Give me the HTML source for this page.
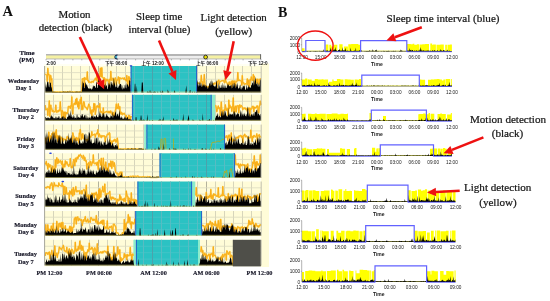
<!DOCTYPE html>
<html><head><meta charset="utf-8"><title>Activity and sleep monitoring</title>
<style>html,body{margin:0;padding:0;background:#fff;width:550px;height:301px;overflow:hidden}svg{display:block}</style>
</head><body>
<svg width="550" height="301" viewBox="0 0 550 301"><rect x="44.0" y="64" width="217.0" height="203" fill="#fffff2"/>
<rect x="261.0" y="63.5" width="8" height="203.5" fill="#fffcd8"/>
<rect x="45.0" y="66.0" width="216.0" height="26.50" fill="#fffcd8"/>
<path d="M53.5 66.0V92.5 M62.5 66.0V92.5 M71.5 66.0V92.5 M80.5 66.0V92.5 M89.5 66.0V92.5 M107.5 66.0V92.5 M116.5 66.0V92.5 M125.5 66.0V92.5 M134.5 66.0V92.5 M143.5 66.0V92.5 M161.5 66.0V92.5 M170.5 66.0V92.5 M179.5 66.0V92.5 M188.5 66.0V92.5 M197.5 66.0V92.5 M215.5 66.0V92.5 M224.5 66.0V92.5 M233.5 66.0V92.5 M242.5 66.0V92.5 M251.5 66.0V92.5" stroke="#d2d0b8" stroke-width="0.9" fill="none"/>
<path d="M98.5 66.0V92.5 M152.5 66.0V92.5 M206.5 66.0V92.5" stroke="#aaa996" stroke-width="0.9" fill="none"/>
<path d="M45.0 72.62H261.0 M45.0 79.25H261.0 M45.0 85.88H261.0" stroke="#dcdac0" stroke-width="0.8" fill="none"/>
<rect x="130.7" y="66.0" width="66.30000000000001" height="26.50" fill="#2bc2c3"/>
<path d="M134.5 66.0V92.5 M143.5 66.0V92.5 M161.5 66.0V92.5 M170.5 66.0V92.5 M179.5 66.0V92.5 M188.5 66.0V92.5" stroke="#6ab8c0" stroke-width="0.75" fill="none"/>
<path d="M130.7 72.62H197.0 M130.7 79.25H197.0 M130.7 85.88H197.0" stroke="#4cc4c8" stroke-width="0.7" fill="none"/>
<path d="M152.5 66.0V92.5" stroke="#4f9ea8" stroke-width="0.9" fill="none"/>
<polyline points="45.3,74.55 45.8,74.35 46.3,74.91 46.8,75.54 47.3,81.34 47.8,68.21 48.3,75.02 48.8,73.98 49.3,75.89 49.8,83.10 50.3,75.29 50.8,75.68 51.3,79.99 51.8,78.64 52.3,91.97 52.8,91.97 53.3,91.97 53.8,91.97 54.3,91.97 54.8,91.97 55.3,91.97 55.8,91.89 56.3,91.97 56.8,91.84 57.3,91.84 57.8,91.86 58.3,91.97 58.8,91.97 59.3,91.97 59.8,91.95 60.3,91.97 60.8,91.96 61.3,91.97 61.8,91.96 62.3,91.77 62.8,91.92 63.3,91.82 63.8,91.73 64.3,91.85 64.8,91.91 65.3,91.87 65.8,91.85 66.3,91.96 66.8,91.82 67.3,91.68 67.8,91.96 68.3,91.72 68.8,91.80 69.3,91.60 69.8,91.37 70.3,91.49 70.8,91.70 71.3,91.59 71.8,91.82 72.3,91.90 72.8,91.83 73.3,91.91 73.8,91.85 74.3,91.78 74.8,91.97 75.3,91.88 75.8,91.92 76.3,91.84 76.8,91.97 77.3,91.92 77.8,91.87 78.3,91.74 78.8,91.69 79.3,91.91 79.8,91.85 80.3,91.70 80.8,91.94 81.3,91.80 81.8,91.76 82.3,78.68 82.8,79.17 83.3,78.30 83.8,78.44 84.3,86.41 84.8,77.46 85.3,79.16 85.8,79.30 86.3,78.99 86.8,79.57 87.3,71.80 87.8,80.87 88.3,80.24 88.8,82.57 89.3,81.50 89.8,81.97 90.3,82.53 90.8,81.94 91.3,82.59 91.8,81.39 92.3,81.94 92.8,81.23 93.3,82.32 93.8,80.76 94.3,79.97 94.8,79.82 95.3,78.22 95.8,78.29 96.3,80.59 96.8,75.33 97.3,77.36 97.8,81.97 98.3,76.17 98.8,78.56 99.3,76.37 99.8,76.29 100.3,68.04 100.8,75.83 101.3,77.01 101.8,67.65 102.3,76.55 102.8,77.64 103.3,77.86 103.8,80.23 104.3,77.74 104.8,78.55 105.3,86.47 105.8,79.47 106.3,79.22 106.8,80.79 107.3,80.41 107.8,79.32 108.3,81.20 108.8,81.59 109.3,87.44 109.8,79.03 110.3,80.23 110.8,71.22 111.3,79.39 111.8,80.41 112.3,78.41 112.8,78.27 113.3,79.23 113.8,86.41 114.3,79.11 114.8,79.58 115.3,77.80 115.8,78.89 116.3,84.89 116.8,80.14 117.3,79.75 117.8,80.09 118.3,76.81 118.8,77.85 119.3,83.69 119.8,77.68 120.3,78.35 120.8,78.24 121.3,78.67 121.8,78.55 122.3,78.06 122.8,78.35 123.3,78.41 123.8,79.36 124.3,77.68 124.8,79.56 125.3,80.03 125.8,79.15 126.3,81.01 126.8,75.43 127.3,82.15 127.8,86.70 128.3,79.55 128.8,76.52 129.3,77.25 129.8,82.17 130.3,77.83" fill="none" stroke="#fcca48" stroke-width="1.5" stroke-linejoin="round"/>
<polyline points="197.3,84.13 197.8,82.62 198.3,83.24 198.8,83.35 199.3,83.55 199.8,83.99 200.3,83.30 200.8,82.72 201.3,75.24 201.8,81.47 202.3,81.57 202.8,86.85 203.3,82.90 203.8,82.29 204.3,74.42 204.8,81.97 205.3,87.03 205.8,86.34 206.3,85.76 206.8,87.00 207.3,87.23 207.8,86.75 208.3,86.66 208.8,90.17 209.3,85.92 209.8,84.75 210.3,85.94 210.8,85.70 211.3,86.05 211.8,87.18 212.3,85.53 212.8,85.23 213.3,83.42 213.8,84.60 214.3,83.08 214.8,83.06 215.3,83.78 215.8,83.43 216.3,82.45 216.8,88.65 217.3,81.25 217.8,81.73 218.3,80.80 218.8,79.99 219.3,84.44 219.8,81.55 220.3,81.50 220.8,81.34 221.3,80.81 221.8,81.06 222.3,80.71 222.8,80.59 223.3,80.82 223.8,80.50 224.3,82.62 224.8,82.70 225.3,77.90 225.8,81.26 226.3,82.09 226.8,82.55 227.3,83.74 227.8,85.64 228.3,84.12 228.8,83.18 229.3,81.88 229.8,84.97 230.3,83.00 230.8,84.26 231.3,81.22 231.8,87.43 232.3,80.73 232.8,84.52 233.3,80.99 233.8,83.74 234.3,81.74 234.8,80.77 235.3,86.99 235.8,82.24 236.3,81.23 236.8,81.77 237.3,80.11 237.8,72.39 238.3,79.83 238.8,80.72 239.3,79.99 239.8,80.39 240.3,80.63 240.8,80.72 241.3,81.42 241.8,85.26 242.3,75.52 242.8,83.18 243.3,83.00 243.8,82.69 244.3,84.70 244.8,84.26 245.3,83.67 245.8,83.68 246.3,84.21 246.8,83.37 247.3,78.83 247.8,84.92 248.3,82.67 248.8,79.96 249.3,87.46 249.8,84.74 250.3,79.23 250.8,80.60 251.3,76.78 251.8,79.61 252.3,79.53 252.8,80.79 253.3,74.45 253.8,79.05 254.3,76.13 254.8,82.07 255.3,85.59 255.8,83.75 256.3,81.55 256.8,79.11 257.3,82.85 257.8,79.03 258.3,83.08 258.8,84.38 259.3,83.68 259.8,79.17 260.3,78.69 260.8,78.99" fill="none" stroke="#fcca48" stroke-width="1.5" stroke-linejoin="round"/>
<polyline points="45.3,74.55 45.8,74.35 46.3,74.91 46.8,75.54 47.3,81.34 47.8,68.21 48.3,75.02 48.8,73.98 49.3,75.89 49.8,83.10 50.3,75.29 50.8,75.68 51.3,79.99 51.8,78.64 52.3,91.97 52.8,91.97 53.3,91.97 53.8,91.97 54.3,91.97 54.8,91.97 55.3,91.97 55.8,91.89 56.3,91.97 56.8,91.84 57.3,91.84 57.8,91.86 58.3,91.97 58.8,91.97 59.3,91.97 59.8,91.95 60.3,91.97 60.8,91.96 61.3,91.97 61.8,91.96 62.3,91.77 62.8,91.92 63.3,91.82 63.8,91.73 64.3,91.85 64.8,91.91 65.3,91.87 65.8,91.85 66.3,91.96 66.8,91.82 67.3,91.68 67.8,91.96 68.3,91.72 68.8,91.80 69.3,91.60 69.8,91.37 70.3,91.49 70.8,91.70 71.3,91.59 71.8,91.82 72.3,91.90 72.8,91.83 73.3,91.91 73.8,91.85 74.3,91.78 74.8,91.97 75.3,91.88 75.8,91.92 76.3,91.84 76.8,91.97 77.3,91.92 77.8,91.87 78.3,91.74 78.8,91.69 79.3,91.91 79.8,91.85 80.3,91.70 80.8,91.94 81.3,91.80 81.8,91.76 82.3,78.68 82.8,79.17 83.3,78.30 83.8,78.44 84.3,86.41 84.8,77.46 85.3,79.16 85.8,79.30 86.3,78.99 86.8,79.57 87.3,71.80 87.8,80.87 88.3,80.24 88.8,82.57 89.3,81.50 89.8,81.97 90.3,82.53 90.8,81.94 91.3,82.59 91.8,81.39 92.3,81.94 92.8,81.23 93.3,82.32 93.8,80.76 94.3,79.97 94.8,79.82 95.3,78.22 95.8,78.29 96.3,80.59 96.8,75.33 97.3,77.36 97.8,81.97 98.3,76.17 98.8,78.56 99.3,76.37 99.8,76.29 100.3,68.04 100.8,75.83 101.3,77.01 101.8,67.65 102.3,76.55 102.8,77.64 103.3,77.86 103.8,80.23 104.3,77.74 104.8,78.55 105.3,86.47 105.8,79.47 106.3,79.22 106.8,80.79 107.3,80.41 107.8,79.32 108.3,81.20 108.8,81.59 109.3,87.44 109.8,79.03 110.3,80.23 110.8,71.22 111.3,79.39 111.8,80.41 112.3,78.41 112.8,78.27 113.3,79.23 113.8,86.41 114.3,79.11 114.8,79.58 115.3,77.80 115.8,78.89 116.3,84.89 116.8,80.14 117.3,79.75 117.8,80.09 118.3,76.81 118.8,77.85 119.3,83.69 119.8,77.68 120.3,78.35 120.8,78.24 121.3,78.67 121.8,78.55 122.3,78.06 122.8,78.35 123.3,78.41 123.8,79.36 124.3,77.68 124.8,79.56 125.3,80.03 125.8,79.15 126.3,81.01 126.8,75.43 127.3,82.15 127.8,86.70 128.3,79.55 128.8,76.52 129.3,77.25 129.8,82.17 130.3,77.83" fill="none" stroke="#f8a810" stroke-width="0.75" stroke-linejoin="round"/>
<polyline points="197.3,84.13 197.8,82.62 198.3,83.24 198.8,83.35 199.3,83.55 199.8,83.99 200.3,83.30 200.8,82.72 201.3,75.24 201.8,81.47 202.3,81.57 202.8,86.85 203.3,82.90 203.8,82.29 204.3,74.42 204.8,81.97 205.3,87.03 205.8,86.34 206.3,85.76 206.8,87.00 207.3,87.23 207.8,86.75 208.3,86.66 208.8,90.17 209.3,85.92 209.8,84.75 210.3,85.94 210.8,85.70 211.3,86.05 211.8,87.18 212.3,85.53 212.8,85.23 213.3,83.42 213.8,84.60 214.3,83.08 214.8,83.06 215.3,83.78 215.8,83.43 216.3,82.45 216.8,88.65 217.3,81.25 217.8,81.73 218.3,80.80 218.8,79.99 219.3,84.44 219.8,81.55 220.3,81.50 220.8,81.34 221.3,80.81 221.8,81.06 222.3,80.71 222.8,80.59 223.3,80.82 223.8,80.50 224.3,82.62 224.8,82.70 225.3,77.90 225.8,81.26 226.3,82.09 226.8,82.55 227.3,83.74 227.8,85.64 228.3,84.12 228.8,83.18 229.3,81.88 229.8,84.97 230.3,83.00 230.8,84.26 231.3,81.22 231.8,87.43 232.3,80.73 232.8,84.52 233.3,80.99 233.8,83.74 234.3,81.74 234.8,80.77 235.3,86.99 235.8,82.24 236.3,81.23 236.8,81.77 237.3,80.11 237.8,72.39 238.3,79.83 238.8,80.72 239.3,79.99 239.8,80.39 240.3,80.63 240.8,80.72 241.3,81.42 241.8,85.26 242.3,75.52 242.8,83.18 243.3,83.00 243.8,82.69 244.3,84.70 244.8,84.26 245.3,83.67 245.8,83.68 246.3,84.21 246.8,83.37 247.3,78.83 247.8,84.92 248.3,82.67 248.8,79.96 249.3,87.46 249.8,84.74 250.3,79.23 250.8,80.60 251.3,76.78 251.8,79.61 252.3,79.53 252.8,80.79 253.3,74.45 253.8,79.05 254.3,76.13 254.8,82.07 255.3,85.59 255.8,83.75 256.3,81.55 256.8,79.11 257.3,82.85 257.8,79.03 258.3,83.08 258.8,84.38 259.3,83.68 259.8,79.17 260.3,78.69 260.8,78.99" fill="none" stroke="#f8a810" stroke-width="0.75" stroke-linejoin="round"/>
<polygon points="45.3,92.50 45.3,81.35 45.8,86.13 46.3,87.91 46.8,85.06 47.3,81.10 47.8,82.18 48.3,81.81 48.8,86.61 49.3,87.59 49.8,82.15 50.3,83.08 50.8,82.37 51.3,86.89 51.8,87.78 52.3,91.91 52.8,91.28 53.3,91.28 53.8,91.91 54.3,91.44 54.8,91.95 55.3,91.94 55.8,91.87 56.3,92.10 56.8,92.08 57.3,92.09 57.8,92.10 58.3,91.94 58.8,92.16 59.3,91.73 59.8,92.12 60.3,91.98 60.8,91.83 61.3,92.13 61.8,91.99 62.3,91.87 62.8,91.87 63.3,91.51 63.8,91.61 64.3,92.10 64.8,91.53 65.3,91.77 65.8,91.63 66.3,92.03 66.8,91.81 67.3,91.56 67.8,91.45 68.3,91.44 68.8,92.00 69.3,91.49 69.8,91.79 70.3,91.75 70.8,91.62 71.3,92.01 71.8,91.64 72.3,91.72 72.8,91.79 73.3,92.09 73.8,91.99 74.3,92.15 74.8,91.74 75.3,91.58 75.8,92.09 76.3,91.62 76.8,91.61 77.3,92.05 77.8,91.22 78.3,91.71 78.8,91.88 79.3,91.99 79.8,91.28 80.3,91.78 80.8,91.59 81.3,91.89 81.8,91.50 82.3,85.45 82.8,81.08 83.3,83.17 83.8,82.86 84.3,87.40 84.8,88.43 85.3,82.57 85.8,82.45 86.3,85.79 86.8,83.70 87.3,86.12 87.8,87.15 88.3,88.32 88.8,88.77 89.3,88.11 89.8,89.36 90.3,88.51 90.8,88.18 91.3,89.90 91.8,88.58 92.3,88.94 92.8,86.82 93.3,85.28 93.8,86.65 94.3,86.00 94.8,86.07 95.3,88.19 95.8,87.22 96.3,82.83 96.8,81.24 97.3,87.85 97.8,88.23 98.3,80.09 98.8,76.91 99.3,77.32 99.8,81.52 100.3,84.25 100.8,80.62 101.3,87.31 101.8,86.09 102.3,84.31 102.8,88.03 103.3,84.61 103.8,88.05 104.3,84.94 104.8,84.42 105.3,87.60 105.8,82.99 106.3,86.30 106.8,85.12 107.3,89.21 107.8,88.98 108.3,85.13 108.8,82.51 109.3,85.48 109.8,82.51 110.3,88.61 110.8,81.86 111.3,81.72 111.8,84.01 112.3,85.58 112.8,82.41 113.3,86.66 113.8,76.83 114.3,81.90 114.8,83.66 115.3,86.26 115.8,87.44 116.3,86.81 116.8,80.52 117.3,87.17 117.8,87.99 118.3,87.50 118.8,85.93 119.3,85.74 119.8,83.48 120.3,84.24 120.8,83.76 121.3,84.89 121.8,88.25 122.3,89.63 122.8,84.92 123.3,89.35 123.8,87.31 124.3,89.06 124.8,85.31 125.3,84.16 125.8,87.64 126.3,88.42 126.8,83.02 127.3,84.85 127.8,84.34 128.3,86.37 128.8,87.08 129.3,79.67 129.8,80.78 130.3,81.16 130.8,92.50 131.3,92.50 131.8,92.50 132.3,92.50 132.8,92.50 133.3,92.50 133.8,92.50 134.3,92.50 134.8,83.75 135.3,83.75 135.8,92.50 136.3,92.50 136.8,85.57 137.3,92.50 137.8,92.50 138.3,92.50 138.8,92.50 139.3,92.50 139.8,92.50 140.3,92.50 140.8,92.50 141.3,92.50 141.8,82.43 142.3,82.43 142.8,82.43 143.3,92.50 143.8,92.50 144.3,92.50 144.8,92.50 145.3,92.50 145.8,92.50 146.3,92.50 146.8,92.50 147.3,90.78 147.8,92.50 148.3,91.54 148.8,92.50 149.3,92.50 149.8,90.47 150.3,90.39 150.8,92.50 151.3,91.50 151.8,92.50 152.3,92.50 152.8,92.50 153.3,91.45 153.8,92.50 154.3,90.85 154.8,92.50 155.3,91.62 155.8,92.50 156.3,92.50 156.8,92.50 157.3,92.50 157.8,91.16 158.3,92.50 158.8,92.50 159.3,92.50 159.8,92.50 160.3,92.50 160.8,90.54 161.3,92.50 161.8,92.50 162.3,91.09 162.8,90.42 163.3,92.50 163.8,92.50 164.3,92.50 164.8,92.50 165.3,92.50 165.8,92.50 166.3,92.50 166.8,92.50 167.3,92.50 167.8,89.18 168.3,92.50 168.8,90.41 169.3,92.50 169.8,92.50 170.3,92.50 170.8,92.50 171.3,92.50 171.8,92.50 172.3,92.50 172.8,92.50 173.3,92.50 173.8,92.50 174.3,90.66 174.8,90.54 175.3,92.50 175.8,92.50 176.3,92.50 176.8,92.50 177.3,92.50 177.8,92.50 178.3,92.50 178.8,92.50 179.3,92.50 179.8,92.50 180.3,92.50 180.8,92.50 181.3,92.50 181.8,92.50 182.3,92.50 182.8,92.50 183.3,92.50 183.8,92.50 184.3,92.50 184.8,92.50 185.3,92.50 185.8,89.36 186.3,85.29 186.8,92.50 187.3,92.50 187.8,92.50 188.3,92.50 188.8,92.50 189.3,92.50 189.8,90.43 190.3,89.71 190.8,92.50 191.3,92.50 191.8,92.50 192.3,91.25 192.8,92.50 193.3,92.50 193.8,92.50 194.3,92.50 194.8,91.16 195.3,92.50 195.8,92.50 196.3,92.50 196.8,88.53 197.3,82.75 197.8,79.97 198.3,84.62 198.8,86.76 199.3,85.39 199.8,81.01 200.3,83.30 200.8,85.72 201.3,87.24 201.8,82.85 202.3,84.93 202.8,87.03 203.3,83.85 203.8,85.93 204.3,83.90 204.8,86.58 205.3,84.79 205.8,87.48 206.3,86.30 206.8,85.06 207.3,89.21 207.8,87.23 208.3,85.86 208.8,88.70 209.3,83.31 209.8,83.61 210.3,80.48 210.8,86.08 211.3,85.06 211.8,79.35 212.3,85.26 212.8,80.31 213.3,85.17 213.8,85.90 214.3,86.36 214.8,86.79 215.3,85.32 215.8,87.49 216.3,81.63 216.8,80.12 217.3,88.19 217.8,88.49 218.3,88.63 218.8,81.91 219.3,88.63 219.8,84.64 220.3,87.53 220.8,88.04 221.3,87.81 221.8,84.24 222.3,88.63 222.8,82.56 223.3,85.67 223.8,88.12 224.3,88.36 224.8,85.46 225.3,85.79 225.8,88.03 226.3,88.00 226.8,87.22 227.3,83.18 227.8,86.52 228.3,83.68 228.8,85.45 229.3,86.03 229.8,86.53 230.3,84.90 230.8,86.50 231.3,84.49 231.8,88.43 232.3,87.75 232.8,83.12 233.3,87.35 233.8,83.46 234.3,82.39 234.8,85.75 235.3,88.55 235.8,83.77 236.3,84.54 236.8,87.51 237.3,82.36 237.8,86.13 238.3,88.45 238.8,88.48 239.3,88.08 239.8,85.68 240.3,84.30 240.8,89.18 241.3,89.51 241.8,87.09 242.3,88.58 242.8,86.39 243.3,86.50 243.8,85.79 244.3,85.43 244.8,86.78 245.3,90.06 245.8,89.78 246.3,87.57 246.8,84.49 247.3,89.43 247.8,87.29 248.3,87.29 248.8,84.82 249.3,87.62 249.8,87.34 250.3,87.46 250.8,87.88 251.3,84.60 251.8,85.57 252.3,82.59 252.8,83.20 253.3,78.83 253.8,85.93 254.3,79.28 254.8,85.14 255.3,76.83 255.8,79.57 256.3,84.60 256.8,84.09 257.3,81.88 257.8,86.75 258.3,83.12 258.8,86.92 259.3,86.47 259.8,83.10 260.3,79.26 260.8,79.65 260.8,92.50" fill="#000"/>
<path d="M131.1 66.0V92.5M196.6 66.0V92.5" stroke="#2255cc" stroke-width="0.9"/>
<path d="M45.0 92.00H261.0" stroke="#f3e98a" stroke-width="0.8" opacity="0.7"/>
<rect x="45.0" y="94.8" width="216.0" height="26.00" fill="#fffcd8"/>
<path d="M53.5 94.8V120.8 M62.5 94.8V120.8 M71.5 94.8V120.8 M80.5 94.8V120.8 M89.5 94.8V120.8 M107.5 94.8V120.8 M116.5 94.8V120.8 M125.5 94.8V120.8 M134.5 94.8V120.8 M143.5 94.8V120.8 M161.5 94.8V120.8 M170.5 94.8V120.8 M179.5 94.8V120.8 M188.5 94.8V120.8 M197.5 94.8V120.8 M215.5 94.8V120.8 M224.5 94.8V120.8 M233.5 94.8V120.8 M242.5 94.8V120.8 M251.5 94.8V120.8" stroke="#d2d0b8" stroke-width="0.9" fill="none"/>
<path d="M98.5 94.8V120.8 M152.5 94.8V120.8 M206.5 94.8V120.8" stroke="#aaa996" stroke-width="0.9" fill="none"/>
<path d="M45.0 101.30H261.0 M45.0 107.80H261.0 M45.0 114.30H261.0" stroke="#dcdac0" stroke-width="0.8" fill="none"/>
<rect x="211.6" y="94.8" width="3.5999999999999943" height="26.00" fill="#8ceccb"/>
<rect x="132.0" y="94.8" width="79.6" height="26.00" fill="#2bc2c3"/>
<path d="M134.5 94.8V120.8 M143.5 94.8V120.8 M161.5 94.8V120.8 M170.5 94.8V120.8 M179.5 94.8V120.8 M188.5 94.8V120.8 M197.5 94.8V120.8" stroke="#6ab8c0" stroke-width="0.75" fill="none"/>
<path d="M132.0 101.30H211.6 M132.0 107.80H211.6 M132.0 114.30H211.6" stroke="#4cc4c8" stroke-width="0.7" fill="none"/>
<path d="M152.5 94.8V120.8 M206.5 94.8V120.8" stroke="#4f9ea8" stroke-width="0.9" fill="none"/>
<polyline points="45.3,105.13 45.8,109.90 46.3,109.10 46.8,109.28 47.3,108.65 47.8,115.56 48.3,110.14 48.8,108.43 49.3,100.77 49.8,116.37 50.3,109.79 50.8,105.01 51.3,109.16 51.8,108.66 52.3,111.57 52.8,110.48 53.3,110.62 53.8,111.88 54.3,111.68 54.8,112.01 55.3,110.69 55.8,105.09 56.3,111.21 56.8,112.45 57.3,111.50 57.8,110.56 58.3,111.82 58.8,110.10 59.3,111.08 59.8,108.88 60.3,101.75 60.8,109.87 61.3,112.06 61.8,117.84 62.3,110.51 62.8,111.85 63.3,112.09 63.8,117.70 64.3,113.26 64.8,111.91 65.3,119.66 65.8,112.30 66.3,113.64 66.8,112.70 67.3,113.65 67.8,112.11 68.3,106.45 68.8,106.41 69.3,106.73 69.8,106.46 70.3,108.60 70.8,105.75 71.3,106.23 71.8,96.84 72.3,109.50 72.8,114.05 73.3,105.44 73.8,104.38 74.3,103.03 74.8,104.41 75.3,104.40 75.8,99.18 76.3,104.11 76.8,98.35 77.3,103.23 77.8,107.01 78.3,101.84 78.8,108.90 79.3,104.42 79.8,102.37 80.3,99.20 80.8,104.09 81.3,97.14 81.8,109.81 82.3,105.47 82.8,109.40 83.3,103.00 83.8,101.60 84.3,102.83 84.8,106.91 85.3,107.26 85.8,107.11 86.3,108.29 86.8,108.03 87.3,109.72 87.8,107.85 88.3,105.88 88.8,104.04 89.3,105.45 89.8,106.50 90.3,109.16 90.8,113.44 91.3,110.24 91.8,115.88 92.3,109.84 92.8,110.60 93.3,111.93 93.8,103.49 94.3,110.10 94.8,103.73 95.3,114.51 95.8,111.26 96.3,106.86 96.8,106.16 97.3,105.64 97.8,107.13 98.3,107.57 98.8,105.85 99.3,107.66 99.8,103.53 100.3,112.15 100.8,111.93 101.3,111.48 101.8,112.61 102.3,112.69 102.8,114.32 103.3,107.85 103.8,113.31 104.3,112.66 104.8,112.63 105.3,111.88 105.8,111.90 106.3,111.95 106.8,111.23 107.3,111.99 107.8,111.97 108.3,112.82 108.8,111.17 109.3,112.83 109.8,111.41 110.3,113.02 110.8,110.87 111.3,112.42 111.8,113.19 112.3,115.08 112.8,113.82 113.3,112.35 113.8,116.37 114.3,114.58 114.8,114.84 115.3,110.77 115.8,108.11 116.3,103.90 116.8,108.86 117.3,107.15 117.8,108.25 118.3,103.77 118.8,108.80 119.3,109.34 119.8,106.56 120.3,114.04 120.8,112.33 121.3,112.17 121.8,114.35 122.3,114.76 122.8,113.13 123.3,114.05 123.8,113.64 124.3,113.25 124.8,114.58 125.3,115.30 125.8,117.39 126.3,115.39 126.8,116.40 127.3,120.28 127.8,120.28 128.3,120.27 128.8,115.13 129.3,115.68 129.8,115.89 130.3,120.28 130.8,116.69 131.3,116.72 131.8,116.93" fill="none" stroke="#fcca48" stroke-width="1.5" stroke-linejoin="round"/>
<polyline points="215.3,105.65 215.8,105.59 216.3,108.31 216.8,111.73 217.3,109.20 217.8,107.53 218.3,105.88 218.8,108.62 219.3,108.27 219.8,107.81 220.3,115.51 220.8,108.40 221.3,101.89 221.8,110.16 222.3,110.13 222.8,117.36 223.3,110.38 223.8,110.57 224.3,109.64 224.8,110.18 225.3,104.72 225.8,107.69 226.3,110.22 226.8,110.06 227.3,108.51 227.8,115.23 228.3,115.62 228.8,100.03 229.3,108.75 229.8,104.89 230.3,107.61 230.8,106.76 231.3,107.17 231.8,111.40 232.3,107.33 232.8,105.60 233.3,97.75 233.8,113.01 234.3,107.51 234.8,112.11 235.3,106.00 235.8,106.85 236.3,111.89 236.8,105.88 237.3,105.86 237.8,105.56 238.3,105.65 238.8,113.04 239.3,106.31 239.8,104.83 240.3,107.33 240.8,106.63 241.3,105.45 241.8,106.43 242.3,106.83 242.8,109.79 243.3,108.40 243.8,108.09 244.3,107.79 244.8,108.83 245.3,107.94 245.8,109.50 246.3,108.68 246.8,109.35 247.3,111.18 247.8,108.28 248.3,108.14 248.8,109.72 249.3,108.04 249.8,115.58 250.3,109.11 250.8,108.41 251.3,109.27 251.8,108.64 252.3,106.18 252.8,106.80 253.3,106.40 253.8,111.67 254.3,106.97 254.8,108.28 255.3,107.30 255.8,107.98 256.3,107.71 256.8,105.97 257.3,105.85 257.8,107.20 258.3,112.51 258.8,112.85 259.3,105.73 259.8,105.72 260.3,101.10 260.8,104.86" fill="none" stroke="#fcca48" stroke-width="1.5" stroke-linejoin="round"/>
<polyline points="45.3,105.13 45.8,109.90 46.3,109.10 46.8,109.28 47.3,108.65 47.8,115.56 48.3,110.14 48.8,108.43 49.3,100.77 49.8,116.37 50.3,109.79 50.8,105.01 51.3,109.16 51.8,108.66 52.3,111.57 52.8,110.48 53.3,110.62 53.8,111.88 54.3,111.68 54.8,112.01 55.3,110.69 55.8,105.09 56.3,111.21 56.8,112.45 57.3,111.50 57.8,110.56 58.3,111.82 58.8,110.10 59.3,111.08 59.8,108.88 60.3,101.75 60.8,109.87 61.3,112.06 61.8,117.84 62.3,110.51 62.8,111.85 63.3,112.09 63.8,117.70 64.3,113.26 64.8,111.91 65.3,119.66 65.8,112.30 66.3,113.64 66.8,112.70 67.3,113.65 67.8,112.11 68.3,106.45 68.8,106.41 69.3,106.73 69.8,106.46 70.3,108.60 70.8,105.75 71.3,106.23 71.8,96.84 72.3,109.50 72.8,114.05 73.3,105.44 73.8,104.38 74.3,103.03 74.8,104.41 75.3,104.40 75.8,99.18 76.3,104.11 76.8,98.35 77.3,103.23 77.8,107.01 78.3,101.84 78.8,108.90 79.3,104.42 79.8,102.37 80.3,99.20 80.8,104.09 81.3,97.14 81.8,109.81 82.3,105.47 82.8,109.40 83.3,103.00 83.8,101.60 84.3,102.83 84.8,106.91 85.3,107.26 85.8,107.11 86.3,108.29 86.8,108.03 87.3,109.72 87.8,107.85 88.3,105.88 88.8,104.04 89.3,105.45 89.8,106.50 90.3,109.16 90.8,113.44 91.3,110.24 91.8,115.88 92.3,109.84 92.8,110.60 93.3,111.93 93.8,103.49 94.3,110.10 94.8,103.73 95.3,114.51 95.8,111.26 96.3,106.86 96.8,106.16 97.3,105.64 97.8,107.13 98.3,107.57 98.8,105.85 99.3,107.66 99.8,103.53 100.3,112.15 100.8,111.93 101.3,111.48 101.8,112.61 102.3,112.69 102.8,114.32 103.3,107.85 103.8,113.31 104.3,112.66 104.8,112.63 105.3,111.88 105.8,111.90 106.3,111.95 106.8,111.23 107.3,111.99 107.8,111.97 108.3,112.82 108.8,111.17 109.3,112.83 109.8,111.41 110.3,113.02 110.8,110.87 111.3,112.42 111.8,113.19 112.3,115.08 112.8,113.82 113.3,112.35 113.8,116.37 114.3,114.58 114.8,114.84 115.3,110.77 115.8,108.11 116.3,103.90 116.8,108.86 117.3,107.15 117.8,108.25 118.3,103.77 118.8,108.80 119.3,109.34 119.8,106.56 120.3,114.04 120.8,112.33 121.3,112.17 121.8,114.35 122.3,114.76 122.8,113.13 123.3,114.05 123.8,113.64 124.3,113.25 124.8,114.58 125.3,115.30 125.8,117.39 126.3,115.39 126.8,116.40 127.3,120.28 127.8,120.28 128.3,120.27 128.8,115.13 129.3,115.68 129.8,115.89 130.3,120.28 130.8,116.69 131.3,116.72 131.8,116.93" fill="none" stroke="#f8a810" stroke-width="0.75" stroke-linejoin="round"/>
<polyline points="215.3,105.65 215.8,105.59 216.3,108.31 216.8,111.73 217.3,109.20 217.8,107.53 218.3,105.88 218.8,108.62 219.3,108.27 219.8,107.81 220.3,115.51 220.8,108.40 221.3,101.89 221.8,110.16 222.3,110.13 222.8,117.36 223.3,110.38 223.8,110.57 224.3,109.64 224.8,110.18 225.3,104.72 225.8,107.69 226.3,110.22 226.8,110.06 227.3,108.51 227.8,115.23 228.3,115.62 228.8,100.03 229.3,108.75 229.8,104.89 230.3,107.61 230.8,106.76 231.3,107.17 231.8,111.40 232.3,107.33 232.8,105.60 233.3,97.75 233.8,113.01 234.3,107.51 234.8,112.11 235.3,106.00 235.8,106.85 236.3,111.89 236.8,105.88 237.3,105.86 237.8,105.56 238.3,105.65 238.8,113.04 239.3,106.31 239.8,104.83 240.3,107.33 240.8,106.63 241.3,105.45 241.8,106.43 242.3,106.83 242.8,109.79 243.3,108.40 243.8,108.09 244.3,107.79 244.8,108.83 245.3,107.94 245.8,109.50 246.3,108.68 246.8,109.35 247.3,111.18 247.8,108.28 248.3,108.14 248.8,109.72 249.3,108.04 249.8,115.58 250.3,109.11 250.8,108.41 251.3,109.27 251.8,108.64 252.3,106.18 252.8,106.80 253.3,106.40 253.8,111.67 254.3,106.97 254.8,108.28 255.3,107.30 255.8,107.98 256.3,107.71 256.8,105.97 257.3,105.85 257.8,107.20 258.3,112.51 258.8,112.85 259.3,105.73 259.8,105.72 260.3,101.10 260.8,104.86" fill="none" stroke="#f8a810" stroke-width="0.75" stroke-linejoin="round"/>
<polygon points="45.3,120.80 45.3,117.30 45.8,116.83 46.3,118.43 46.8,117.99 47.3,117.14 47.8,118.47 48.3,118.13 48.8,117.35 49.3,118.27 49.8,118.63 50.3,115.36 50.8,118.65 51.3,114.92 51.8,115.82 52.3,117.76 52.8,115.84 53.3,118.85 53.8,117.46 54.3,118.30 54.8,118.48 55.3,115.96 55.8,118.98 56.3,116.19 56.8,118.97 57.3,117.11 57.8,118.53 58.3,117.73 58.8,115.81 59.3,116.50 59.8,118.92 60.3,118.50 60.8,117.92 61.3,117.04 61.8,119.07 62.3,116.40 62.8,116.61 63.3,116.04 63.8,118.88 64.3,118.85 64.8,116.56 65.3,117.94 65.8,118.74 66.3,119.04 66.8,118.73 67.3,117.04 67.8,116.72 68.3,116.54 68.8,112.27 69.3,115.60 69.8,115.64 70.3,109.73 70.8,116.56 71.3,116.97 71.8,114.14 72.3,116.90 72.8,117.93 73.3,117.26 73.8,114.72 74.3,116.60 74.8,118.58 75.3,117.72 75.8,117.48 76.3,118.68 76.8,114.56 77.3,114.51 77.8,118.32 78.3,116.52 78.8,117.48 79.3,117.70 79.8,117.38 80.3,117.92 80.8,114.73 81.3,116.71 81.8,114.51 82.3,113.64 82.8,115.46 83.3,116.86 83.8,117.72 84.3,115.24 84.8,115.29 85.3,114.76 85.8,118.15 86.3,118.42 86.8,114.91 87.3,116.78 87.8,118.72 88.3,116.64 88.8,118.88 89.3,117.29 89.8,117.64 90.3,116.95 90.8,118.94 91.3,115.98 91.8,115.81 92.3,115.56 92.8,116.59 93.3,118.34 93.8,115.07 94.3,116.91 94.8,116.20 95.3,116.30 95.8,118.10 96.3,114.50 96.8,115.62 97.3,117.58 97.8,116.68 98.3,117.47 98.8,115.95 99.3,110.82 99.8,115.81 100.3,115.64 100.8,112.25 101.3,117.12 101.8,117.01 102.3,112.81 102.8,116.98 103.3,114.05 103.8,112.50 104.3,114.96 104.8,117.62 105.3,117.42 105.8,115.94 106.3,113.21 106.8,115.65 107.3,115.56 107.8,116.27 108.3,117.58 108.8,116.24 109.3,118.38 109.8,117.22 110.3,114.86 110.8,117.96 111.3,115.91 111.8,115.55 112.3,118.20 112.8,110.16 113.3,118.06 113.8,114.36 114.3,116.23 114.8,114.42 115.3,111.37 115.8,112.51 116.3,115.26 116.8,116.78 117.3,113.81 117.8,113.83 118.3,116.80 118.8,115.08 119.3,109.38 119.8,113.54 120.3,118.86 120.8,117.35 121.3,118.05 121.8,115.97 122.3,117.89 122.8,119.02 123.3,118.85 123.8,118.87 124.3,116.07 124.8,118.55 125.3,118.62 125.8,116.32 126.3,119.09 126.8,118.08 127.3,117.03 127.8,117.35 128.3,119.47 128.8,119.03 129.3,119.50 129.8,118.53 130.3,119.51 130.8,119.60 131.3,119.47 131.8,119.65 132.3,120.80 132.8,120.80 133.3,119.35 133.8,120.80 134.3,120.80 134.8,120.80 135.3,120.80 135.8,116.90 136.3,116.90 136.8,120.80 137.3,120.80 137.8,120.80 138.3,120.80 138.8,120.80 139.3,119.53 139.8,120.80 140.3,120.80 140.8,115.60 141.3,115.60 141.8,120.80 142.3,119.76 142.8,120.80 143.3,120.80 143.8,119.02 144.3,119.91 144.8,120.80 145.3,120.80 145.8,120.80 146.3,120.80 146.8,119.93 147.3,114.12 147.8,120.80 148.3,120.80 148.8,120.80 149.3,120.80 149.8,119.61 150.3,120.80 150.8,120.80 151.3,120.80 151.8,120.80 152.3,119.95 152.8,119.91 153.3,120.80 153.8,120.80 154.3,120.80 154.8,120.80 155.3,120.80 155.8,120.80 156.3,120.80 156.8,120.80 157.3,120.80 157.8,120.80 158.3,120.80 158.8,119.74 159.3,120.80 159.8,118.79 160.3,119.05 160.8,120.80 161.3,120.80 161.8,120.80 162.3,119.12 162.8,120.80 163.3,116.07 163.8,120.80 164.3,120.80 164.8,120.80 165.3,120.80 165.8,120.80 166.3,120.80 166.8,120.80 167.3,120.80 167.8,120.80 168.3,120.80 168.8,120.80 169.3,120.80 169.8,120.80 170.3,119.78 170.8,120.80 171.3,120.80 171.8,120.80 172.3,120.80 172.8,120.80 173.3,117.77 173.8,119.48 174.3,120.80 174.8,119.51 175.3,120.80 175.8,119.76 176.3,119.14 176.8,120.80 177.3,119.34 177.8,120.80 178.3,120.80 178.8,120.80 179.3,120.80 179.8,120.80 180.3,120.80 180.8,120.80 181.3,120.80 181.8,120.80 182.3,120.80 182.8,119.10 183.3,113.58 183.8,120.80 184.3,120.80 184.8,120.80 185.3,120.80 185.8,120.80 186.3,120.80 186.8,120.80 187.3,120.80 187.8,119.01 188.3,116.81 188.8,114.77 189.3,120.80 189.8,120.80 190.3,120.80 190.8,120.80 191.3,120.80 191.8,120.80 192.3,120.80 192.8,119.34 193.3,120.80 193.8,119.61 194.3,120.80 194.8,120.80 195.3,120.80 195.8,120.80 196.3,120.80 196.8,120.80 197.3,120.80 197.8,120.80 198.3,120.80 198.8,120.80 199.3,120.80 199.8,119.25 200.3,120.80 200.8,119.95 201.3,120.80 201.8,120.80 202.3,120.80 202.8,113.18 203.3,120.80 203.8,120.80 204.3,120.80 204.8,120.80 205.3,120.80 205.8,120.80 206.3,120.80 206.8,120.80 207.3,120.80 207.8,119.79 208.3,120.80 208.8,119.79 209.3,119.54 209.8,118.85 210.3,120.80 210.8,120.80 211.3,119.66 211.8,120.80 212.3,120.80 212.8,120.80 213.3,119.76 213.8,120.80 214.3,120.80 214.8,120.80 215.3,118.15 215.8,117.27 216.3,114.97 216.8,116.22 217.3,115.31 217.8,112.71 218.3,116.69 218.8,117.38 219.3,116.25 219.8,115.19 220.3,117.34 220.8,117.52 221.3,113.46 221.8,110.96 222.3,111.46 222.8,115.96 223.3,115.30 223.8,111.90 224.3,110.24 224.8,115.76 225.3,110.24 225.8,112.94 226.3,116.78 226.8,115.10 227.3,117.15 227.8,115.45 228.3,114.79 228.8,107.38 229.3,116.11 229.8,113.81 230.3,113.75 230.8,114.84 231.3,114.05 231.8,115.15 232.3,113.71 232.8,114.87 233.3,110.47 233.8,116.82 234.3,110.97 234.8,112.09 235.3,116.94 235.8,112.41 236.3,115.41 236.8,114.30 237.3,114.26 237.8,112.27 238.3,114.55 238.8,113.25 239.3,116.36 239.8,116.89 240.3,113.05 240.8,109.61 241.3,116.96 241.8,110.82 242.3,115.63 242.8,113.61 243.3,116.40 243.8,113.37 244.3,115.34 244.8,112.40 245.3,116.32 245.8,115.98 246.3,113.71 246.8,116.92 247.3,109.97 247.8,106.31 248.3,109.93 248.8,116.56 249.3,112.63 249.8,116.42 250.3,116.87 250.8,114.91 251.3,114.63 251.8,113.86 252.3,114.62 252.8,116.32 253.3,112.62 253.8,115.86 254.3,115.68 254.8,111.38 255.3,112.30 255.8,111.88 256.3,109.56 256.8,110.43 257.3,116.05 257.8,109.02 258.3,113.92 258.8,113.56 259.3,115.79 259.8,115.12 260.3,113.77 260.8,116.89 260.8,120.80" fill="#000"/>
<path d="M132.4 94.8V120.8M211.2 94.8V120.8" stroke="#2255cc" stroke-width="0.9"/>
<path d="M45.0 120.30H261.0" stroke="#f3e98a" stroke-width="0.8" opacity="0.7"/>
<rect x="45.0" y="124.6" width="216.0" height="25.20" fill="#fffcd8"/>
<path d="M53.5 124.6V149.8 M62.5 124.6V149.8 M71.5 124.6V149.8 M80.5 124.6V149.8 M89.5 124.6V149.8 M107.5 124.6V149.8 M116.5 124.6V149.8 M125.5 124.6V149.8 M134.5 124.6V149.8 M143.5 124.6V149.8 M161.5 124.6V149.8 M170.5 124.6V149.8 M179.5 124.6V149.8 M188.5 124.6V149.8 M197.5 124.6V149.8 M215.5 124.6V149.8 M224.5 124.6V149.8 M233.5 124.6V149.8 M242.5 124.6V149.8 M251.5 124.6V149.8" stroke="#d2d0b8" stroke-width="0.9" fill="none"/>
<path d="M98.5 124.6V149.8 M152.5 124.6V149.8 M206.5 124.6V149.8" stroke="#aaa996" stroke-width="0.9" fill="none"/>
<path d="M45.0 130.90H261.0 M45.0 137.20H261.0 M45.0 143.50H261.0" stroke="#dcdac0" stroke-width="0.8" fill="none"/>
<rect x="144.2" y="124.6" width="2.3000000000000114" height="25.20" fill="#8ceccb"/>
<rect x="146.5" y="124.6" width="78.5" height="25.20" fill="#2bc2c3"/>
<path d="M161.5 124.6V149.8 M170.5 124.6V149.8 M179.5 124.6V149.8 M188.5 124.6V149.8 M197.5 124.6V149.8 M215.5 124.6V149.8" stroke="#6ab8c0" stroke-width="0.75" fill="none"/>
<path d="M146.5 130.90H225.0 M146.5 137.20H225.0 M146.5 143.50H225.0" stroke="#4cc4c8" stroke-width="0.7" fill="none"/>
<path d="M152.5 124.6V149.8 M206.5 124.6V149.8" stroke="#4f9ea8" stroke-width="0.9" fill="none"/>
<path d="M160.5 149.3L161 139L162 139L162.5 149.3M163.5 149.3L164 138.5L165.5 138.5L166 149.3M173.5 149.3V138.6M210.4 149.3L212 142.5L216 142L218 141L220 141.5L222 139.5L225 139" fill="none" stroke="#b3ad1c" stroke-width="0.8"/>
<polyline points="45.3,137.72 45.8,143.74 46.3,138.01 46.8,139.49 47.3,138.61 47.8,137.33 48.3,137.73 48.8,132.08 49.3,137.55 49.8,144.18 50.3,137.23 50.8,135.66 51.3,139.13 51.8,133.67 52.3,134.24 52.8,133.58 53.3,132.12 53.8,133.69 54.3,137.17 54.8,137.76 55.3,131.75 55.8,137.02 56.3,129.73 56.8,138.41 57.3,135.63 57.8,141.86 58.3,135.96 58.8,141.15 59.3,136.35 59.8,136.00 60.3,144.66 60.8,138.96 61.3,137.15 61.8,139.04 62.3,138.24 62.8,141.67 63.3,138.58 63.8,140.00 64.3,139.50 64.8,138.94 65.3,139.60 65.8,139.47 66.3,140.67 66.8,137.22 67.3,136.40 67.8,138.04 68.3,137.62 68.8,138.36 69.3,139.43 69.8,139.59 70.3,139.66 70.8,138.75 71.3,139.09 71.8,138.72 72.3,143.82 72.8,132.75 73.3,135.33 73.8,136.08 74.3,138.68 74.8,140.78 75.3,138.36 75.8,139.69 76.3,137.41 76.8,140.94 77.3,138.21 77.8,139.34 78.3,137.78 78.8,142.88 79.3,132.91 79.8,134.37 80.3,129.40 80.8,134.21 81.3,139.75 81.8,134.24 82.3,137.98 82.8,133.60 83.3,138.63 83.8,138.82 84.3,139.30 84.8,139.69 85.3,139.32 85.8,139.97 86.3,139.45 86.8,139.89 87.3,141.59 87.8,140.08 88.3,138.98 88.8,139.75 89.3,136.24 89.8,136.25 90.3,136.84 90.8,137.22 91.3,135.42 91.8,131.55 92.3,135.45 92.8,135.13 93.3,134.70 93.8,134.72 94.3,134.17 94.8,134.10 95.3,137.19 95.8,134.43 96.3,133.89 96.8,132.92 97.3,133.80 97.8,129.65 98.3,134.69 98.8,137.01 99.3,133.80 99.8,135.09 100.3,135.51 100.8,136.89 101.3,137.73 101.8,135.46 102.3,135.61 102.8,136.52 103.3,136.01 103.8,135.64 104.3,135.81 104.8,137.18 105.3,142.09 105.8,136.53 106.3,136.93 106.8,135.69 107.3,134.29 107.8,133.94 108.3,134.61 108.8,133.52 109.3,132.63 109.8,133.54 110.3,145.84 110.8,140.45 111.3,143.20 111.8,144.03 112.3,141.85 112.8,140.85 113.3,141.46 113.8,139.92 114.3,141.02 114.8,139.29 115.3,139.65 115.8,142.16 116.3,140.03 116.8,141.68 117.3,138.05 117.8,141.21 118.3,148.99 118.8,148.91 119.3,149.09 119.8,149.01 120.3,149.02 120.8,149.12 121.3,149.07 121.8,149.25 122.3,149.07 122.8,149.30 123.3,149.07 123.8,149.09 124.3,148.96 124.8,149.10 125.3,148.63 125.8,149.03 126.3,148.96 126.8,149.05 127.3,148.75 127.8,148.97 128.3,148.75 128.8,148.97 129.3,148.79 129.8,148.85 130.3,148.70 130.8,148.86 131.3,148.79 131.8,148.64 132.3,148.88 132.8,148.87 133.3,148.67 133.8,149.02 134.3,148.73 134.8,148.91 135.3,149.01 135.8,148.91 136.3,148.90 136.8,149.10 137.3,149.09 137.8,149.09 138.3,149.11 138.8,149.25 139.3,149.30 139.8,149.30 140.3,149.30 140.8,149.26 141.3,149.30 141.8,149.30 142.3,149.25 142.8,149.30 143.3,149.30 143.8,149.30" fill="none" stroke="#fcca48" stroke-width="1.5" stroke-linejoin="round"/>
<polyline points="225.3,136.88 225.8,137.42 226.3,135.74 226.8,136.45 227.3,137.00 227.8,140.46 228.3,135.37 228.8,137.02 229.3,135.01 229.8,135.45 230.3,140.22 230.8,139.06 231.3,132.78 231.8,142.05 232.3,140.03 232.8,138.78 233.3,139.08 233.8,140.88 234.3,140.36 234.8,140.33 235.3,140.54 235.8,139.17 236.3,137.38 236.8,137.97 237.3,137.91 237.8,136.91 238.3,138.30 238.8,136.15 239.3,135.83 239.8,136.39 240.3,136.06 240.8,135.33 241.3,135.75 241.8,137.55 242.3,136.07 242.8,142.73 243.3,136.36 243.8,135.31 244.3,135.62 244.8,134.13 245.3,136.58 245.8,136.75 246.3,135.81 246.8,136.22 247.3,136.85 247.8,137.94 248.3,138.59 248.8,137.56 249.3,137.84 249.8,138.10 250.3,137.82 250.8,130.07 251.3,136.12 251.8,137.94 252.3,141.60 252.8,136.16 253.3,137.63 253.8,135.51 254.3,135.43 254.8,136.29 255.3,136.90 255.8,136.46 256.3,136.09 256.8,133.78 257.3,142.14 257.8,135.75 258.3,136.13 258.8,135.19 259.3,134.57 259.8,136.90 260.3,136.42 260.8,137.48" fill="none" stroke="#fcca48" stroke-width="1.5" stroke-linejoin="round"/>
<polyline points="45.3,137.72 45.8,143.74 46.3,138.01 46.8,139.49 47.3,138.61 47.8,137.33 48.3,137.73 48.8,132.08 49.3,137.55 49.8,144.18 50.3,137.23 50.8,135.66 51.3,139.13 51.8,133.67 52.3,134.24 52.8,133.58 53.3,132.12 53.8,133.69 54.3,137.17 54.8,137.76 55.3,131.75 55.8,137.02 56.3,129.73 56.8,138.41 57.3,135.63 57.8,141.86 58.3,135.96 58.8,141.15 59.3,136.35 59.8,136.00 60.3,144.66 60.8,138.96 61.3,137.15 61.8,139.04 62.3,138.24 62.8,141.67 63.3,138.58 63.8,140.00 64.3,139.50 64.8,138.94 65.3,139.60 65.8,139.47 66.3,140.67 66.8,137.22 67.3,136.40 67.8,138.04 68.3,137.62 68.8,138.36 69.3,139.43 69.8,139.59 70.3,139.66 70.8,138.75 71.3,139.09 71.8,138.72 72.3,143.82 72.8,132.75 73.3,135.33 73.8,136.08 74.3,138.68 74.8,140.78 75.3,138.36 75.8,139.69 76.3,137.41 76.8,140.94 77.3,138.21 77.8,139.34 78.3,137.78 78.8,142.88 79.3,132.91 79.8,134.37 80.3,129.40 80.8,134.21 81.3,139.75 81.8,134.24 82.3,137.98 82.8,133.60 83.3,138.63 83.8,138.82 84.3,139.30 84.8,139.69 85.3,139.32 85.8,139.97 86.3,139.45 86.8,139.89 87.3,141.59 87.8,140.08 88.3,138.98 88.8,139.75 89.3,136.24 89.8,136.25 90.3,136.84 90.8,137.22 91.3,135.42 91.8,131.55 92.3,135.45 92.8,135.13 93.3,134.70 93.8,134.72 94.3,134.17 94.8,134.10 95.3,137.19 95.8,134.43 96.3,133.89 96.8,132.92 97.3,133.80 97.8,129.65 98.3,134.69 98.8,137.01 99.3,133.80 99.8,135.09 100.3,135.51 100.8,136.89 101.3,137.73 101.8,135.46 102.3,135.61 102.8,136.52 103.3,136.01 103.8,135.64 104.3,135.81 104.8,137.18 105.3,142.09 105.8,136.53 106.3,136.93 106.8,135.69 107.3,134.29 107.8,133.94 108.3,134.61 108.8,133.52 109.3,132.63 109.8,133.54 110.3,145.84 110.8,140.45 111.3,143.20 111.8,144.03 112.3,141.85 112.8,140.85 113.3,141.46 113.8,139.92 114.3,141.02 114.8,139.29 115.3,139.65 115.8,142.16 116.3,140.03 116.8,141.68 117.3,138.05 117.8,141.21 118.3,148.99 118.8,148.91 119.3,149.09 119.8,149.01 120.3,149.02 120.8,149.12 121.3,149.07 121.8,149.25 122.3,149.07 122.8,149.30 123.3,149.07 123.8,149.09 124.3,148.96 124.8,149.10 125.3,148.63 125.8,149.03 126.3,148.96 126.8,149.05 127.3,148.75 127.8,148.97 128.3,148.75 128.8,148.97 129.3,148.79 129.8,148.85 130.3,148.70 130.8,148.86 131.3,148.79 131.8,148.64 132.3,148.88 132.8,148.87 133.3,148.67 133.8,149.02 134.3,148.73 134.8,148.91 135.3,149.01 135.8,148.91 136.3,148.90 136.8,149.10 137.3,149.09 137.8,149.09 138.3,149.11 138.8,149.25 139.3,149.30 139.8,149.30 140.3,149.30 140.8,149.26 141.3,149.30 141.8,149.30 142.3,149.25 142.8,149.30 143.3,149.30 143.8,149.30" fill="none" stroke="#f8a810" stroke-width="0.75" stroke-linejoin="round"/>
<polyline points="225.3,136.88 225.8,137.42 226.3,135.74 226.8,136.45 227.3,137.00 227.8,140.46 228.3,135.37 228.8,137.02 229.3,135.01 229.8,135.45 230.3,140.22 230.8,139.06 231.3,132.78 231.8,142.05 232.3,140.03 232.8,138.78 233.3,139.08 233.8,140.88 234.3,140.36 234.8,140.33 235.3,140.54 235.8,139.17 236.3,137.38 236.8,137.97 237.3,137.91 237.8,136.91 238.3,138.30 238.8,136.15 239.3,135.83 239.8,136.39 240.3,136.06 240.8,135.33 241.3,135.75 241.8,137.55 242.3,136.07 242.8,142.73 243.3,136.36 243.8,135.31 244.3,135.62 244.8,134.13 245.3,136.58 245.8,136.75 246.3,135.81 246.8,136.22 247.3,136.85 247.8,137.94 248.3,138.59 248.8,137.56 249.3,137.84 249.8,138.10 250.3,137.82 250.8,130.07 251.3,136.12 251.8,137.94 252.3,141.60 252.8,136.16 253.3,137.63 253.8,135.51 254.3,135.43 254.8,136.29 255.3,136.90 255.8,136.46 256.3,136.09 256.8,133.78 257.3,142.14 257.8,135.75 258.3,136.13 258.8,135.19 259.3,134.57 259.8,136.90 260.3,136.42 260.8,137.48" fill="none" stroke="#f8a810" stroke-width="0.75" stroke-linejoin="round"/>
<polygon points="45.3,149.80 45.3,132.96 45.8,138.13 46.3,131.12 46.8,143.11 47.3,131.73 47.8,143.13 48.3,135.05 48.8,137.81 49.3,142.82 49.8,141.33 50.3,139.23 50.8,138.12 51.3,135.41 51.8,143.22 52.3,130.31 52.8,140.94 53.3,136.13 53.8,133.01 54.3,132.59 54.8,143.29 55.3,134.56 55.8,140.39 56.3,138.57 56.8,143.02 57.3,143.74 57.8,139.54 58.3,134.84 58.8,141.62 59.3,134.19 59.8,138.05 60.3,144.39 60.8,134.88 61.3,144.22 61.8,143.74 62.3,140.53 62.8,135.28 63.3,144.26 63.8,143.02 64.3,144.33 64.8,144.00 65.3,141.00 65.8,139.15 66.3,139.73 66.8,143.61 67.3,140.50 67.8,140.33 68.3,132.62 68.8,141.66 69.3,138.18 69.8,140.51 70.3,136.98 70.8,139.63 71.3,134.55 71.8,139.91 72.3,143.06 72.8,142.63 73.3,137.80 73.8,143.33 74.3,137.47 74.8,143.00 75.3,137.48 75.8,145.12 76.3,139.59 76.8,143.05 77.3,144.60 77.8,141.57 78.3,145.15 78.8,144.40 79.3,137.50 79.8,141.11 80.3,142.60 80.8,143.78 81.3,143.61 81.8,142.97 82.3,140.65 82.8,143.94 83.3,143.01 83.8,140.95 84.3,134.32 84.8,134.68 85.3,133.34 85.8,142.71 86.3,143.27 86.8,133.86 87.3,135.90 87.8,141.87 88.3,139.84 88.8,131.73 89.3,133.81 89.8,131.50 90.3,139.04 90.8,142.33 91.3,138.40 91.8,142.86 92.3,143.39 92.8,143.52 93.3,142.45 93.8,143.11 94.3,142.40 94.8,137.43 95.3,138.31 95.8,144.62 96.3,137.34 96.8,138.38 97.3,137.27 97.8,144.87 98.3,141.04 98.8,142.95 99.3,141.87 99.8,140.11 100.3,146.19 100.8,141.25 101.3,141.19 101.8,143.18 102.3,144.92 102.8,143.78 103.3,145.92 103.8,141.41 104.3,142.86 104.8,142.18 105.3,140.20 105.8,144.93 106.3,144.80 106.8,144.32 107.3,144.31 107.8,136.73 108.3,143.82 108.8,141.79 109.3,138.34 109.8,142.89 110.3,142.13 110.8,142.27 111.3,145.93 111.8,145.04 112.3,143.86 112.8,142.58 113.3,144.79 113.8,146.18 114.3,147.50 114.8,145.28 115.3,145.26 115.8,144.98 116.3,146.65 116.8,143.82 117.3,145.40 117.8,146.44 118.3,149.16 118.8,149.27 119.3,148.70 119.8,149.14 120.3,148.55 120.8,149.17 121.3,149.20 121.8,148.76 122.3,149.21 122.8,148.66 123.3,149.13 123.8,148.80 124.3,149.42 124.8,149.44 125.3,149.45 125.8,148.86 126.3,149.20 126.8,148.92 127.3,149.07 127.8,148.47 128.3,148.62 128.8,148.97 129.3,149.20 129.8,149.00 130.3,148.99 130.8,149.02 131.3,148.58 131.8,148.41 132.3,148.46 132.8,149.19 133.3,149.21 133.8,148.74 134.3,148.66 134.8,148.59 135.3,148.36 135.8,149.05 136.3,149.21 136.8,148.97 137.3,149.01 137.8,149.15 138.3,148.51 138.8,148.74 139.3,148.58 139.8,148.17 140.3,148.69 140.8,148.20 141.3,148.36 141.8,148.81 142.3,148.71 142.8,148.88 143.3,148.96 143.8,148.51 144.3,149.80 144.8,149.80 145.3,149.80 145.8,148.21 146.3,149.80 146.8,149.80 147.3,149.80 147.8,149.80 148.3,149.80 148.8,149.80 149.3,149.80 149.8,149.80 150.3,149.80 150.8,149.80 151.3,149.80 151.8,148.39 152.3,149.80 152.8,149.80 153.3,149.80 153.8,149.80 154.3,149.80 154.8,148.52 155.3,148.53 155.8,149.80 156.3,149.80 156.8,149.80 157.3,149.80 157.8,149.80 158.3,148.50 158.8,146.24 159.3,148.00 159.8,148.86 160.3,149.80 160.8,149.80 161.3,149.80 161.8,149.80 162.3,149.80 162.8,148.40 163.3,149.80 163.8,143.32 164.3,149.80 164.8,149.80 165.3,149.80 165.8,149.80 166.3,149.80 166.8,149.80 167.3,149.80 167.8,149.80 168.3,149.80 168.8,149.80 169.3,148.71 169.8,148.06 170.3,149.80 170.8,149.80 171.3,149.80 171.8,149.80 172.3,149.80 172.8,149.80 173.3,149.80 173.8,147.81 174.3,149.80 174.8,148.37 175.3,148.85 175.8,148.69 176.3,148.75 176.8,149.80 177.3,149.80 177.8,149.80 178.3,149.80 178.8,149.80 179.3,149.80 179.8,149.80 180.3,149.80 180.8,149.80 181.3,149.80 181.8,149.80 182.3,149.80 182.8,149.80 183.3,149.80 183.8,148.20 184.3,149.80 184.8,149.80 185.3,148.74 185.8,149.80 186.3,149.80 186.8,149.80 187.3,149.80 187.8,149.80 188.3,147.97 188.8,149.80 189.3,149.80 189.8,149.80 190.3,149.80 190.8,148.13 191.3,149.80 191.8,149.80 192.3,149.80 192.8,149.80 193.3,149.80 193.8,149.80 194.3,148.75 194.8,149.80 195.3,149.80 195.8,148.81 196.3,149.80 196.8,149.80 197.3,149.80 197.8,149.80 198.3,149.80 198.8,149.80 199.3,149.80 199.8,149.80 200.3,149.80 200.8,149.80 201.3,149.80 201.8,148.17 202.3,148.79 202.8,148.09 203.3,149.80 203.8,149.80 204.3,149.80 204.8,149.80 205.3,148.06 205.8,149.80 206.3,148.41 206.8,149.80 207.3,149.80 207.8,149.80 208.3,149.80 208.8,149.80 209.3,148.42 209.8,149.80 210.3,149.80 210.8,149.80 211.3,148.49 211.8,149.80 212.3,149.80 212.8,149.80 213.3,149.80 213.8,148.24 214.3,149.80 214.8,149.80 215.3,149.80 215.8,149.80 216.3,149.80 216.8,149.80 217.3,149.80 217.8,149.80 218.3,149.80 218.8,149.80 219.3,149.80 219.8,149.80 220.3,147.92 220.8,148.27 221.3,149.80 221.8,149.80 222.3,149.80 222.8,149.80 223.3,149.80 223.8,149.80 224.3,149.80 224.8,149.80 225.3,142.36 225.8,143.94 226.3,141.17 226.8,145.50 227.3,143.78 227.8,145.05 228.3,139.39 228.8,142.79 229.3,138.68 229.8,138.25 230.3,144.59 230.8,139.82 231.3,137.36 231.8,135.68 232.3,144.43 232.8,144.41 233.3,141.83 233.8,138.12 234.3,144.33 234.8,134.37 235.3,138.64 235.8,144.63 236.3,138.21 236.8,141.97 237.3,144.00 237.8,139.30 238.3,138.61 238.8,139.82 239.3,143.49 239.8,143.96 240.3,144.53 240.8,144.05 241.3,142.63 241.8,142.93 242.3,144.69 242.8,137.54 243.3,144.29 243.8,144.74 244.3,144.21 244.8,142.42 245.3,140.56 245.8,144.96 246.3,144.76 246.8,145.23 247.3,143.28 247.8,136.74 248.3,135.62 248.8,139.51 249.3,139.15 249.8,145.40 250.3,142.71 250.8,144.78 251.3,145.31 251.8,142.63 252.3,144.15 252.8,143.74 253.3,145.82 253.8,140.66 254.3,143.10 254.8,142.76 255.3,141.00 255.8,138.74 256.3,145.02 256.8,144.37 257.3,136.68 257.8,140.33 258.3,137.52 258.8,143.53 259.3,135.84 259.8,142.76 260.3,138.94 260.8,137.65 260.8,149.80" fill="#000"/>
<path d="M146.9 124.6V149.8M224.6 124.6V149.8" stroke="#2255cc" stroke-width="0.9"/>
<path d="M45.0 149.30H261.0" stroke="#f3e98a" stroke-width="0.8" opacity="0.7"/>
<rect x="45.0" y="153.3" width="216.0" height="24.70" fill="#fffcd8"/>
<path d="M53.5 153.3V178.0 M62.5 153.3V178.0 M71.5 153.3V178.0 M80.5 153.3V178.0 M89.5 153.3V178.0 M107.5 153.3V178.0 M116.5 153.3V178.0 M125.5 153.3V178.0 M134.5 153.3V178.0 M143.5 153.3V178.0 M161.5 153.3V178.0 M170.5 153.3V178.0 M179.5 153.3V178.0 M188.5 153.3V178.0 M197.5 153.3V178.0 M215.5 153.3V178.0 M224.5 153.3V178.0 M233.5 153.3V178.0 M242.5 153.3V178.0 M251.5 153.3V178.0" stroke="#d2d0b8" stroke-width="0.9" fill="none"/>
<path d="M98.5 153.3V178.0 M152.5 153.3V178.0 M206.5 153.3V178.0" stroke="#aaa996" stroke-width="0.9" fill="none"/>
<path d="M45.0 159.48H261.0 M45.0 165.65H261.0 M45.0 171.82H261.0" stroke="#dcdac0" stroke-width="0.8" fill="none"/>
<rect x="159.6" y="153.3" width="75.4" height="24.70" fill="#2bc2c3"/>
<path d="M161.5 153.3V178.0 M170.5 153.3V178.0 M179.5 153.3V178.0 M188.5 153.3V178.0 M197.5 153.3V178.0 M215.5 153.3V178.0 M224.5 153.3V178.0 M233.5 153.3V178.0" stroke="#6ab8c0" stroke-width="0.75" fill="none"/>
<path d="M159.6 159.48H235.0 M159.6 165.65H235.0 M159.6 171.82H235.0" stroke="#4cc4c8" stroke-width="0.7" fill="none"/>
<path d="M206.5 153.3V178.0" stroke="#4f9ea8" stroke-width="0.9" fill="none"/>
<path d="M223.5 177.5L224.5 171L225.5 173L226.5 170L227.5 176.5M229 177.5L230 170L231 168.5L232 172L233 177.5" fill="none" stroke="#b3ad1c" stroke-width="0.8"/>
<polyline points="45.3,162.68 45.8,164.15 46.3,161.33 46.8,165.26 47.3,165.02 47.8,169.13 48.3,163.42 48.8,164.39 49.3,167.13 49.8,164.88 50.3,164.96 50.8,165.50 51.3,172.42 51.8,168.68 52.3,170.22 52.8,166.05 53.3,176.61 53.8,168.82 54.3,168.49 54.8,172.96 55.3,159.77 55.8,167.34 56.3,160.55 56.8,157.64 57.3,163.19 57.8,163.64 58.3,159.18 58.8,162.77 59.3,162.03 59.8,161.50 60.3,160.53 60.8,161.67 61.3,163.66 61.8,164.53 62.3,160.89 62.8,168.66 63.3,166.86 63.8,165.00 64.3,163.92 64.8,167.06 65.3,160.75 65.8,164.30 66.3,163.66 66.8,161.64 67.3,163.19 67.8,164.92 68.3,165.71 68.8,166.47 69.3,164.17 69.8,164.98 70.3,158.56 70.8,164.66 71.3,167.88 71.8,166.25 72.3,167.77 72.8,164.96 73.3,161.44 73.8,159.40 74.3,160.69 74.8,166.02 75.3,158.44 75.8,158.14 76.3,161.83 76.8,158.35 77.3,156.94 77.8,158.84 78.3,157.54 78.8,155.01 79.3,156.33 79.8,155.60 80.3,154.54 80.8,155.38 81.3,155.39 81.8,157.34 82.3,157.86 82.8,158.51 83.3,155.29 83.8,156.59 84.3,160.50 84.8,157.31 85.3,159.52 85.8,161.34 86.3,160.75 86.8,169.13 87.3,164.03 87.8,164.49 88.3,163.71 88.8,162.56 89.3,167.99 89.8,163.54 90.3,161.31 90.8,163.61 91.3,165.67 91.8,164.44 92.3,161.61 92.8,163.03 93.3,154.80 93.8,162.28 94.3,163.53 94.8,163.75 95.3,163.73 95.8,162.77 96.3,163.61 96.8,165.23 97.3,162.06 97.8,164.74 98.3,169.58 98.8,160.30 99.3,160.07 99.8,161.29 100.3,162.13 100.8,165.24 101.3,158.17 101.8,170.03 102.3,169.79 102.8,166.67 103.3,158.06 103.8,164.71 104.3,165.22 104.8,165.28 105.3,169.05 105.8,161.90 106.3,170.55 106.8,167.79 107.3,168.53 107.8,168.02 108.3,171.45 108.8,163.53 109.3,165.16 109.8,163.57 110.3,166.45 110.8,160.89 111.3,162.09 111.8,168.44 112.3,162.17 112.8,161.22 113.3,165.43 113.8,166.47 114.3,162.70 114.8,165.60 115.3,170.73 115.8,172.36 116.3,173.06 116.8,173.82 117.3,172.95 117.8,173.68 118.3,177.51 118.8,177.51 119.3,173.19 119.8,173.31 120.3,172.01 120.8,172.40 121.3,177.51 121.8,171.89 122.3,177.04 122.8,177.05 123.3,177.17 123.8,177.30 124.3,177.03 124.8,176.77 125.3,177.13 125.8,176.73 126.3,176.73 126.8,176.88 127.3,176.75 127.8,176.92 128.3,176.85 128.8,176.97 129.3,176.73 129.8,176.58 130.3,176.50 130.8,176.18 131.3,176.77 131.8,176.56 132.3,176.59 132.8,176.13 133.3,176.53 133.8,176.28 134.3,176.74 134.8,176.35 135.3,176.25 135.8,176.37 136.3,176.81 136.8,176.28 137.3,176.14 137.8,176.04 138.3,176.21 138.8,177.32 139.3,177.07 139.8,176.87 140.3,177.16 140.8,176.91 141.3,177.09 141.8,176.98 142.3,176.86 142.8,177.12 143.3,176.49 143.8,176.95 144.3,176.92 144.8,177.12 145.3,176.98 145.8,177.03 146.3,177.27 146.8,177.31 147.3,177.03 147.8,176.54 148.3,177.03 148.8,177.03 149.3,176.79 149.8,176.80 150.3,177.30 150.8,177.51 151.3,177.39 151.8,177.51 152.3,177.51 152.8,177.51 153.3,177.42 153.8,177.50 154.3,177.45 154.8,177.51 155.3,177.50 155.8,177.51 156.3,177.47 156.8,177.42 157.3,177.39 157.8,177.18 158.3,177.20 158.8,177.11 159.3,177.46" fill="none" stroke="#fcca48" stroke-width="1.5" stroke-linejoin="round"/>
<polyline points="235.3,154.54 235.8,164.49 236.3,163.99 236.8,164.07 237.3,164.71 237.8,164.69 238.3,163.43 238.8,167.27 239.3,164.90 239.8,168.33 240.3,163.92 240.8,165.13 241.3,164.92 241.8,165.81 242.3,164.18 242.8,164.78 243.3,164.91 243.8,164.76 244.3,165.72 244.8,164.73 245.3,165.71 245.8,169.68 246.3,171.22 246.8,164.88 247.3,164.90 247.8,163.87 248.3,171.02 248.8,169.60 249.3,168.90 249.8,172.54 250.3,169.10 250.8,169.69 251.3,170.27 251.8,168.18 252.3,167.82 252.8,162.06 253.3,163.43 253.8,163.76 254.3,155.68 254.8,163.97 255.3,169.54 255.8,162.16 256.3,170.20 256.8,161.39 257.3,161.92 257.8,165.01 258.3,163.82 258.8,165.15 259.3,163.69 259.8,163.42 260.3,154.87 260.8,163.67" fill="none" stroke="#fcca48" stroke-width="1.5" stroke-linejoin="round"/>
<polyline points="45.3,162.68 45.8,164.15 46.3,161.33 46.8,165.26 47.3,165.02 47.8,169.13 48.3,163.42 48.8,164.39 49.3,167.13 49.8,164.88 50.3,164.96 50.8,165.50 51.3,172.42 51.8,168.68 52.3,170.22 52.8,166.05 53.3,176.61 53.8,168.82 54.3,168.49 54.8,172.96 55.3,159.77 55.8,167.34 56.3,160.55 56.8,157.64 57.3,163.19 57.8,163.64 58.3,159.18 58.8,162.77 59.3,162.03 59.8,161.50 60.3,160.53 60.8,161.67 61.3,163.66 61.8,164.53 62.3,160.89 62.8,168.66 63.3,166.86 63.8,165.00 64.3,163.92 64.8,167.06 65.3,160.75 65.8,164.30 66.3,163.66 66.8,161.64 67.3,163.19 67.8,164.92 68.3,165.71 68.8,166.47 69.3,164.17 69.8,164.98 70.3,158.56 70.8,164.66 71.3,167.88 71.8,166.25 72.3,167.77 72.8,164.96 73.3,161.44 73.8,159.40 74.3,160.69 74.8,166.02 75.3,158.44 75.8,158.14 76.3,161.83 76.8,158.35 77.3,156.94 77.8,158.84 78.3,157.54 78.8,155.01 79.3,156.33 79.8,155.60 80.3,154.54 80.8,155.38 81.3,155.39 81.8,157.34 82.3,157.86 82.8,158.51 83.3,155.29 83.8,156.59 84.3,160.50 84.8,157.31 85.3,159.52 85.8,161.34 86.3,160.75 86.8,169.13 87.3,164.03 87.8,164.49 88.3,163.71 88.8,162.56 89.3,167.99 89.8,163.54 90.3,161.31 90.8,163.61 91.3,165.67 91.8,164.44 92.3,161.61 92.8,163.03 93.3,154.80 93.8,162.28 94.3,163.53 94.8,163.75 95.3,163.73 95.8,162.77 96.3,163.61 96.8,165.23 97.3,162.06 97.8,164.74 98.3,169.58 98.8,160.30 99.3,160.07 99.8,161.29 100.3,162.13 100.8,165.24 101.3,158.17 101.8,170.03 102.3,169.79 102.8,166.67 103.3,158.06 103.8,164.71 104.3,165.22 104.8,165.28 105.3,169.05 105.8,161.90 106.3,170.55 106.8,167.79 107.3,168.53 107.8,168.02 108.3,171.45 108.8,163.53 109.3,165.16 109.8,163.57 110.3,166.45 110.8,160.89 111.3,162.09 111.8,168.44 112.3,162.17 112.8,161.22 113.3,165.43 113.8,166.47 114.3,162.70 114.8,165.60 115.3,170.73 115.8,172.36 116.3,173.06 116.8,173.82 117.3,172.95 117.8,173.68 118.3,177.51 118.8,177.51 119.3,173.19 119.8,173.31 120.3,172.01 120.8,172.40 121.3,177.51 121.8,171.89 122.3,177.04 122.8,177.05 123.3,177.17 123.8,177.30 124.3,177.03 124.8,176.77 125.3,177.13 125.8,176.73 126.3,176.73 126.8,176.88 127.3,176.75 127.8,176.92 128.3,176.85 128.8,176.97 129.3,176.73 129.8,176.58 130.3,176.50 130.8,176.18 131.3,176.77 131.8,176.56 132.3,176.59 132.8,176.13 133.3,176.53 133.8,176.28 134.3,176.74 134.8,176.35 135.3,176.25 135.8,176.37 136.3,176.81 136.8,176.28 137.3,176.14 137.8,176.04 138.3,176.21 138.8,177.32 139.3,177.07 139.8,176.87 140.3,177.16 140.8,176.91 141.3,177.09 141.8,176.98 142.3,176.86 142.8,177.12 143.3,176.49 143.8,176.95 144.3,176.92 144.8,177.12 145.3,176.98 145.8,177.03 146.3,177.27 146.8,177.31 147.3,177.03 147.8,176.54 148.3,177.03 148.8,177.03 149.3,176.79 149.8,176.80 150.3,177.30 150.8,177.51 151.3,177.39 151.8,177.51 152.3,177.51 152.8,177.51 153.3,177.42 153.8,177.50 154.3,177.45 154.8,177.51 155.3,177.50 155.8,177.51 156.3,177.47 156.8,177.42 157.3,177.39 157.8,177.18 158.3,177.20 158.8,177.11 159.3,177.46" fill="none" stroke="#f8a810" stroke-width="0.75" stroke-linejoin="round"/>
<polyline points="235.3,154.54 235.8,164.49 236.3,163.99 236.8,164.07 237.3,164.71 237.8,164.69 238.3,163.43 238.8,167.27 239.3,164.90 239.8,168.33 240.3,163.92 240.8,165.13 241.3,164.92 241.8,165.81 242.3,164.18 242.8,164.78 243.3,164.91 243.8,164.76 244.3,165.72 244.8,164.73 245.3,165.71 245.8,169.68 246.3,171.22 246.8,164.88 247.3,164.90 247.8,163.87 248.3,171.02 248.8,169.60 249.3,168.90 249.8,172.54 250.3,169.10 250.8,169.69 251.3,170.27 251.8,168.18 252.3,167.82 252.8,162.06 253.3,163.43 253.8,163.76 254.3,155.68 254.8,163.97 255.3,169.54 255.8,162.16 256.3,170.20 256.8,161.39 257.3,161.92 257.8,165.01 258.3,163.82 258.8,165.15 259.3,163.69 259.8,163.42 260.3,154.87 260.8,163.67" fill="none" stroke="#f8a810" stroke-width="0.75" stroke-linejoin="round"/>
<polygon points="45.3,178.00 45.3,172.34 45.8,174.05 46.3,172.06 46.8,172.35 47.3,173.07 47.8,171.20 48.3,169.05 48.8,172.87 49.3,173.10 49.8,170.10 50.3,171.95 50.8,172.94 51.3,166.36 51.8,173.23 52.3,172.14 52.8,172.94 53.3,168.54 53.8,170.17 54.3,167.75 54.8,173.35 55.3,168.59 55.8,170.28 56.3,173.91 56.8,173.17 57.3,167.71 57.8,171.56 58.3,173.12 58.8,173.06 59.3,171.92 59.8,168.30 60.3,172.71 60.8,172.67 61.3,165.86 61.8,172.25 62.3,168.64 62.8,167.28 63.3,168.77 63.8,170.37 64.3,172.16 64.8,170.31 65.3,173.17 65.8,170.51 66.3,171.23 66.8,174.69 67.3,174.94 67.8,171.89 68.3,173.35 68.8,172.90 69.3,172.84 69.8,173.97 70.3,175.27 70.8,173.36 71.3,174.77 71.8,173.80 72.3,175.45 72.8,170.74 73.3,175.14 73.8,163.21 74.3,171.98 74.8,174.37 75.3,173.44 75.8,175.03 76.3,175.37 76.8,173.19 77.3,174.76 77.8,174.25 78.3,174.44 78.8,171.57 79.3,170.49 79.8,167.27 80.3,173.43 80.8,168.70 81.3,171.11 81.8,174.31 82.3,172.86 82.8,167.56 83.3,170.37 83.8,171.04 84.3,171.06 84.8,168.67 85.3,172.31 85.8,174.51 86.3,174.70 86.8,172.20 87.3,174.35 87.8,168.81 88.3,164.73 88.8,171.78 89.3,171.32 89.8,174.10 90.3,169.08 90.8,172.58 91.3,170.05 91.8,172.89 92.3,170.35 92.8,174.77 93.3,169.54 93.8,172.09 94.3,174.33 94.8,174.03 95.3,174.92 95.8,173.45 96.3,170.22 96.8,172.93 97.3,173.37 97.8,172.03 98.3,171.81 98.8,171.38 99.3,170.19 99.8,167.53 100.3,167.27 100.8,173.00 101.3,163.94 101.8,171.03 102.3,170.33 102.8,169.81 103.3,165.30 103.8,173.37 104.3,166.92 104.8,169.14 105.3,170.72 105.8,171.95 106.3,171.02 106.8,169.63 107.3,172.08 107.8,167.72 108.3,171.56 108.8,172.56 109.3,168.85 109.8,174.65 110.3,169.54 110.8,173.10 111.3,174.89 111.8,172.03 112.3,174.76 112.8,173.74 113.3,173.53 113.8,170.66 114.3,172.73 114.8,174.05 115.3,175.46 115.8,175.45 116.3,176.62 116.8,176.19 117.3,176.58 117.8,176.64 118.3,176.25 118.8,176.61 119.3,176.37 119.8,176.26 120.3,175.15 120.8,175.38 121.3,176.07 121.8,172.24 122.3,176.80 122.8,176.87 123.3,176.91 123.8,176.77 124.3,177.35 124.8,176.77 125.3,177.21 125.8,177.38 126.3,177.33 126.8,176.72 127.3,177.25 127.8,176.70 128.3,176.55 128.8,176.67 129.3,177.24 129.8,177.17 130.3,177.13 130.8,177.53 131.3,176.97 131.8,176.93 132.3,177.49 132.8,177.40 133.3,177.12 133.8,176.75 134.3,177.40 134.8,176.88 135.3,177.57 135.8,177.30 136.3,177.49 136.8,177.00 137.3,177.58 137.8,177.62 138.3,177.50 138.8,177.21 139.3,177.22 139.8,177.53 140.3,177.25 140.8,177.63 141.3,177.45 141.8,177.06 142.3,177.58 142.8,177.53 143.3,177.45 143.8,177.52 144.3,177.25 144.8,177.32 145.3,177.13 145.8,177.52 146.3,176.79 146.8,177.26 147.3,177.46 147.8,176.97 148.3,177.40 148.8,177.37 149.3,176.77 149.8,177.44 150.3,176.42 150.8,177.30 151.3,176.88 151.8,177.35 152.3,176.14 152.8,176.19 153.3,176.68 153.8,177.17 154.3,177.06 154.8,176.76 155.3,177.15 155.8,176.78 156.3,176.27 156.8,177.32 157.3,177.25 157.8,176.35 158.3,176.59 158.8,177.46 159.3,177.46 159.8,178.00 160.3,177.09 160.8,178.00 161.3,176.93 161.8,178.00 162.3,178.00 162.8,178.00 163.3,178.00 163.8,178.00 164.3,178.00 164.8,178.00 165.3,178.00 165.8,178.00 166.3,178.00 166.8,178.00 167.3,178.00 167.8,178.00 168.3,178.00 168.8,178.00 169.3,178.00 169.8,178.00 170.3,178.00 170.8,176.64 171.3,178.00 171.8,177.10 172.3,178.00 172.8,178.00 173.3,178.00 173.8,178.00 174.3,178.00 174.8,178.00 175.3,178.00 175.8,178.00 176.3,176.04 176.8,178.00 177.3,178.00 177.8,178.00 178.3,178.00 178.8,178.00 179.3,178.00 179.8,178.00 180.3,178.00 180.8,178.00 181.3,176.80 181.8,178.00 182.3,178.00 182.8,178.00 183.3,178.00 183.8,178.00 184.3,178.00 184.8,178.00 185.3,178.00 185.8,176.15 186.3,178.00 186.8,178.00 187.3,178.00 187.8,178.00 188.3,178.00 188.8,178.00 189.3,178.00 189.8,178.00 190.3,178.00 190.8,178.00 191.3,178.00 191.8,178.00 192.3,176.27 192.8,176.51 193.3,178.00 193.8,178.00 194.3,176.31 194.8,178.00 195.3,178.00 195.8,178.00 196.3,178.00 196.8,178.00 197.3,178.00 197.8,176.88 198.3,178.00 198.8,178.00 199.3,178.00 199.8,178.00 200.3,178.00 200.8,178.00 201.3,176.62 201.8,176.88 202.3,178.00 202.8,177.26 203.3,178.00 203.8,178.00 204.3,178.00 204.8,178.00 205.3,178.00 205.8,178.00 206.3,178.00 206.8,178.00 207.3,178.00 207.8,176.74 208.3,178.00 208.8,178.00 209.3,178.00 209.8,178.00 210.3,178.00 210.8,178.00 211.3,176.37 211.8,178.00 212.3,178.00 212.8,178.00 213.3,176.69 213.8,176.59 214.3,178.00 214.8,178.00 215.3,178.00 215.8,178.00 216.3,178.00 216.8,178.00 217.3,178.00 217.8,178.00 218.3,178.00 218.8,178.00 219.3,178.00 219.8,178.00 220.3,178.00 220.8,178.00 221.3,178.00 221.8,178.00 222.3,176.29 222.8,178.00 223.3,178.00 223.8,177.00 224.3,178.00 224.8,176.60 225.3,178.00 225.8,178.00 226.3,178.00 226.8,178.00 227.3,177.24 227.8,178.00 228.3,178.00 228.8,178.00 229.3,171.58 229.8,178.00 230.3,178.00 230.8,178.00 231.3,178.00 231.8,178.00 232.3,178.00 232.8,178.00 233.3,178.00 233.8,178.00 234.3,178.00 234.8,178.00 235.3,175.16 235.8,170.11 236.3,173.13 236.8,172.74 237.3,168.84 237.8,173.53 238.3,171.69 238.8,174.15 239.3,173.77 239.8,171.37 240.3,167.76 240.8,172.28 241.3,173.83 241.8,172.89 242.3,170.74 242.8,173.32 243.3,172.73 243.8,172.07 244.3,165.12 244.8,170.16 245.3,172.16 245.8,168.61 246.3,168.15 246.8,167.63 247.3,165.96 247.8,168.31 248.3,172.67 248.8,168.59 249.3,168.67 249.8,170.04 250.3,172.95 250.8,172.81 251.3,169.52 251.8,168.42 252.3,173.78 252.8,168.70 253.3,171.72 253.8,170.29 254.3,168.53 254.8,173.66 255.3,168.32 255.8,167.87 256.3,170.60 256.8,172.00 257.3,168.74 257.8,168.23 258.3,167.52 258.8,168.75 259.3,165.99 259.8,165.17 260.3,162.99 260.8,163.11 260.8,178.00" fill="#000"/>
<path d="M160.0 153.3V178.0M234.6 153.3V178.0" stroke="#2255cc" stroke-width="0.9"/>
<path d="M45.0 177.50H261.0" stroke="#f3e98a" stroke-width="0.8" opacity="0.7"/>
<rect x="45.0" y="181.5" width="216.0" height="25.30" fill="#fffcd8"/>
<path d="M53.5 181.5V206.8 M62.5 181.5V206.8 M71.5 181.5V206.8 M80.5 181.5V206.8 M89.5 181.5V206.8 M107.5 181.5V206.8 M116.5 181.5V206.8 M125.5 181.5V206.8 M134.5 181.5V206.8 M143.5 181.5V206.8 M161.5 181.5V206.8 M170.5 181.5V206.8 M179.5 181.5V206.8 M188.5 181.5V206.8 M197.5 181.5V206.8 M215.5 181.5V206.8 M224.5 181.5V206.8 M233.5 181.5V206.8 M242.5 181.5V206.8 M251.5 181.5V206.8" stroke="#d2d0b8" stroke-width="0.9" fill="none"/>
<path d="M98.5 181.5V206.8 M152.5 181.5V206.8 M206.5 181.5V206.8" stroke="#aaa996" stroke-width="0.9" fill="none"/>
<path d="M45.0 187.82H261.0 M45.0 194.15H261.0 M45.0 200.48H261.0" stroke="#dcdac0" stroke-width="0.8" fill="none"/>
<rect x="192.0" y="181.5" width="3.3000000000000114" height="25.30" fill="#8ceccb"/>
<rect x="137.5" y="181.5" width="54.5" height="25.30" fill="#2bc2c3"/>
<path d="M143.5 181.5V206.8 M161.5 181.5V206.8 M170.5 181.5V206.8 M179.5 181.5V206.8 M188.5 181.5V206.8" stroke="#6ab8c0" stroke-width="0.75" fill="none"/>
<path d="M137.5 187.82H192.0 M137.5 194.15H192.0 M137.5 200.48H192.0" stroke="#4cc4c8" stroke-width="0.7" fill="none"/>
<path d="M152.5 181.5V206.8" stroke="#4f9ea8" stroke-width="0.9" fill="none"/>
<polyline points="45.3,188.23 45.8,187.29 46.3,188.06 46.8,187.79 47.3,186.54 47.8,187.09 48.3,186.84 48.8,187.24 49.3,186.94 49.8,188.74 50.3,184.84 50.8,185.45 51.3,183.18 51.8,182.76 52.3,184.85 52.8,190.48 53.3,185.60 53.8,186.75 54.3,182.76 54.8,185.20 55.3,185.20 55.8,186.10 56.3,185.25 56.8,185.82 57.3,186.05 57.8,185.66 58.3,186.60 58.8,182.80 59.3,185.07 59.8,185.27 60.3,185.42 60.8,185.75 61.3,186.40 61.8,185.51 62.3,182.91 62.8,186.79 63.3,185.88 63.8,195.00 64.3,187.10 64.8,186.34 65.3,192.97 65.8,194.13 66.3,187.53 66.8,193.39 67.3,193.82 67.8,194.21 68.3,192.96 68.8,192.91 69.3,199.86 69.8,190.81 70.3,193.36 70.8,191.65 71.3,194.34 71.8,189.36 72.3,194.55 72.8,196.09 73.3,187.43 73.8,190.34 74.3,194.64 74.8,190.23 75.3,190.05 75.8,186.58 76.3,191.41 76.8,191.94 77.3,190.60 77.8,191.63 78.3,191.10 78.8,190.74 79.3,190.48 79.8,194.02 80.3,192.39 80.8,191.82 81.3,190.63 81.8,193.95 82.3,193.69 82.8,190.71 83.3,190.17 83.8,189.34 84.3,189.72 84.8,191.33 85.3,196.35 85.8,191.49 86.3,185.10 86.8,196.28 87.3,196.78 87.8,195.54 88.3,201.03 88.8,194.72 89.3,201.34 89.8,195.82 90.3,196.07 90.8,195.23 91.3,200.36 91.8,193.07 92.3,194.22 92.8,193.68 93.3,193.39 93.8,196.02 94.3,198.03 94.8,193.02 95.3,194.35 95.8,194.65 96.3,192.13 96.8,195.83 97.3,200.47 97.8,194.40 98.3,201.46 98.8,189.98 99.3,198.81 99.8,188.63 100.3,192.40 100.8,197.19 101.3,191.27 101.8,190.65 102.3,190.88 102.8,186.32 103.3,192.13 103.8,190.82 104.3,191.33 104.8,183.91 105.3,195.57 105.8,197.00 106.3,194.09 106.8,193.57 107.3,193.90 107.8,193.92 108.3,193.26 108.8,192.92 109.3,192.44 109.8,191.21 110.3,198.51 110.8,196.87 111.3,199.82 111.8,197.35 112.3,198.50 112.8,196.95 113.3,198.86 113.8,197.77 114.3,199.14 114.8,199.43 115.3,198.52 115.8,198.62 116.3,199.86 116.8,203.77 117.3,200.04 117.8,199.03 118.3,200.64 118.8,200.66 119.3,200.02 119.8,194.76 120.3,199.82 120.8,196.65 121.3,199.61 121.8,199.91 122.3,199.93 122.8,198.97 123.3,199.03 123.8,201.25 124.3,198.17 124.8,198.50 125.3,201.81 125.8,198.13 126.3,190.92 126.8,194.50 127.3,196.48 127.8,196.21 128.3,204.15 128.8,197.78 129.3,198.69 129.8,198.93 130.3,200.12 130.8,203.19 131.3,192.72 131.8,200.33 132.3,199.92 132.8,199.78 133.3,199.35 133.8,206.29 134.3,199.80 134.8,199.49 135.3,206.29 135.8,199.72 136.3,201.00 136.8,200.44 137.3,206.13" fill="none" stroke="#fcca48" stroke-width="1.5" stroke-linejoin="round"/>
<polyline points="195.8,195.44 196.3,187.59 196.8,196.36 197.3,195.86 197.8,195.84 198.3,195.48 198.8,195.00 199.3,195.79 199.8,200.66 200.3,194.92 200.8,195.75 201.3,195.77 201.8,196.76 202.3,198.22 202.8,198.47 203.3,199.20 203.8,203.53 204.3,203.80 204.8,199.52 205.3,200.06 205.8,199.22 206.3,192.17 206.8,197.63 207.3,198.36 207.8,198.36 208.3,196.13 208.8,197.65 209.3,196.61 209.8,195.23 210.3,197.06 210.8,189.35 211.3,198.63 211.8,195.62 212.3,195.12 212.8,199.31 213.3,196.64 213.8,193.64 214.3,195.24 214.8,194.52 215.3,194.51 215.8,195.23 216.3,196.14 216.8,196.18 217.3,195.73 217.8,196.62 218.3,187.64 218.8,197.28 219.3,197.32 219.8,196.79 220.3,196.38 220.8,196.13 221.3,194.93 221.8,195.48 222.3,195.83 222.8,186.38 223.3,195.35 223.8,195.41 224.3,195.25 224.8,195.91 225.3,196.51 225.8,201.65 226.3,196.85 226.8,197.41 227.3,199.84 227.8,197.42 228.3,193.55 228.8,198.91 229.3,197.92 229.8,196.60 230.3,197.29 230.8,197.17 231.3,195.73 231.8,195.06 232.3,200.49 232.8,196.02 233.3,195.20 233.8,196.55 234.3,195.49 234.8,195.15 235.3,194.12 235.8,195.66 236.3,194.79 236.8,199.54 237.3,195.25 237.8,205.95 238.3,202.87 238.8,196.24 239.3,188.23 239.8,196.92 240.3,195.33 240.8,196.67 241.3,198.06 241.8,188.97 242.3,200.70 242.8,196.09 243.3,197.96 243.8,196.98 244.3,196.62 244.8,196.76 245.3,196.08 245.8,197.49 246.3,200.51 246.8,197.79 247.3,196.63 247.8,195.31 248.3,196.44 248.8,196.61 249.3,197.54 249.8,196.18 250.3,199.61 250.8,196.79 251.3,197.83 251.8,197.83 252.3,198.03 252.8,197.22 253.3,197.32 253.8,195.80 254.3,195.85 254.8,196.04 255.3,196.06 255.8,197.40 256.3,196.24 256.8,195.45 257.3,195.05 257.8,201.33 258.3,197.28 258.8,201.28 259.3,196.38 259.8,193.68 260.3,193.93 260.8,193.32" fill="none" stroke="#fcca48" stroke-width="1.5" stroke-linejoin="round"/>
<polyline points="45.3,188.23 45.8,187.29 46.3,188.06 46.8,187.79 47.3,186.54 47.8,187.09 48.3,186.84 48.8,187.24 49.3,186.94 49.8,188.74 50.3,184.84 50.8,185.45 51.3,183.18 51.8,182.76 52.3,184.85 52.8,190.48 53.3,185.60 53.8,186.75 54.3,182.76 54.8,185.20 55.3,185.20 55.8,186.10 56.3,185.25 56.8,185.82 57.3,186.05 57.8,185.66 58.3,186.60 58.8,182.80 59.3,185.07 59.8,185.27 60.3,185.42 60.8,185.75 61.3,186.40 61.8,185.51 62.3,182.91 62.8,186.79 63.3,185.88 63.8,195.00 64.3,187.10 64.8,186.34 65.3,192.97 65.8,194.13 66.3,187.53 66.8,193.39 67.3,193.82 67.8,194.21 68.3,192.96 68.8,192.91 69.3,199.86 69.8,190.81 70.3,193.36 70.8,191.65 71.3,194.34 71.8,189.36 72.3,194.55 72.8,196.09 73.3,187.43 73.8,190.34 74.3,194.64 74.8,190.23 75.3,190.05 75.8,186.58 76.3,191.41 76.8,191.94 77.3,190.60 77.8,191.63 78.3,191.10 78.8,190.74 79.3,190.48 79.8,194.02 80.3,192.39 80.8,191.82 81.3,190.63 81.8,193.95 82.3,193.69 82.8,190.71 83.3,190.17 83.8,189.34 84.3,189.72 84.8,191.33 85.3,196.35 85.8,191.49 86.3,185.10 86.8,196.28 87.3,196.78 87.8,195.54 88.3,201.03 88.8,194.72 89.3,201.34 89.8,195.82 90.3,196.07 90.8,195.23 91.3,200.36 91.8,193.07 92.3,194.22 92.8,193.68 93.3,193.39 93.8,196.02 94.3,198.03 94.8,193.02 95.3,194.35 95.8,194.65 96.3,192.13 96.8,195.83 97.3,200.47 97.8,194.40 98.3,201.46 98.8,189.98 99.3,198.81 99.8,188.63 100.3,192.40 100.8,197.19 101.3,191.27 101.8,190.65 102.3,190.88 102.8,186.32 103.3,192.13 103.8,190.82 104.3,191.33 104.8,183.91 105.3,195.57 105.8,197.00 106.3,194.09 106.8,193.57 107.3,193.90 107.8,193.92 108.3,193.26 108.8,192.92 109.3,192.44 109.8,191.21 110.3,198.51 110.8,196.87 111.3,199.82 111.8,197.35 112.3,198.50 112.8,196.95 113.3,198.86 113.8,197.77 114.3,199.14 114.8,199.43 115.3,198.52 115.8,198.62 116.3,199.86 116.8,203.77 117.3,200.04 117.8,199.03 118.3,200.64 118.8,200.66 119.3,200.02 119.8,194.76 120.3,199.82 120.8,196.65 121.3,199.61 121.8,199.91 122.3,199.93 122.8,198.97 123.3,199.03 123.8,201.25 124.3,198.17 124.8,198.50 125.3,201.81 125.8,198.13 126.3,190.92 126.8,194.50 127.3,196.48 127.8,196.21 128.3,204.15 128.8,197.78 129.3,198.69 129.8,198.93 130.3,200.12 130.8,203.19 131.3,192.72 131.8,200.33 132.3,199.92 132.8,199.78 133.3,199.35 133.8,206.29 134.3,199.80 134.8,199.49 135.3,206.29 135.8,199.72 136.3,201.00 136.8,200.44 137.3,206.13" fill="none" stroke="#f8a810" stroke-width="0.75" stroke-linejoin="round"/>
<polyline points="195.8,195.44 196.3,187.59 196.8,196.36 197.3,195.86 197.8,195.84 198.3,195.48 198.8,195.00 199.3,195.79 199.8,200.66 200.3,194.92 200.8,195.75 201.3,195.77 201.8,196.76 202.3,198.22 202.8,198.47 203.3,199.20 203.8,203.53 204.3,203.80 204.8,199.52 205.3,200.06 205.8,199.22 206.3,192.17 206.8,197.63 207.3,198.36 207.8,198.36 208.3,196.13 208.8,197.65 209.3,196.61 209.8,195.23 210.3,197.06 210.8,189.35 211.3,198.63 211.8,195.62 212.3,195.12 212.8,199.31 213.3,196.64 213.8,193.64 214.3,195.24 214.8,194.52 215.3,194.51 215.8,195.23 216.3,196.14 216.8,196.18 217.3,195.73 217.8,196.62 218.3,187.64 218.8,197.28 219.3,197.32 219.8,196.79 220.3,196.38 220.8,196.13 221.3,194.93 221.8,195.48 222.3,195.83 222.8,186.38 223.3,195.35 223.8,195.41 224.3,195.25 224.8,195.91 225.3,196.51 225.8,201.65 226.3,196.85 226.8,197.41 227.3,199.84 227.8,197.42 228.3,193.55 228.8,198.91 229.3,197.92 229.8,196.60 230.3,197.29 230.8,197.17 231.3,195.73 231.8,195.06 232.3,200.49 232.8,196.02 233.3,195.20 233.8,196.55 234.3,195.49 234.8,195.15 235.3,194.12 235.8,195.66 236.3,194.79 236.8,199.54 237.3,195.25 237.8,205.95 238.3,202.87 238.8,196.24 239.3,188.23 239.8,196.92 240.3,195.33 240.8,196.67 241.3,198.06 241.8,188.97 242.3,200.70 242.8,196.09 243.3,197.96 243.8,196.98 244.3,196.62 244.8,196.76 245.3,196.08 245.8,197.49 246.3,200.51 246.8,197.79 247.3,196.63 247.8,195.31 248.3,196.44 248.8,196.61 249.3,197.54 249.8,196.18 250.3,199.61 250.8,196.79 251.3,197.83 251.8,197.83 252.3,198.03 252.8,197.22 253.3,197.32 253.8,195.80 254.3,195.85 254.8,196.04 255.3,196.06 255.8,197.40 256.3,196.24 256.8,195.45 257.3,195.05 257.8,201.33 258.3,197.28 258.8,201.28 259.3,196.38 259.8,193.68 260.3,193.93 260.8,193.32" fill="none" stroke="#f8a810" stroke-width="0.75" stroke-linejoin="round"/>
<polygon points="45.3,206.80 45.3,197.02 45.8,200.16 46.3,198.81 46.8,200.49 47.3,193.76 47.8,200.16 48.3,197.06 48.8,198.26 49.3,197.63 49.8,201.60 50.3,202.41 50.8,196.82 51.3,200.51 51.8,198.48 52.3,200.85 52.8,202.81 53.3,202.46 53.8,202.29 54.3,202.54 54.8,197.67 55.3,194.80 55.8,200.79 56.3,194.95 56.8,202.58 57.3,201.52 57.8,199.68 58.3,199.63 58.8,203.19 59.3,197.12 59.8,196.21 60.3,202.06 60.8,201.83 61.3,198.67 61.8,200.24 62.3,198.97 62.8,194.57 63.3,197.08 63.8,201.50 64.3,200.06 64.8,193.98 65.3,194.78 65.8,201.38 66.3,202.70 66.8,197.94 67.3,202.59 67.8,202.65 68.3,201.83 68.8,203.29 69.3,199.88 69.8,198.05 70.3,202.03 70.8,199.38 71.3,202.73 71.8,201.45 72.3,202.56 72.8,202.72 73.3,201.93 73.8,201.36 74.3,202.97 74.8,199.41 75.3,199.45 75.8,202.24 76.3,201.44 76.8,202.53 77.3,203.23 77.8,197.05 78.3,197.16 78.8,201.29 79.3,197.96 79.8,200.43 80.3,195.73 80.8,198.84 81.3,195.36 81.8,198.48 82.3,198.05 82.8,196.77 83.3,193.31 83.8,200.86 84.3,194.62 84.8,194.55 85.3,190.07 85.8,199.27 86.3,195.53 86.8,199.50 87.3,197.41 87.8,201.94 88.3,195.17 88.8,201.52 89.3,199.09 89.8,201.63 90.3,193.44 90.8,196.20 91.3,194.33 91.8,195.73 92.3,193.44 92.8,196.82 93.3,201.71 93.8,201.88 94.3,196.40 94.8,201.17 95.3,197.60 95.8,200.70 96.3,197.19 96.8,201.90 97.3,203.26 97.8,198.67 98.3,202.87 98.8,202.52 99.3,199.95 99.8,203.22 100.3,198.55 100.8,203.84 101.3,200.07 101.8,199.14 102.3,200.77 102.8,203.09 103.3,203.15 103.8,198.45 104.3,198.41 104.8,197.50 105.3,194.84 105.8,198.96 106.3,194.88 106.8,194.28 107.3,199.02 107.8,197.07 108.3,202.14 108.8,193.84 109.3,199.63 109.8,199.40 110.3,202.91 110.8,201.93 111.3,204.37 111.8,202.28 112.3,201.83 112.8,203.86 113.3,203.67 113.8,201.44 114.3,204.06 114.8,202.00 115.3,201.60 115.8,204.10 116.3,204.22 116.8,204.57 117.3,204.50 117.8,201.72 118.3,204.26 118.8,204.28 119.3,202.77 119.8,204.25 120.3,204.24 120.8,201.21 121.3,200.83 121.8,202.27 122.3,202.29 122.8,204.08 123.3,204.14 123.8,202.09 124.3,203.48 124.8,204.52 125.3,204.14 125.8,202.33 126.3,203.80 126.8,201.64 127.3,204.21 127.8,204.55 128.3,204.28 128.8,204.33 129.3,204.09 129.8,199.85 130.3,202.05 130.8,203.25 131.3,204.27 131.8,201.30 132.3,202.43 132.8,204.17 133.3,203.55 133.8,201.94 134.3,201.49 134.8,201.83 135.3,203.70 135.8,203.90 136.3,204.28 136.8,205.13 137.3,206.50 137.8,206.80 138.3,206.80 138.8,206.80 139.3,206.80 139.8,205.77 140.3,206.80 140.8,206.80 141.3,205.71 141.8,206.80 142.3,205.39 142.8,206.80 143.3,206.80 143.8,206.80 144.3,203.10 144.8,206.80 145.3,206.80 145.8,199.98 146.3,206.80 146.8,206.80 147.3,206.80 147.8,201.51 148.3,206.80 148.8,206.80 149.3,206.80 149.8,206.80 150.3,206.80 150.8,206.80 151.3,206.80 151.8,206.80 152.3,206.80 152.8,206.80 153.3,206.80 153.8,206.80 154.3,202.46 154.8,206.80 155.3,206.80 155.8,206.80 156.3,206.80 156.8,206.80 157.3,205.22 157.8,206.80 158.3,206.80 158.8,206.80 159.3,206.80 159.8,206.80 160.3,206.80 160.8,206.80 161.3,206.80 161.8,205.18 162.3,206.80 162.8,206.80 163.3,205.18 163.8,206.80 164.3,206.80 164.8,206.80 165.3,206.80 165.8,205.47 166.3,206.03 166.8,206.80 167.3,205.50 167.8,206.80 168.3,206.80 168.8,206.80 169.3,206.80 169.8,205.24 170.3,206.80 170.8,200.04 171.3,206.80 171.8,206.80 172.3,206.80 172.8,206.80 173.3,206.80 173.8,206.80 174.3,206.80 174.8,206.02 175.3,206.80 175.8,206.80 176.3,206.80 176.8,206.80 177.3,206.80 177.8,205.30 178.3,206.80 178.8,206.80 179.3,206.80 179.8,206.80 180.3,205.00 180.8,206.80 181.3,206.80 181.8,206.80 182.3,206.80 182.8,205.73 183.3,204.87 183.8,206.80 184.3,206.80 184.8,204.84 185.3,206.80 185.8,206.80 186.3,206.80 186.8,205.26 187.3,206.80 187.8,206.80 188.3,206.80 188.8,206.80 189.3,206.80 189.8,205.47 190.3,206.80 190.8,206.80 191.3,206.80 191.8,206.80 192.3,206.80 192.8,206.80 193.3,205.88 193.8,205.31 194.3,206.80 194.8,206.80 195.3,206.80 195.8,201.03 196.3,203.18 196.8,199.66 197.3,196.21 197.8,198.96 198.3,202.45 198.8,199.13 199.3,201.90 199.8,200.09 200.3,201.81 200.8,194.48 201.3,196.36 201.8,198.65 202.3,201.05 202.8,202.17 203.3,197.64 203.8,199.46 204.3,195.86 204.8,196.69 205.3,202.70 205.8,195.87 206.3,196.46 206.8,203.27 207.3,201.19 207.8,202.57 208.3,200.52 208.8,198.80 209.3,202.88 209.8,203.55 210.3,202.43 210.8,203.23 211.3,200.09 211.8,202.64 212.3,200.72 212.8,203.33 213.3,202.76 213.8,199.17 214.3,198.64 214.8,200.89 215.3,200.60 215.8,203.30 216.3,200.43 216.8,200.56 217.3,202.83 217.8,199.50 218.3,203.25 218.8,201.09 219.3,203.33 219.8,198.47 220.3,201.96 220.8,197.27 221.3,201.55 221.8,198.79 222.3,201.02 222.8,203.18 223.3,202.03 223.8,199.95 224.3,198.10 224.8,202.97 225.3,200.51 225.8,197.94 226.3,202.35 226.8,201.64 227.3,201.94 227.8,198.19 228.3,201.83 228.8,196.02 229.3,196.72 229.8,199.46 230.3,194.51 230.8,201.26 231.3,202.62 231.8,198.13 232.3,196.81 232.8,195.37 233.3,202.33 233.8,202.85 234.3,199.54 234.8,201.12 235.3,202.28 235.8,198.95 236.3,200.17 236.8,199.12 237.3,195.41 237.8,195.81 238.3,201.80 238.8,202.20 239.3,197.84 239.8,202.30 240.3,201.58 240.8,194.49 241.3,200.32 241.8,196.86 242.3,197.71 242.8,202.04 243.3,196.71 243.8,196.61 244.3,202.30 244.8,193.94 245.3,202.07 245.8,199.58 246.3,199.52 246.8,199.89 247.3,194.71 247.8,202.55 248.3,198.09 248.8,197.92 249.3,203.22 249.8,203.54 250.3,202.76 250.8,203.40 251.3,203.14 251.8,197.55 252.3,202.78 252.8,201.59 253.3,202.23 253.8,201.92 254.3,198.94 254.8,194.61 255.3,195.11 255.8,202.03 256.3,195.68 256.8,195.47 257.3,201.66 257.8,202.11 258.3,201.26 258.8,197.82 259.3,195.37 259.8,192.98 260.3,201.07 260.8,201.22 260.8,206.80" fill="#000"/>
<path d="M137.9 181.5V206.8M191.6 181.5V206.8" stroke="#2255cc" stroke-width="0.9"/>
<path d="M45.0 206.30H261.0" stroke="#f3e98a" stroke-width="0.8" opacity="0.7"/>
<rect x="45.0" y="211.0" width="216.0" height="24.80" fill="#fffcd8"/>
<path d="M53.5 211.0V235.8 M62.5 211.0V235.8 M71.5 211.0V235.8 M80.5 211.0V235.8 M89.5 211.0V235.8 M107.5 211.0V235.8 M116.5 211.0V235.8 M125.5 211.0V235.8 M134.5 211.0V235.8 M143.5 211.0V235.8 M161.5 211.0V235.8 M170.5 211.0V235.8 M179.5 211.0V235.8 M188.5 211.0V235.8 M197.5 211.0V235.8 M215.5 211.0V235.8 M224.5 211.0V235.8 M233.5 211.0V235.8 M242.5 211.0V235.8 M251.5 211.0V235.8" stroke="#d2d0b8" stroke-width="0.9" fill="none"/>
<path d="M98.5 211.0V235.8 M152.5 211.0V235.8 M206.5 211.0V235.8" stroke="#aaa996" stroke-width="0.9" fill="none"/>
<path d="M45.0 217.20H261.0 M45.0 223.40H261.0 M45.0 229.60H261.0" stroke="#dcdac0" stroke-width="0.8" fill="none"/>
<rect x="135.3" y="211.0" width="66.69999999999999" height="24.80" fill="#2bc2c3"/>
<path d="M143.5 211.0V235.8 M161.5 211.0V235.8 M170.5 211.0V235.8 M179.5 211.0V235.8 M188.5 211.0V235.8 M197.5 211.0V235.8" stroke="#6ab8c0" stroke-width="0.75" fill="none"/>
<path d="M135.3 217.20H202.0 M135.3 223.40H202.0 M135.3 229.60H202.0" stroke="#4cc4c8" stroke-width="0.7" fill="none"/>
<path d="M152.5 211.0V235.8" stroke="#4f9ea8" stroke-width="0.9" fill="none"/>
<polyline points="45.3,229.95 45.8,224.65 46.3,235.30 46.8,230.05 47.3,231.28 47.8,224.72 48.3,230.26 48.8,228.89 49.3,235.30 49.8,229.62 50.3,229.96 50.8,230.20 51.3,225.88 51.8,230.55 52.3,235.30 52.8,227.56 53.3,223.26 53.8,231.52 54.3,229.40 54.8,229.67 55.3,229.61 55.8,229.98 56.3,228.18 56.8,221.19 57.3,228.87 57.8,229.11 58.3,231.55 58.8,223.86 59.3,223.18 59.8,224.17 60.3,227.05 60.8,223.96 61.3,222.63 61.8,229.18 62.3,223.32 62.8,222.34 63.3,228.28 63.8,228.09 64.3,228.52 64.8,228.32 65.3,225.64 65.8,229.84 66.3,229.07 66.8,229.63 67.3,229.56 67.8,229.23 68.3,233.95 68.8,230.10 69.3,228.49 69.8,226.28 70.3,232.08 70.8,226.52 71.3,226.95 71.8,234.79 72.3,232.44 72.8,227.20 73.3,227.25 73.8,227.11 74.3,218.67 74.8,219.53 75.3,217.20 75.8,218.92 76.3,224.10 76.8,217.25 77.3,217.40 77.8,216.80 78.3,220.71 78.8,220.14 79.3,218.61 79.8,219.75 80.3,219.88 80.8,220.49 81.3,219.40 81.8,221.79 82.3,225.60 82.8,222.20 83.3,219.70 83.8,221.65 84.3,219.59 84.8,218.56 85.3,216.50 85.8,221.29 86.3,221.97 86.8,220.44 87.3,221.01 87.8,218.88 88.3,222.46 88.8,221.33 89.3,221.32 89.8,220.92 90.3,222.26 90.8,217.45 91.3,217.57 91.8,218.75 92.3,219.35 92.8,220.54 93.3,219.08 93.8,220.33 94.3,219.38 94.8,219.18 95.3,220.27 95.8,222.23 96.3,215.47 96.8,220.09 97.3,223.79 97.8,221.04 98.3,224.22 98.8,222.43 99.3,222.75 99.8,223.67 100.3,222.82 100.8,221.37 101.3,223.38 101.8,220.97 102.3,220.19 102.8,224.41 103.3,221.26 103.8,220.09 104.3,227.37 104.8,228.74 105.3,226.86 105.8,227.89 106.3,228.13 106.8,228.11 107.3,220.68 107.8,228.91 108.3,229.05 108.8,228.08 109.3,227.86 109.8,226.63 110.3,227.71 110.8,227.27 111.3,225.96 111.8,227.17 112.3,231.36 112.8,231.28 113.3,224.30 113.8,224.16 114.3,224.13 114.8,225.23 115.3,226.31 115.8,226.85 116.3,233.08 116.8,232.83 117.3,232.95 117.8,232.86 118.3,233.11 118.8,235.19 119.3,235.30 119.8,235.23 120.3,235.18 120.8,235.30 121.3,234.94 121.8,235.30 122.3,232.80 122.8,232.76 123.3,233.41 123.8,233.11 124.3,219.49 124.8,229.30 125.3,223.36 125.8,229.16 126.3,223.95 126.8,223.12 127.3,221.87 127.8,222.44 128.3,214.54 128.8,222.29 129.3,221.58 129.8,217.03 130.3,224.24 130.8,223.15 131.3,228.44 131.8,221.83 132.3,223.30 132.8,222.53 133.3,223.87 133.8,223.60 134.3,223.26 134.8,218.99 135.3,224.37" fill="none" stroke="#fcca48" stroke-width="1.5" stroke-linejoin="round"/>
<polyline points="202.3,226.21 202.8,225.12 203.3,225.96 203.8,225.72 204.3,226.78 204.8,230.89 205.3,227.02 205.8,226.51 206.3,225.36 206.8,223.38 207.3,224.47 207.8,231.24 208.3,224.34 208.8,223.63 209.3,224.56 209.8,223.75 210.3,221.13 210.8,222.17 211.3,224.91 211.8,231.38 212.3,222.71 212.8,223.97 213.3,224.47 213.8,224.17 214.3,225.11 214.8,225.58 215.3,221.10 215.8,225.75 216.3,225.17 216.8,224.65 217.3,230.63 217.8,226.20 218.3,220.55 218.8,226.57 219.3,226.91 219.8,229.37 220.3,219.77 220.8,219.39 221.3,231.13 221.8,226.39 222.3,226.46 222.8,226.98 223.3,227.71 223.8,225.50 224.3,227.01 224.8,226.23 225.3,226.51 225.8,227.30 226.3,225.93 226.8,226.83 227.3,225.96 227.8,226.46 228.3,227.03 228.8,227.46 229.3,226.41 229.8,227.27 230.3,227.37 230.8,226.84 231.3,227.42 231.8,223.76 232.3,227.51 232.8,227.30 233.3,231.97 233.8,227.11 234.3,234.53 234.8,227.37 235.3,227.58 235.8,228.57 236.3,228.18 236.8,232.53 237.3,227.94 237.8,226.45 238.3,227.57 238.8,227.91 239.3,227.54 239.8,227.40 240.3,231.89 240.8,227.29 241.3,227.45 241.8,227.47 242.3,226.67 242.8,228.49 243.3,227.99 243.8,227.83 244.3,227.75 244.8,227.04 245.3,227.99 245.8,228.34 246.3,227.31 246.8,229.85 247.3,229.68 247.8,226.00 248.3,225.25 248.8,220.25 249.3,224.42 249.8,221.20 250.3,224.58 250.8,223.17 251.3,224.28 251.8,223.61 252.3,218.86 252.8,223.60 253.3,222.74 253.8,226.33 254.3,225.24 254.8,227.05 255.3,226.98 255.8,223.27 256.3,225.11 256.8,224.97 257.3,226.63 257.8,226.07 258.3,226.07 258.8,227.17 259.3,225.20 259.8,225.86 260.3,224.68 260.8,225.42" fill="none" stroke="#fcca48" stroke-width="1.5" stroke-linejoin="round"/>
<polyline points="45.3,229.95 45.8,224.65 46.3,235.30 46.8,230.05 47.3,231.28 47.8,224.72 48.3,230.26 48.8,228.89 49.3,235.30 49.8,229.62 50.3,229.96 50.8,230.20 51.3,225.88 51.8,230.55 52.3,235.30 52.8,227.56 53.3,223.26 53.8,231.52 54.3,229.40 54.8,229.67 55.3,229.61 55.8,229.98 56.3,228.18 56.8,221.19 57.3,228.87 57.8,229.11 58.3,231.55 58.8,223.86 59.3,223.18 59.8,224.17 60.3,227.05 60.8,223.96 61.3,222.63 61.8,229.18 62.3,223.32 62.8,222.34 63.3,228.28 63.8,228.09 64.3,228.52 64.8,228.32 65.3,225.64 65.8,229.84 66.3,229.07 66.8,229.63 67.3,229.56 67.8,229.23 68.3,233.95 68.8,230.10 69.3,228.49 69.8,226.28 70.3,232.08 70.8,226.52 71.3,226.95 71.8,234.79 72.3,232.44 72.8,227.20 73.3,227.25 73.8,227.11 74.3,218.67 74.8,219.53 75.3,217.20 75.8,218.92 76.3,224.10 76.8,217.25 77.3,217.40 77.8,216.80 78.3,220.71 78.8,220.14 79.3,218.61 79.8,219.75 80.3,219.88 80.8,220.49 81.3,219.40 81.8,221.79 82.3,225.60 82.8,222.20 83.3,219.70 83.8,221.65 84.3,219.59 84.8,218.56 85.3,216.50 85.8,221.29 86.3,221.97 86.8,220.44 87.3,221.01 87.8,218.88 88.3,222.46 88.8,221.33 89.3,221.32 89.8,220.92 90.3,222.26 90.8,217.45 91.3,217.57 91.8,218.75 92.3,219.35 92.8,220.54 93.3,219.08 93.8,220.33 94.3,219.38 94.8,219.18 95.3,220.27 95.8,222.23 96.3,215.47 96.8,220.09 97.3,223.79 97.8,221.04 98.3,224.22 98.8,222.43 99.3,222.75 99.8,223.67 100.3,222.82 100.8,221.37 101.3,223.38 101.8,220.97 102.3,220.19 102.8,224.41 103.3,221.26 103.8,220.09 104.3,227.37 104.8,228.74 105.3,226.86 105.8,227.89 106.3,228.13 106.8,228.11 107.3,220.68 107.8,228.91 108.3,229.05 108.8,228.08 109.3,227.86 109.8,226.63 110.3,227.71 110.8,227.27 111.3,225.96 111.8,227.17 112.3,231.36 112.8,231.28 113.3,224.30 113.8,224.16 114.3,224.13 114.8,225.23 115.3,226.31 115.8,226.85 116.3,233.08 116.8,232.83 117.3,232.95 117.8,232.86 118.3,233.11 118.8,235.19 119.3,235.30 119.8,235.23 120.3,235.18 120.8,235.30 121.3,234.94 121.8,235.30 122.3,232.80 122.8,232.76 123.3,233.41 123.8,233.11 124.3,219.49 124.8,229.30 125.3,223.36 125.8,229.16 126.3,223.95 126.8,223.12 127.3,221.87 127.8,222.44 128.3,214.54 128.8,222.29 129.3,221.58 129.8,217.03 130.3,224.24 130.8,223.15 131.3,228.44 131.8,221.83 132.3,223.30 132.8,222.53 133.3,223.87 133.8,223.60 134.3,223.26 134.8,218.99 135.3,224.37" fill="none" stroke="#f8a810" stroke-width="0.75" stroke-linejoin="round"/>
<polyline points="202.3,226.21 202.8,225.12 203.3,225.96 203.8,225.72 204.3,226.78 204.8,230.89 205.3,227.02 205.8,226.51 206.3,225.36 206.8,223.38 207.3,224.47 207.8,231.24 208.3,224.34 208.8,223.63 209.3,224.56 209.8,223.75 210.3,221.13 210.8,222.17 211.3,224.91 211.8,231.38 212.3,222.71 212.8,223.97 213.3,224.47 213.8,224.17 214.3,225.11 214.8,225.58 215.3,221.10 215.8,225.75 216.3,225.17 216.8,224.65 217.3,230.63 217.8,226.20 218.3,220.55 218.8,226.57 219.3,226.91 219.8,229.37 220.3,219.77 220.8,219.39 221.3,231.13 221.8,226.39 222.3,226.46 222.8,226.98 223.3,227.71 223.8,225.50 224.3,227.01 224.8,226.23 225.3,226.51 225.8,227.30 226.3,225.93 226.8,226.83 227.3,225.96 227.8,226.46 228.3,227.03 228.8,227.46 229.3,226.41 229.8,227.27 230.3,227.37 230.8,226.84 231.3,227.42 231.8,223.76 232.3,227.51 232.8,227.30 233.3,231.97 233.8,227.11 234.3,234.53 234.8,227.37 235.3,227.58 235.8,228.57 236.3,228.18 236.8,232.53 237.3,227.94 237.8,226.45 238.3,227.57 238.8,227.91 239.3,227.54 239.8,227.40 240.3,231.89 240.8,227.29 241.3,227.45 241.8,227.47 242.3,226.67 242.8,228.49 243.3,227.99 243.8,227.83 244.3,227.75 244.8,227.04 245.3,227.99 245.8,228.34 246.3,227.31 246.8,229.85 247.3,229.68 247.8,226.00 248.3,225.25 248.8,220.25 249.3,224.42 249.8,221.20 250.3,224.58 250.8,223.17 251.3,224.28 251.8,223.61 252.3,218.86 252.8,223.60 253.3,222.74 253.8,226.33 254.3,225.24 254.8,227.05 255.3,226.98 255.8,223.27 256.3,225.11 256.8,224.97 257.3,226.63 257.8,226.07 258.3,226.07 258.8,227.17 259.3,225.20 259.8,225.86 260.3,224.68 260.8,225.42" fill="none" stroke="#f8a810" stroke-width="0.75" stroke-linejoin="round"/>
<polygon points="45.3,235.80 45.3,233.67 45.8,229.81 46.3,233.55 46.8,231.04 47.3,233.61 47.8,229.70 48.3,231.73 48.8,231.08 49.3,231.17 49.8,232.80 50.3,233.04 50.8,229.09 51.3,231.01 51.8,230.88 52.3,232.90 52.8,228.27 53.3,230.22 53.8,232.02 54.3,233.34 54.8,232.08 55.3,229.33 55.8,231.06 56.3,233.80 56.8,225.12 57.3,230.94 57.8,233.54 58.3,231.01 58.8,229.88 59.3,232.55 59.8,233.32 60.3,232.23 60.8,228.46 61.3,231.18 61.8,231.81 62.3,230.82 62.8,227.53 63.3,229.36 63.8,232.20 64.3,231.33 64.8,231.52 65.3,228.19 65.8,230.35 66.3,232.54 66.8,232.71 67.3,231.63 67.8,230.58 68.3,230.60 68.8,231.81 69.3,231.84 69.8,232.47 70.3,233.08 70.8,232.70 71.3,231.38 71.8,233.17 72.3,230.48 72.8,232.53 73.3,233.84 73.8,233.12 74.3,232.95 74.8,233.06 75.3,233.11 75.8,232.96 76.3,232.84 76.8,228.01 77.3,232.90 77.8,231.09 78.3,229.49 78.8,232.46 79.3,231.33 79.8,230.66 80.3,229.90 80.8,228.08 81.3,229.40 81.8,222.35 82.3,231.05 82.8,232.09 83.3,228.48 83.8,229.87 84.3,230.12 84.8,229.82 85.3,227.06 85.8,228.89 86.3,231.11 86.8,232.57 87.3,232.70 87.8,230.74 88.3,229.12 88.8,229.69 89.3,228.76 89.8,232.52 90.3,232.41 90.8,226.00 91.3,227.92 91.8,231.81 92.3,225.44 92.8,230.13 93.3,232.18 93.8,229.08 94.3,225.06 94.8,225.12 95.3,225.21 95.8,230.10 96.3,225.78 96.8,230.46 97.3,225.16 97.8,228.59 98.3,229.54 98.8,231.22 99.3,229.04 99.8,226.04 100.3,230.28 100.8,228.19 101.3,229.76 101.8,230.15 102.3,228.93 102.8,230.19 103.3,226.41 103.8,225.49 104.3,232.43 104.8,233.19 105.3,232.52 105.8,233.06 106.3,230.82 106.8,229.18 107.3,233.21 107.8,231.89 108.3,231.69 108.8,233.27 109.3,228.43 109.8,233.19 110.3,233.19 110.8,233.34 111.3,232.46 111.8,231.15 112.3,231.97 112.8,232.49 113.3,233.20 113.8,230.54 114.3,233.30 114.8,232.64 115.3,231.65 115.8,233.83 116.3,235.08 116.8,234.76 117.3,234.98 117.8,235.05 118.3,233.88 118.8,235.14 119.3,234.93 119.8,235.06 120.3,235.03 120.8,233.97 121.3,234.89 121.8,234.60 122.3,234.54 122.8,234.05 123.3,234.01 123.8,234.91 124.3,230.40 124.8,232.92 125.3,230.14 125.8,232.38 126.3,232.86 126.8,228.86 127.3,226.79 127.8,229.37 128.3,228.79 128.8,227.64 129.3,231.94 129.8,228.74 130.3,231.57 130.8,231.65 131.3,233.43 131.8,233.09 132.3,232.85 132.8,232.39 133.3,233.57 133.8,230.44 134.3,231.10 134.8,233.86 135.3,233.91 135.8,235.80 136.3,235.80 136.8,235.80 137.3,235.80 137.8,235.80 138.3,235.80 138.8,235.80 139.3,235.80 139.8,228.36 140.3,228.36 140.8,234.57 141.3,235.80 141.8,235.80 142.3,235.80 142.8,235.80 143.3,235.80 143.8,235.80 144.3,235.80 144.8,235.80 145.3,235.80 145.8,235.80 146.3,235.80 146.8,235.80 147.3,235.80 147.8,235.80 148.3,234.26 148.8,235.80 149.3,235.80 149.8,235.80 150.3,235.80 150.8,234.88 151.3,235.80 151.8,234.58 152.3,235.80 152.8,234.09 153.3,234.23 153.8,235.80 154.3,235.80 154.8,235.80 155.3,232.71 155.8,235.80 156.3,235.80 156.8,234.92 157.3,228.82 157.8,235.80 158.3,235.80 158.8,235.80 159.3,235.80 159.8,234.75 160.3,235.80 160.8,235.80 161.3,235.80 161.8,235.80 162.3,235.80 162.8,235.80 163.3,235.80 163.8,235.80 164.3,232.97 164.8,229.24 165.3,235.80 165.8,235.80 166.3,235.80 166.8,235.80 167.3,235.80 167.8,235.80 168.3,235.80 168.8,235.80 169.3,235.80 169.8,235.80 170.3,235.80 170.8,229.57 171.3,235.80 171.8,234.14 172.3,230.34 172.8,230.34 173.3,235.80 173.8,235.80 174.3,235.80 174.8,235.80 175.3,228.36 175.8,228.36 176.3,235.80 176.8,235.80 177.3,235.80 177.8,235.80 178.3,235.80 178.8,235.80 179.3,235.80 179.8,235.80 180.3,235.80 180.8,234.63 181.3,235.80 181.8,235.80 182.3,235.80 182.8,234.22 183.3,234.19 183.8,235.80 184.3,235.80 184.8,235.80 185.3,235.80 185.8,235.80 186.3,235.80 186.8,235.80 187.3,235.02 187.8,234.74 188.3,234.18 188.8,235.80 189.3,235.80 189.8,235.80 190.3,235.80 190.8,235.80 191.3,235.80 191.8,235.80 192.3,235.80 192.8,235.80 193.3,235.80 193.8,235.80 194.3,235.80 194.8,235.80 195.3,235.80 195.8,235.80 196.3,235.80 196.8,234.57 197.3,235.80 197.8,235.80 198.3,235.80 198.8,235.80 199.3,235.80 199.8,235.80 200.3,235.80 200.8,235.80 201.3,235.80 201.8,235.80 202.3,232.24 202.8,228.66 203.3,232.07 203.8,230.66 204.3,231.69 204.8,227.40 205.3,231.50 205.8,230.95 206.3,227.71 206.8,231.72 207.3,228.79 207.8,231.32 208.3,231.24 208.8,223.74 209.3,231.65 209.8,230.89 210.3,227.37 210.8,227.11 211.3,231.26 211.8,231.61 212.3,231.10 212.8,228.79 213.3,225.21 213.8,229.32 214.3,232.33 214.8,230.97 215.3,230.03 215.8,228.12 216.3,226.56 216.8,232.49 217.3,228.30 217.8,229.24 218.3,229.59 218.8,230.25 219.3,229.44 219.8,231.48 220.3,232.37 220.8,231.53 221.3,232.12 221.8,226.79 222.3,230.85 222.8,224.36 223.3,227.94 223.8,226.27 224.3,227.97 224.8,223.38 225.3,224.83 225.8,230.61 226.3,225.69 226.8,223.73 227.3,225.61 227.8,224.02 228.3,225.95 228.8,228.63 229.3,231.10 229.8,230.38 230.3,226.12 230.8,230.22 231.3,226.05 231.8,225.86 232.3,224.11 232.8,225.71 233.3,225.54 233.8,231.82 234.3,232.62 234.8,228.71 235.3,232.39 235.8,229.06 236.3,230.29 236.8,228.31 237.3,232.85 237.8,232.59 238.3,230.51 238.8,233.26 239.3,230.52 239.8,231.31 240.3,231.66 240.8,233.16 241.3,229.55 241.8,232.88 242.3,229.35 242.8,227.96 243.3,231.65 243.8,226.75 244.3,231.59 244.8,230.85 245.3,227.44 245.8,226.88 246.3,226.80 246.8,228.58 247.3,232.84 247.8,228.74 248.3,229.15 248.8,228.78 249.3,232.31 249.8,233.04 250.3,229.37 250.8,232.30 251.3,231.26 251.8,226.90 252.3,231.71 252.8,230.94 253.3,230.45 253.8,225.90 254.3,223.95 254.8,231.11 255.3,230.51 255.8,226.38 256.3,231.20 256.8,228.83 257.3,230.18 257.8,227.17 258.3,231.69 258.8,230.20 259.3,229.80 259.8,232.48 260.3,232.26 260.8,231.72 260.8,235.80" fill="#000"/>
<path d="M135.70000000000002 211.0V235.8M201.6 211.0V235.8" stroke="#2255cc" stroke-width="0.9"/>
<path d="M45.0 235.30H261.0" stroke="#f3e98a" stroke-width="0.8" opacity="0.7"/>
<rect x="45.0" y="239.8" width="216.0" height="25.80" fill="#fffcd8"/>
<path d="M53.5 239.8V265.6 M62.5 239.8V265.6 M71.5 239.8V265.6 M80.5 239.8V265.6 M89.5 239.8V265.6 M107.5 239.8V265.6 M116.5 239.8V265.6 M125.5 239.8V265.6 M134.5 239.8V265.6 M143.5 239.8V265.6 M161.5 239.8V265.6 M170.5 239.8V265.6 M179.5 239.8V265.6 M188.5 239.8V265.6 M197.5 239.8V265.6 M215.5 239.8V265.6 M224.5 239.8V265.6 M233.5 239.8V265.6 M242.5 239.8V265.6 M251.5 239.8V265.6" stroke="#d2d0b8" stroke-width="0.9" fill="none"/>
<path d="M98.5 239.8V265.6 M152.5 239.8V265.6 M206.5 239.8V265.6" stroke="#aaa996" stroke-width="0.9" fill="none"/>
<path d="M45.0 246.25H261.0 M45.0 252.70H261.0 M45.0 259.15H261.0" stroke="#dcdac0" stroke-width="0.8" fill="none"/>
<rect x="198.0" y="239.8" width="2.0" height="25.80" fill="#8ceccb"/>
<rect x="133.4" y="239.8" width="2.5999999999999943" height="25.80" fill="#8ceccb"/>
<rect x="136.0" y="239.8" width="62.0" height="25.80" fill="#2bc2c3"/>
<path d="M143.5 239.8V265.6 M161.5 239.8V265.6 M170.5 239.8V265.6 M179.5 239.8V265.6 M188.5 239.8V265.6" stroke="#6ab8c0" stroke-width="0.75" fill="none"/>
<path d="M136.0 246.25H198.0 M136.0 252.70H198.0 M136.0 259.15H198.0" stroke="#4cc4c8" stroke-width="0.7" fill="none"/>
<path d="M152.5 239.8V265.6" stroke="#4f9ea8" stroke-width="0.9" fill="none"/>
<polyline points="45.3,255.79 45.8,252.72 46.3,252.90 46.8,252.55 47.3,253.51 47.8,254.48 48.3,252.70 48.8,253.09 49.3,251.90 49.8,258.80 50.3,254.71 50.8,254.47 51.3,253.13 51.8,250.28 52.3,254.81 52.8,254.95 53.3,256.69 53.8,252.94 54.3,255.51 54.8,245.81 55.3,254.44 55.8,255.41 56.3,253.75 56.8,253.13 57.3,257.49 57.8,254.23 58.3,253.72 58.8,250.89 59.3,246.91 59.8,248.40 60.3,248.33 60.8,248.04 61.3,249.91 61.8,248.62 62.3,247.61 62.8,247.83 63.3,245.26 63.8,247.02 64.3,251.04 64.8,250.53 65.3,251.43 65.8,251.75 66.3,251.72 66.8,247.23 67.3,253.04 67.8,252.60 68.3,251.78 68.8,255.91 69.3,248.74 69.8,254.48 70.3,250.20 70.8,254.97 71.3,251.72 71.8,249.10 72.3,250.14 72.8,250.46 73.3,253.53 73.8,253.57 74.3,252.24 74.8,251.05 75.3,242.16 75.8,250.71 76.3,251.43 76.8,249.37 77.3,249.04 77.8,250.57 78.3,246.37 78.8,249.27 79.3,246.61 79.8,241.09 80.3,248.99 80.8,249.08 81.3,245.22 81.8,250.39 82.3,249.65 82.8,246.31 83.3,250.52 83.8,251.07 84.3,261.23 84.8,253.09 85.3,253.19 85.8,252.55 86.3,258.72 86.8,252.36 87.3,252.38 87.8,249.76 88.3,249.88 88.8,251.34 89.3,243.01 89.8,249.60 90.3,249.12 90.8,249.03 91.3,249.11 91.8,247.23 92.3,247.73 92.8,249.14 93.3,252.46 93.8,254.84 94.3,248.83 94.8,247.66 95.3,249.18 95.8,250.08 96.3,254.98 96.8,252.11 97.3,243.65 97.8,253.55 98.3,253.53 98.8,253.38 99.3,252.86 99.8,252.89 100.3,251.89 100.8,251.87 101.3,252.82 101.8,252.99 102.3,251.55 102.8,252.95 103.3,252.26 103.8,251.20 104.3,251.06 104.8,251.36 105.3,251.83 105.8,251.25 106.3,252.45 106.8,252.17 107.3,254.17 107.8,245.93 108.3,255.82 108.8,254.64 109.3,254.39 109.8,255.06 110.3,254.25 110.8,261.48 111.3,260.84 111.8,257.28 112.3,261.07 112.8,259.81 113.3,255.71 113.8,246.41 114.3,255.76 114.8,255.65 115.3,261.42 115.8,254.43 116.3,255.66 116.8,255.93 117.3,253.27 117.8,246.69 118.3,253.72 118.8,254.09 119.3,253.79 119.8,249.68 120.3,263.07 120.8,257.38 121.3,259.40 121.8,260.80 122.3,258.89 122.8,259.32 123.3,258.71 123.8,257.63 124.3,253.54 124.8,257.31 125.3,256.41 125.8,254.71 126.3,255.70 126.8,259.99 127.3,254.61 127.8,256.27 128.3,255.19 128.8,255.24 129.3,255.63 129.8,254.39 130.3,247.35 130.8,255.45 131.3,254.68 131.8,263.08 132.3,254.45 132.8,253.86 133.3,255.69" fill="none" stroke="#fcca48" stroke-width="1.5" stroke-linejoin="round"/>
<polyline points="200.3,251.61 200.8,251.31 201.3,246.68 201.8,250.12 202.3,252.56 202.8,250.49 203.3,256.13 203.8,254.51 204.3,254.87 204.8,253.05 205.3,255.01 205.8,256.28 206.3,254.25 206.8,258.97 207.3,255.85 207.8,255.40 208.3,255.56 208.8,254.03 209.3,254.72 209.8,261.24 210.3,253.93 210.8,254.91 211.3,253.93 211.8,253.53 212.3,252.98 212.8,256.92 213.3,246.68 213.8,255.68 214.3,255.44 214.8,255.39 215.3,255.41 215.8,257.12 216.3,257.77 216.8,257.95 217.3,258.62 217.8,258.76 218.3,258.13 218.8,259.23 219.3,257.88 219.8,259.17 220.3,257.92 220.8,258.84 221.3,256.53 221.8,262.91 222.3,255.59 222.8,254.27 223.3,257.03 223.8,256.69 224.3,255.33 224.8,253.98 225.3,254.13 225.8,254.09 226.3,260.09 226.8,250.83 227.3,251.15 227.8,252.48 228.3,254.38 228.8,253.12 229.3,252.74 229.8,251.53 230.3,257.72 230.8,256.40 231.3,255.23 231.8,255.51 232.3,256.63 232.8,265.00 233.3,264.95 233.8,265.08 234.3,265.04 234.8,265.08 235.3,265.08 235.8,265.02 236.3,264.96 236.8,264.88 237.3,264.95 237.8,264.91 238.3,265.01 238.8,265.08 239.3,265.01 239.8,264.92 240.3,264.99 240.8,264.78 241.3,264.84 241.8,264.95 242.3,264.78 242.8,264.87 243.3,264.79 243.8,264.94 244.3,264.85 244.8,264.63 245.3,264.60 245.8,264.50 246.3,264.43 246.8,264.58 247.3,264.56 247.8,264.66 248.3,264.95 248.8,264.89 249.3,265.05 249.8,264.98 250.3,265.04 250.8,264.94 251.3,264.90 251.8,264.97 252.3,265.04 252.8,265.08 253.3,265.08 253.8,265.06 254.3,264.94 254.8,265.08 255.3,265.04 255.8,265.08 256.3,265.08 256.8,265.01 257.3,265.04 257.8,265.08 258.3,265.08 258.8,265.03 259.3,265.08 259.8,265.08 260.3,265.08 260.8,265.08" fill="none" stroke="#fcca48" stroke-width="1.5" stroke-linejoin="round"/>
<polyline points="45.3,255.79 45.8,252.72 46.3,252.90 46.8,252.55 47.3,253.51 47.8,254.48 48.3,252.70 48.8,253.09 49.3,251.90 49.8,258.80 50.3,254.71 50.8,254.47 51.3,253.13 51.8,250.28 52.3,254.81 52.8,254.95 53.3,256.69 53.8,252.94 54.3,255.51 54.8,245.81 55.3,254.44 55.8,255.41 56.3,253.75 56.8,253.13 57.3,257.49 57.8,254.23 58.3,253.72 58.8,250.89 59.3,246.91 59.8,248.40 60.3,248.33 60.8,248.04 61.3,249.91 61.8,248.62 62.3,247.61 62.8,247.83 63.3,245.26 63.8,247.02 64.3,251.04 64.8,250.53 65.3,251.43 65.8,251.75 66.3,251.72 66.8,247.23 67.3,253.04 67.8,252.60 68.3,251.78 68.8,255.91 69.3,248.74 69.8,254.48 70.3,250.20 70.8,254.97 71.3,251.72 71.8,249.10 72.3,250.14 72.8,250.46 73.3,253.53 73.8,253.57 74.3,252.24 74.8,251.05 75.3,242.16 75.8,250.71 76.3,251.43 76.8,249.37 77.3,249.04 77.8,250.57 78.3,246.37 78.8,249.27 79.3,246.61 79.8,241.09 80.3,248.99 80.8,249.08 81.3,245.22 81.8,250.39 82.3,249.65 82.8,246.31 83.3,250.52 83.8,251.07 84.3,261.23 84.8,253.09 85.3,253.19 85.8,252.55 86.3,258.72 86.8,252.36 87.3,252.38 87.8,249.76 88.3,249.88 88.8,251.34 89.3,243.01 89.8,249.60 90.3,249.12 90.8,249.03 91.3,249.11 91.8,247.23 92.3,247.73 92.8,249.14 93.3,252.46 93.8,254.84 94.3,248.83 94.8,247.66 95.3,249.18 95.8,250.08 96.3,254.98 96.8,252.11 97.3,243.65 97.8,253.55 98.3,253.53 98.8,253.38 99.3,252.86 99.8,252.89 100.3,251.89 100.8,251.87 101.3,252.82 101.8,252.99 102.3,251.55 102.8,252.95 103.3,252.26 103.8,251.20 104.3,251.06 104.8,251.36 105.3,251.83 105.8,251.25 106.3,252.45 106.8,252.17 107.3,254.17 107.8,245.93 108.3,255.82 108.8,254.64 109.3,254.39 109.8,255.06 110.3,254.25 110.8,261.48 111.3,260.84 111.8,257.28 112.3,261.07 112.8,259.81 113.3,255.71 113.8,246.41 114.3,255.76 114.8,255.65 115.3,261.42 115.8,254.43 116.3,255.66 116.8,255.93 117.3,253.27 117.8,246.69 118.3,253.72 118.8,254.09 119.3,253.79 119.8,249.68 120.3,263.07 120.8,257.38 121.3,259.40 121.8,260.80 122.3,258.89 122.8,259.32 123.3,258.71 123.8,257.63 124.3,253.54 124.8,257.31 125.3,256.41 125.8,254.71 126.3,255.70 126.8,259.99 127.3,254.61 127.8,256.27 128.3,255.19 128.8,255.24 129.3,255.63 129.8,254.39 130.3,247.35 130.8,255.45 131.3,254.68 131.8,263.08 132.3,254.45 132.8,253.86 133.3,255.69" fill="none" stroke="#f8a810" stroke-width="0.75" stroke-linejoin="round"/>
<polyline points="200.3,251.61 200.8,251.31 201.3,246.68 201.8,250.12 202.3,252.56 202.8,250.49 203.3,256.13 203.8,254.51 204.3,254.87 204.8,253.05 205.3,255.01 205.8,256.28 206.3,254.25 206.8,258.97 207.3,255.85 207.8,255.40 208.3,255.56 208.8,254.03 209.3,254.72 209.8,261.24 210.3,253.93 210.8,254.91 211.3,253.93 211.8,253.53 212.3,252.98 212.8,256.92 213.3,246.68 213.8,255.68 214.3,255.44 214.8,255.39 215.3,255.41 215.8,257.12 216.3,257.77 216.8,257.95 217.3,258.62 217.8,258.76 218.3,258.13 218.8,259.23 219.3,257.88 219.8,259.17 220.3,257.92 220.8,258.84 221.3,256.53 221.8,262.91 222.3,255.59 222.8,254.27 223.3,257.03 223.8,256.69 224.3,255.33 224.8,253.98 225.3,254.13 225.8,254.09 226.3,260.09 226.8,250.83 227.3,251.15 227.8,252.48 228.3,254.38 228.8,253.12 229.3,252.74 229.8,251.53 230.3,257.72 230.8,256.40 231.3,255.23 231.8,255.51 232.3,256.63 232.8,265.00 233.3,264.95 233.8,265.08 234.3,265.04 234.8,265.08 235.3,265.08 235.8,265.02 236.3,264.96 236.8,264.88 237.3,264.95 237.8,264.91 238.3,265.01 238.8,265.08 239.3,265.01 239.8,264.92 240.3,264.99 240.8,264.78 241.3,264.84 241.8,264.95 242.3,264.78 242.8,264.87 243.3,264.79 243.8,264.94 244.3,264.85 244.8,264.63 245.3,264.60 245.8,264.50 246.3,264.43 246.8,264.58 247.3,264.56 247.8,264.66 248.3,264.95 248.8,264.89 249.3,265.05 249.8,264.98 250.3,265.04 250.8,264.94 251.3,264.90 251.8,264.97 252.3,265.04 252.8,265.08 253.3,265.08 253.8,265.06 254.3,264.94 254.8,265.08 255.3,265.04 255.8,265.08 256.3,265.08 256.8,265.01 257.3,265.04 257.8,265.08 258.3,265.08 258.8,265.03 259.3,265.08 259.8,265.08 260.3,265.08 260.8,265.08" fill="none" stroke="#f8a810" stroke-width="0.75" stroke-linejoin="round"/>
<polygon points="45.3,265.60 45.3,262.01 45.8,262.24 46.3,258.97 46.8,260.51 47.3,261.67 47.8,261.93 48.3,260.90 48.8,259.74 49.3,261.69 49.8,259.49 50.3,260.96 50.8,254.22 51.3,255.81 51.8,260.27 52.3,260.54 52.8,254.59 53.3,254.65 53.8,249.26 54.3,260.53 54.8,257.54 55.3,254.79 55.8,259.20 56.3,260.79 56.8,261.57 57.3,261.15 57.8,260.98 58.3,259.03 58.8,262.27 59.3,258.54 59.8,262.18 60.3,261.55 60.8,253.67 61.3,261.95 61.8,260.42 62.3,254.11 62.8,253.57 63.3,254.71 63.8,259.54 64.3,256.85 64.8,252.64 65.3,260.08 65.8,257.18 66.3,255.89 66.8,254.66 67.3,258.84 67.8,257.97 68.3,248.75 68.8,259.77 69.3,251.71 69.8,255.20 70.3,249.93 70.8,255.88 71.3,257.93 71.8,251.22 72.3,256.64 72.8,256.95 73.3,254.47 73.8,259.62 74.3,257.40 74.8,255.32 75.3,260.41 75.8,260.14 76.3,255.13 76.8,253.55 77.3,255.41 77.8,256.02 78.3,260.33 78.8,253.19 79.3,250.98 79.8,252.74 80.3,257.27 80.8,260.44 81.3,258.19 81.8,252.61 82.3,255.87 82.8,260.52 83.3,252.68 83.8,256.54 84.3,255.30 84.8,260.90 85.3,257.30 85.8,255.27 86.3,260.82 86.8,260.23 87.3,254.49 87.8,258.28 88.3,255.56 88.8,255.57 89.3,258.23 89.8,259.07 90.3,255.72 90.8,259.27 91.3,256.21 91.8,260.71 92.3,254.82 92.8,254.27 93.3,252.99 93.8,256.93 94.3,252.69 94.8,259.37 95.3,260.30 95.8,251.59 96.3,259.92 96.8,259.32 97.3,258.98 97.8,260.49 98.3,259.68 98.8,258.69 99.3,260.61 99.8,253.80 100.3,261.46 100.8,260.62 101.3,261.30 101.8,259.40 102.3,262.02 102.8,259.51 103.3,261.65 103.8,257.36 104.3,260.13 104.8,259.96 105.3,254.89 105.8,258.11 106.3,257.77 106.8,255.11 107.3,257.82 107.8,251.10 108.3,251.24 108.8,260.71 109.3,252.67 109.8,253.99 110.3,261.13 110.8,256.32 111.3,260.32 111.8,260.70 112.3,258.79 112.8,261.38 113.3,255.60 113.8,253.24 114.3,259.93 114.8,252.41 115.3,252.79 115.8,258.52 116.3,258.54 116.8,257.03 117.3,261.36 117.8,261.00 118.3,258.99 118.8,260.82 119.3,260.11 119.8,262.04 120.3,261.01 120.8,263.09 121.3,263.53 121.8,263.73 122.3,262.01 122.8,262.48 123.3,260.92 123.8,260.57 124.3,263.00 124.8,262.84 125.3,261.45 125.8,261.59 126.3,261.63 126.8,261.07 127.3,261.60 127.8,259.19 128.3,261.00 128.8,262.50 129.3,262.12 129.8,262.79 130.3,261.38 130.8,259.51 131.3,260.92 131.8,259.08 132.3,260.19 132.8,261.09 133.3,259.58 133.8,263.77 134.3,265.60 134.8,265.60 135.3,265.60 135.8,265.60 136.3,265.60 136.8,265.60 137.3,265.60 137.8,265.60 138.3,258.59 138.8,264.41 139.3,265.60 139.8,265.60 140.3,265.60 140.8,265.60 141.3,265.60 141.8,265.60 142.3,265.60 142.8,264.52 143.3,265.60 143.8,265.60 144.3,265.60 144.8,265.60 145.3,265.60 145.8,265.60 146.3,264.36 146.8,265.60 147.3,265.60 147.8,265.60 148.3,265.60 148.8,265.60 149.3,265.60 149.8,265.60 150.3,265.60 150.8,265.60 151.3,265.60 151.8,264.33 152.3,265.60 152.8,264.59 153.3,263.97 153.8,265.60 154.3,265.60 154.8,265.60 155.3,265.60 155.8,265.60 156.3,265.60 156.8,265.60 157.3,265.60 157.8,265.60 158.3,265.60 158.8,264.48 159.3,265.60 159.8,265.60 160.3,265.60 160.8,265.60 161.3,265.60 161.8,265.60 162.3,265.60 162.8,264.40 163.3,265.60 163.8,265.60 164.3,265.60 164.8,265.60 165.3,265.60 165.8,264.82 166.3,261.24 166.8,265.60 167.3,265.60 167.8,263.70 168.3,265.60 168.8,265.60 169.3,265.60 169.8,265.60 170.3,265.60 170.8,265.60 171.3,265.60 171.8,265.60 172.3,265.60 172.8,265.60 173.3,261.06 173.8,265.60 174.3,265.60 174.8,265.60 175.3,264.69 175.8,265.60 176.3,265.60 176.8,265.60 177.3,265.60 177.8,265.60 178.3,265.60 178.8,261.71 179.3,265.60 179.8,265.60 180.3,265.60 180.8,265.60 181.3,265.60 181.8,265.60 182.3,265.60 182.8,265.60 183.3,265.60 183.8,265.60 184.3,260.18 184.8,264.48 185.3,265.60 185.8,265.60 186.3,265.60 186.8,265.60 187.3,259.31 187.8,263.85 188.3,265.60 188.8,265.60 189.3,265.60 189.8,265.60 190.3,265.60 190.8,264.29 191.3,265.60 191.8,265.60 192.3,265.60 192.8,265.60 193.3,264.03 193.8,265.60 194.3,265.60 194.8,263.73 195.3,265.60 195.8,265.60 196.3,265.60 196.8,265.60 197.3,265.60 197.8,265.60 198.3,265.60 198.8,265.60 199.3,262.56 199.8,265.60 200.3,257.70 200.8,259.16 201.3,259.99 201.8,255.33 202.3,253.39 202.8,260.61 203.3,254.42 203.8,259.80 204.3,259.39 204.8,256.43 205.3,255.92 205.8,259.80 206.3,259.10 206.8,259.86 207.3,262.45 207.8,259.93 208.3,259.19 208.8,261.42 209.3,259.85 209.8,261.08 210.3,257.50 210.8,260.78 211.3,260.20 211.8,262.21 212.3,258.89 212.8,260.66 213.3,262.10 213.8,260.10 214.3,261.76 214.8,261.06 215.3,261.34 215.8,259.90 216.3,259.42 216.8,257.24 217.3,259.65 217.8,256.32 218.3,256.85 218.8,261.99 219.3,260.73 219.8,261.85 220.3,256.38 220.8,262.03 221.3,261.48 221.8,259.49 222.3,262.24 222.8,257.09 223.3,262.08 223.8,262.76 224.3,262.82 224.8,261.96 225.3,261.74 225.8,261.20 226.3,263.15 226.8,263.03 227.3,262.58 227.8,263.12 228.3,263.00 228.8,262.11 229.3,261.93 229.8,259.63 230.3,257.81 230.8,257.70 231.3,259.54 231.8,262.82 232.3,262.40 232.8,265.37 233.3,265.37 233.8,265.34 234.3,265.18 234.8,265.02 235.3,264.89 235.8,264.84 236.3,265.22 236.8,264.84 237.3,265.01 237.8,264.92 238.3,264.90 238.8,265.19 239.3,264.66 239.8,265.13 240.3,265.25 240.8,265.05 241.3,265.00 241.8,264.99 242.3,264.99 242.8,264.69 243.3,265.09 243.8,264.98 244.3,265.04 244.8,265.19 245.3,265.21 245.8,265.09 246.3,265.38 246.8,265.20 247.3,265.36 247.8,265.26 248.3,265.10 248.8,265.35 249.3,265.19 249.8,265.35 250.3,265.40 250.8,265.41 251.3,265.15 251.8,265.08 252.3,265.17 252.8,265.33 253.3,265.04 253.8,265.27 254.3,265.25 254.8,265.03 255.3,265.37 255.8,265.06 256.3,265.23 256.8,265.01 257.3,265.26 257.8,265.31 258.3,265.11 258.8,265.10 259.3,265.23 259.8,265.24 260.3,264.88 260.8,265.31 260.8,265.60" fill="#000"/>
<path d="M136.4 239.8V265.6" stroke="#2255cc" stroke-width="0.9"/>
<path d="M45.0 265.10H261.0" stroke="#f3e98a" stroke-width="0.8" opacity="0.7"/>
<rect x="232.8" y="239.8" width="28" height="26.6" fill="#4f4f49"/>
<path d="M44.6 66V265.5" stroke="#9a9a90" stroke-width="0.9"/>
<path d="M261.2 66.0V92.5" stroke="#a8a89c" stroke-width="0.7"/>
<path d="M261.2 94.8V120.8" stroke="#a8a89c" stroke-width="0.7"/>
<path d="M261.2 124.6V149.8" stroke="#a8a89c" stroke-width="0.7"/>
<path d="M261.2 153.3V178.0" stroke="#a8a89c" stroke-width="0.7"/>
<path d="M261.2 181.5V206.8" stroke="#a8a89c" stroke-width="0.7"/>
<path d="M261.2 211.0V235.8" stroke="#a8a89c" stroke-width="0.7"/>
<path d="M261.2 239.8V265.6" stroke="#a8a89c" stroke-width="0.7"/>
<rect x="46" y="54" width="215" height="5.4" fill="#b4b4b4"/>
<rect x="46" y="55.5" width="69.8" height="3" fill="#f5f1a2"/>
<rect x="205" y="55.5" width="56" height="3" fill="#f5f1a2"/>
<rect x="116" y="56.0" width="89" height="2.4" fill="#ededed"/>
<path d="M117.5 55.2A1.9 1.9 0 1 0 117.5 58.8" fill="none" stroke="#122a55" stroke-width="1.3"/>
<circle cx="116.2" cy="57" r="1.1" fill="#3ab0c8"/>
<circle cx="205.6" cy="57.1" r="1.9" fill="#ece000" stroke="#222" stroke-width="0.9"/>
<path d="M260.6 54.3V59.2" stroke="#555" stroke-width="0.9"/>
<path d="M46.0 59.3V60.3 M55.0 59.3V60.3 M63.9 59.3V60.3 M72.9 59.3V60.3 M81.8 59.3V60.3 M90.8 59.3V60.3 M99.8 59.3V60.3 M108.7 59.3V60.3 M117.7 59.3V60.3 M126.6 59.3V60.3 M135.6 59.3V60.3 M144.6 59.3V60.3 M153.5 59.3V60.3 M162.5 59.3V60.3 M171.4 59.3V60.3 M180.4 59.3V60.3 M189.4 59.3V60.3 M198.3 59.3V60.3 M207.3 59.3V60.3 M216.2 59.3V60.3 M225.2 59.3V60.3 M234.2 59.3V60.3 M243.1 59.3V60.3 M252.1 59.3V60.3 M261.0 59.3V60.3" stroke="#444" stroke-width="0.5"/>
<path d="M129.5 65.2H132.5L131 67Z" fill="#2040d0"/>
<ellipse cx="50.5" cy="153.3" rx="1.4" ry="0.8" fill="#2040e0"/>
<ellipse cx="62.8" cy="181.6" rx="1.4" ry="0.8" fill="#2040e0"/>
<text x="46.5" y="64.5" style="font-family:'Liberation Sans',Arial,sans-serif;font-size:4.6px;font-weight:bold;fill:#111">2:00</text>
<text x="105" y="64.5" style="font-family:'Liberation Sans','Noto Sans CJK SC',sans-serif;font-size:4.6px;font-weight:bold;fill:#111">下午 06:00</text>
<text x="141.5" y="64.5" style="font-family:'Liberation Sans','Noto Sans CJK SC',sans-serif;font-size:4.6px;font-weight:bold;fill:#111">上午 12:00</text>
<text x="196" y="64.5" style="font-family:'Liberation Sans','Noto Sans CJK SC',sans-serif;font-size:4.6px;font-weight:bold;fill:#111">上午 06:00</text>
<text x="248" y="64.5" style="font-family:'Liberation Sans','Noto Sans CJK SC',sans-serif;font-size:4.6px;font-weight:bold;fill:#111">下午 12:0</text>
<text x="2.5" y="16.3" style="font-family:'Liberation Serif','Times New Roman',serif;font-weight:bold;font-size:14.5px;fill:#111">A</text>
<text x="74.5" y="17.8" text-anchor="middle" style="font-family:'Liberation Serif','Times New Roman',serif;font-size:10.9px;fill:#151515;stroke:#151515;stroke-width:0.22px">Motion</text>
<text x="75.5" y="30.5" text-anchor="middle" style="font-family:'Liberation Serif','Times New Roman',serif;font-size:10.9px;fill:#151515;stroke:#151515;stroke-width:0.22px">detection (black)</text>
<text x="159.2" y="19.6" text-anchor="middle" style="font-family:'Liberation Serif','Times New Roman',serif;font-size:10.9px;fill:#151515;stroke:#151515;stroke-width:0.22px">Sleep time</text>
<text x="159.4" y="33" text-anchor="middle" style="font-family:'Liberation Serif','Times New Roman',serif;font-size:10.9px;fill:#151515;stroke:#151515;stroke-width:0.22px">interval (blue)</text>
<text x="233.7" y="21.3" text-anchor="middle" style="font-family:'Liberation Serif','Times New Roman',serif;font-size:10.9px;fill:#151515;stroke:#151515;stroke-width:0.22px">Light detection</text>
<text x="233.7" y="34.5" text-anchor="middle" style="font-family:'Liberation Serif','Times New Roman',serif;font-size:10.9px;fill:#151515;stroke:#151515;stroke-width:0.22px">(yellow)</text>
<text x="27" y="54.5" text-anchor="middle" style="font-family:'Liberation Serif','Times New Roman',serif;font-weight:bold;font-size:6.9px;fill:#1a1a2a;stroke:#1a1a2a;stroke-width:0.18px">Time</text>
<text x="26.6" y="62.3" text-anchor="middle" style="font-family:'Liberation Serif','Times New Roman',serif;font-weight:bold;font-size:6.9px;fill:#1a1a2a;stroke:#1a1a2a;stroke-width:0.18px">(PM)</text>
<text x="23.5" y="82.8" text-anchor="middle" style="font-family:'Liberation Serif','Times New Roman',serif;font-weight:bold;font-size:6.4px;fill:#1a1a2a;stroke:#1a1a2a;stroke-width:0.18px">Wednesday</text>
<text x="23.7" y="90.4" text-anchor="middle" style="font-family:'Liberation Serif','Times New Roman',serif;font-weight:bold;font-size:6.4px;fill:#1a1a2a;stroke:#1a1a2a;stroke-width:0.18px">Day 1</text>
<text x="25.8" y="112" text-anchor="middle" style="font-family:'Liberation Serif','Times New Roman',serif;font-weight:bold;font-size:6.4px;fill:#1a1a2a;stroke:#1a1a2a;stroke-width:0.18px">Thursday</text>
<text x="26.0" y="119.4" text-anchor="middle" style="font-family:'Liberation Serif','Times New Roman',serif;font-weight:bold;font-size:6.4px;fill:#1a1a2a;stroke:#1a1a2a;stroke-width:0.18px">Day 2</text>
<text x="25.8" y="140.8" text-anchor="middle" style="font-family:'Liberation Serif','Times New Roman',serif;font-weight:bold;font-size:6.4px;fill:#1a1a2a;stroke:#1a1a2a;stroke-width:0.18px">Friday</text>
<text x="26.0" y="148" text-anchor="middle" style="font-family:'Liberation Serif','Times New Roman',serif;font-weight:bold;font-size:6.4px;fill:#1a1a2a;stroke:#1a1a2a;stroke-width:0.18px">Day 3</text>
<text x="25.8" y="170" text-anchor="middle" style="font-family:'Liberation Serif','Times New Roman',serif;font-weight:bold;font-size:6.4px;fill:#1a1a2a;stroke:#1a1a2a;stroke-width:0.18px">Saturday</text>
<text x="26.0" y="177.4" text-anchor="middle" style="font-family:'Liberation Serif','Times New Roman',serif;font-weight:bold;font-size:6.4px;fill:#1a1a2a;stroke:#1a1a2a;stroke-width:0.18px">Day 4</text>
<text x="25.6" y="198.4" text-anchor="middle" style="font-family:'Liberation Serif','Times New Roman',serif;font-weight:bold;font-size:6.4px;fill:#1a1a2a;stroke:#1a1a2a;stroke-width:0.18px">Sunday</text>
<text x="25.8" y="205.8" text-anchor="middle" style="font-family:'Liberation Serif','Times New Roman',serif;font-weight:bold;font-size:6.4px;fill:#1a1a2a;stroke:#1a1a2a;stroke-width:0.18px">Day 5</text>
<text x="25.6" y="226.8" text-anchor="middle" style="font-family:'Liberation Serif','Times New Roman',serif;font-weight:bold;font-size:6.4px;fill:#1a1a2a;stroke:#1a1a2a;stroke-width:0.18px">Monday</text>
<text x="25.8" y="234" text-anchor="middle" style="font-family:'Liberation Serif','Times New Roman',serif;font-weight:bold;font-size:6.4px;fill:#1a1a2a;stroke:#1a1a2a;stroke-width:0.18px">Day 6</text>
<text x="25.6" y="256.4" text-anchor="middle" style="font-family:'Liberation Serif','Times New Roman',serif;font-weight:bold;font-size:6.4px;fill:#1a1a2a;stroke:#1a1a2a;stroke-width:0.18px">Tuesday</text>
<text x="25.8" y="263.6" text-anchor="middle" style="font-family:'Liberation Serif','Times New Roman',serif;font-weight:bold;font-size:6.4px;fill:#1a1a2a;stroke:#1a1a2a;stroke-width:0.18px">Day 7</text>
<text x="49.4" y="275.4" text-anchor="middle" style="font-family:'Liberation Serif','Times New Roman',serif;font-weight:bold;font-size:6.25px;fill:#1a1a2a;stroke:#1a1a2a;stroke-width:0.15px">PM 12:00</text>
<text x="99" y="275.4" text-anchor="middle" style="font-family:'Liberation Serif','Times New Roman',serif;font-weight:bold;font-size:6.25px;fill:#1a1a2a;stroke:#1a1a2a;stroke-width:0.15px">PM 06:00</text>
<text x="153.6" y="275.4" text-anchor="middle" style="font-family:'Liberation Serif','Times New Roman',serif;font-weight:bold;font-size:6.25px;fill:#1a1a2a;stroke:#1a1a2a;stroke-width:0.15px">AM 12:00</text>
<text x="206.4" y="275.4" text-anchor="middle" style="font-family:'Liberation Serif','Times New Roman',serif;font-weight:bold;font-size:6.25px;fill:#1a1a2a;stroke:#1a1a2a;stroke-width:0.15px">AM 06:00</text>
<text x="259.5" y="275.4" text-anchor="middle" style="font-family:'Liberation Serif','Times New Roman',serif;font-weight:bold;font-size:6.25px;fill:#1a1a2a;stroke:#1a1a2a;stroke-width:0.15px">PM 12:00</text>
<line x1="79.8" y1="37" x2="100.39" y2="81.14" stroke="#ee1111" stroke-width="2.6"/>
<polygon points="104.2,89.3 96.50,82.96 104.29,79.33" fill="#ee1111"/>
<line x1="159" y1="40.5" x2="172.44" y2="71.73" stroke="#ee1111" stroke-width="2.6"/>
<polygon points="176,80 168.49,73.43 176.39,70.03" fill="#ee1111"/>
<line x1="233.7" y1="41.2" x2="227.44" y2="71.19" stroke="#ee1111" stroke-width="2.6"/>
<polygon points="225.6,80 223.23,70.31 231.65,72.07" fill="#ee1111"/>
<text x="278" y="16.5" style="font-family:'Liberation Serif','Times New Roman',serif;font-weight:bold;font-size:14px;fill:#111">B</text>
<path d="M302.0 51.00H451.9" stroke="#c8c830" stroke-width="0.8"/>
<path d="M325.5 51.5V44.48H328.4V51.5ZM329.3 51.5V44.66H331.3V51.5ZM331.3 51.5V46.45H334.0V51.5ZM334.0 51.5V44.65H337.3V51.5ZM339.3 51.5V44.18H342.6V51.5ZM343.9 51.5V46.55H347.9V51.5ZM348.3 51.5V44.31H351.3V51.5ZM351.3 51.5V44.08H354.4V51.5ZM354.4 51.5V44.05H358.4V51.5ZM358.4 51.5V44.66H360.0V51.5ZM407.0 51.5V44.10H410.7V51.5ZM410.7 51.5V44.19H412.7V51.5ZM412.7 51.5V43.77H414.3V51.5ZM414.3 51.5V44.74H416.9V51.5ZM416.9 51.5V44.33H419.1V51.5ZM419.6 51.5V44.53H422.3V51.5ZM422.3 51.5V44.13H425.2V51.5ZM425.2 51.5V44.00H426.5V51.5ZM426.5 51.5V43.95H429.0V51.5ZM430.3 51.5V43.60H432.1V51.5ZM432.1 51.5V44.79H433.0V51.5ZM433.0 51.5V44.48H435.9V51.5ZM436.5 51.5V44.68H440.4V51.5ZM440.4 51.5V44.47H443.8V51.5ZM445.2 51.5V44.79H446.9V51.5ZM447.5 51.5V44.76H449.9V51.5ZM449.9 51.5V44.60H451.9V51.5ZM302.0 51.5V48.34H304.5V51.5Z" fill="#ffff00"/>
<polygon points="302.3,51.50 302.3,51.11 302.8,51.18 303.3,51.04 303.8,50.97 304.3,51.19 304.8,51.16 305.3,51.07 305.8,50.89 306.3,51.02 306.8,51.19 307.3,51.02 307.8,51.10 308.3,51.18 308.8,51.13 309.3,51.18 309.8,51.01 310.3,51.01 310.8,51.12 311.3,51.17 311.8,51.18 312.3,51.16 312.8,51.19 313.3,51.21 313.8,51.08 314.3,51.16 314.8,51.06 315.3,51.09 315.8,51.09 316.3,51.02 316.8,51.20 317.3,51.14 317.8,51.10 318.3,51.16 318.8,51.13 319.3,51.17 319.8,50.71 320.3,50.94 320.8,51.18 321.3,50.90 321.8,51.10 322.3,50.92 322.8,50.99 323.3,51.10 323.8,49.22 324.3,51.09 324.8,51.16 325.3,51.04 325.8,50.23 326.3,51.23 326.8,50.37 327.3,50.79 327.8,50.20 328.3,51.17 328.8,51.20 329.3,50.82 329.8,50.96 330.3,47.28 330.8,50.32 331.3,50.68 331.8,50.93 332.3,48.44 332.8,50.98 333.3,50.49 333.8,49.23 334.3,49.28 334.8,50.75 335.3,46.87 335.8,50.18 336.3,49.96 336.8,50.98 337.3,51.10 337.8,51.19 338.3,49.93 338.8,50.31 339.3,49.11 339.8,50.23 340.3,50.79 340.8,50.57 341.3,50.62 341.8,51.07 342.3,46.94 342.8,51.00 343.3,50.09 343.8,50.84 344.3,50.87 344.8,50.10 345.3,47.76 345.8,50.40 346.3,51.11 346.8,50.73 347.3,50.19 347.8,51.20 348.3,51.01 348.8,50.82 349.3,50.89 349.8,51.22 350.3,47.55 350.8,51.20 351.3,51.09 351.8,50.59 352.3,51.14 352.8,50.94 353.3,50.96 353.8,50.68 354.3,50.28 354.8,50.95 355.3,51.17 355.8,47.48 356.3,51.20 356.8,51.00 357.3,50.38 357.8,51.21 358.3,51.14 358.8,50.48 359.3,50.66 359.8,49.88 360.3,50.98 360.8,51.03 361.3,49.88 361.8,51.18 362.3,51.20 362.8,51.16 363.3,51.19 363.8,51.21 364.3,51.19 364.8,51.08 365.3,51.14 365.8,50.93 366.3,51.11 366.8,51.10 367.3,50.97 367.8,51.06 368.3,51.08 368.8,50.97 369.3,51.19 369.8,49.74 370.3,51.00 370.8,51.15 371.3,51.21 371.8,50.86 372.3,50.95 372.8,49.25 373.3,50.87 373.8,51.16 374.3,51.09 374.8,51.14 375.3,49.70 375.8,51.12 376.3,49.13 376.8,50.89 377.3,50.90 377.8,51.22 378.3,51.03 378.8,51.17 379.3,51.20 379.8,51.13 380.3,51.22 380.8,51.17 381.3,51.06 381.8,51.14 382.3,51.19 382.8,51.17 383.3,50.86 383.8,51.22 384.3,50.95 384.8,51.00 385.3,51.21 385.8,51.13 386.3,51.11 386.8,51.12 387.3,51.07 387.8,51.12 388.3,50.86 388.8,51.12 389.3,50.97 389.8,51.20 390.3,51.13 390.8,51.15 391.3,51.04 391.8,51.14 392.3,51.02 392.8,51.20 393.3,51.02 393.8,50.85 394.3,51.19 394.8,50.90 395.3,50.83 395.8,51.13 396.3,51.22 396.8,51.16 397.3,51.13 397.8,51.21 398.3,51.20 398.8,51.14 399.3,51.07 399.8,51.00 400.3,51.06 400.8,49.56 401.3,50.28 401.8,51.02 402.3,50.86 402.8,51.19 403.3,51.18 403.8,51.07 404.3,51.19 404.8,51.08 405.3,51.19 405.8,51.06 406.3,51.20 406.8,50.94 407.3,50.73 407.8,50.21 408.3,50.59 408.8,50.92 409.3,47.95 409.8,51.02 410.3,49.64 410.8,50.29 411.3,51.16 411.8,49.87 412.3,50.20 412.8,49.92 413.3,51.18 413.8,50.99 414.3,51.13 414.8,50.11 415.3,51.21 415.8,50.78 416.3,50.34 416.8,50.71 417.3,50.86 417.8,50.95 418.3,50.97 418.8,50.24 419.3,51.12 419.8,49.73 420.3,46.97 420.8,50.54 421.3,51.01 421.8,49.32 422.3,50.57 422.8,51.19 423.3,50.31 423.8,50.48 424.3,50.50 424.8,51.14 425.3,50.98 425.8,50.51 426.3,50.96 426.8,50.54 427.3,50.77 427.8,50.47 428.3,50.14 428.8,50.90 429.3,51.14 429.8,50.72 430.3,50.79 430.8,50.71 431.3,50.96 431.8,51.22 432.3,49.74 432.8,50.92 433.3,50.83 433.8,51.08 434.3,49.64 434.8,50.76 435.3,50.80 435.8,51.10 436.3,50.95 436.8,50.90 437.3,50.13 437.8,50.61 438.3,50.94 438.8,50.90 439.3,50.71 439.8,51.05 440.3,49.02 440.8,50.92 441.3,50.25 441.8,50.77 442.3,50.70 442.8,51.13 443.3,50.07 443.8,50.22 444.3,50.38 444.8,51.01 445.3,51.23 445.8,50.88 446.3,51.01 446.8,50.81 447.3,49.55 447.8,51.16 448.3,51.15 448.8,50.67 449.3,50.79 449.8,50.86 450.3,50.98 450.8,50.97 451.3,51.00 451.8,51.17 451.8,51.50" fill="#000"/>
<path d="M302.0 51.70H305.8M325.0 51.70H360.6M406.8 51.70H451.9" stroke="#3030f0" stroke-width="0.75"/>
<path d="M305.8 51.9V40.5H325.0V51.9" fill="none" stroke="#6262ff" stroke-width="1.2"/>
<path d="M360.6 51.9V40.6H406.8V51.9" fill="none" stroke="#6262ff" stroke-width="1.2"/>
<path d="M301.7 38.0V51.5M300.8 38.0H301.7M300.8 44.75H301.7" stroke="#666" stroke-width="0.5" fill="none"/>
<text x="300.2" y="39.7" text-anchor="end" style="font-family:'Liberation Sans',Arial,sans-serif;font-size:4.7px;fill:#1a1a1a">2000</text>
<text x="300.2" y="46.5" text-anchor="end" style="font-family:'Liberation Sans',Arial,sans-serif;font-size:4.7px;fill:#1a1a1a">1000</text>
<text x="300.2" y="53.9" text-anchor="end" style="font-family:'Liberation Sans',Arial,sans-serif;font-size:4.7px;fill:#1a1a1a">0</text>
<text x="302.0" y="59.0" text-anchor="middle" style="font-family:'Liberation Sans',Arial,sans-serif;font-size:4.7px;fill:#1a1a1a">12:00</text>
<text x="320.7" y="59.0" text-anchor="middle" style="font-family:'Liberation Sans',Arial,sans-serif;font-size:4.7px;fill:#1a1a1a">15:00</text>
<text x="339.5" y="59.0" text-anchor="middle" style="font-family:'Liberation Sans',Arial,sans-serif;font-size:4.7px;fill:#1a1a1a">18:00</text>
<text x="358.2" y="59.0" text-anchor="middle" style="font-family:'Liberation Sans',Arial,sans-serif;font-size:4.7px;fill:#1a1a1a">21:00</text>
<text x="376.9" y="59.0" text-anchor="middle" style="font-family:'Liberation Sans',Arial,sans-serif;font-size:4.7px;fill:#1a1a1a">00:00</text>
<text x="395.7" y="59.0" text-anchor="middle" style="font-family:'Liberation Sans',Arial,sans-serif;font-size:4.7px;fill:#1a1a1a">03:00</text>
<text x="414.4" y="59.0" text-anchor="middle" style="font-family:'Liberation Sans',Arial,sans-serif;font-size:4.7px;fill:#1a1a1a">06:00</text>
<text x="433.2" y="59.0" text-anchor="middle" style="font-family:'Liberation Sans',Arial,sans-serif;font-size:4.7px;fill:#1a1a1a">09:00</text>
<text x="451.9" y="59.0" text-anchor="middle" style="font-family:'Liberation Sans',Arial,sans-serif;font-size:4.7px;fill:#1a1a1a">12:00</text>
<text x="376.9" y="65.8" text-anchor="middle" style="font-family:'Liberation Sans',Arial,sans-serif;font-size:4.7px;fill:#1a1a1a;font-weight:bold;font-size:5.0px">Time</text>
<path d="M302.0 85.80H451.9" stroke="#c8c830" stroke-width="0.8"/>
<path d="M302.0 86.3V79.38H305.1V86.3ZM305.1 86.3V78.46H307.3V86.3ZM307.7 86.3V79.15H308.7V86.3ZM308.7 86.3V79.52H311.7V86.3ZM311.7 86.3V80.80H314.8V86.3ZM314.8 86.3V79.10H317.8V86.3ZM317.8 86.3V79.44H321.7V86.3ZM321.7 86.3V79.24H323.6V86.3ZM323.6 86.3V79.82H324.5V86.3ZM324.5 86.3V79.47H328.1V86.3ZM328.8 86.3V81.72H332.3V86.3ZM332.3 86.3V79.58H333.6V86.3ZM333.6 86.3V81.07H336.9V86.3ZM336.9 86.3V79.00H340.4V86.3ZM340.4 86.3V79.51H343.5V86.3ZM344.6 86.3V79.30H347.5V86.3ZM347.5 86.3V79.52H350.6V86.3ZM350.6 86.3V79.65H353.8V86.3ZM354.6 86.3V79.54H357.5V86.3ZM357.5 86.3V79.77H358.9V86.3ZM358.9 86.3V78.98H359.8V86.3ZM359.8 86.3V78.99H361.0V86.3ZM419.3 86.3V79.50H421.4V86.3ZM421.4 86.3V79.83H425.1V86.3ZM428.0 86.3V79.86H431.3V86.3ZM431.3 86.3V79.30H432.2V86.3ZM432.2 86.3V79.62H434.2V86.3ZM434.2 86.3V79.34H436.8V86.3ZM436.8 86.3V78.89H439.5V86.3ZM439.5 86.3V79.43H441.9V86.3ZM441.9 86.3V80.42H443.4V86.3ZM443.4 86.3V79.47H445.4V86.3ZM445.8 86.3V79.06H448.7V86.3ZM448.7 86.3V79.01H450.2V86.3ZM451.1 86.3V78.89H451.9V86.3Z" fill="#ffff00"/>
<polygon points="302.3,86.30 302.3,85.70 302.8,84.85 303.3,85.39 303.8,85.13 304.3,84.79 304.8,85.30 305.3,85.98 305.8,85.41 306.3,85.41 306.8,85.46 307.3,85.17 307.8,85.04 308.3,84.86 308.8,85.54 309.3,83.93 309.8,85.41 310.3,85.57 310.8,84.97 311.3,84.14 311.8,85.57 312.3,85.58 312.8,85.54 313.3,85.65 313.8,85.66 314.3,82.30 314.8,85.47 315.3,84.75 315.8,85.71 316.3,85.65 316.8,85.13 317.3,84.37 317.8,86.01 318.3,84.78 318.8,85.47 319.3,84.48 319.8,85.59 320.3,85.98 320.8,85.81 321.3,85.60 321.8,85.97 322.3,85.64 322.8,85.62 323.3,85.35 323.8,85.64 324.3,85.03 324.8,85.38 325.3,86.00 325.8,85.68 326.3,85.08 326.8,85.79 327.3,85.64 327.8,85.88 328.3,85.72 328.8,82.59 329.3,85.34 329.8,85.00 330.3,85.23 330.8,85.98 331.3,85.50 331.8,85.88 332.3,85.84 332.8,86.03 333.3,85.31 333.8,85.55 334.3,85.77 334.8,84.99 335.3,85.85 335.8,85.70 336.3,85.50 336.8,85.27 337.3,84.38 337.8,85.83 338.3,85.83 338.8,85.95 339.3,82.42 339.8,85.45 340.3,85.31 340.8,85.87 341.3,85.57 341.8,84.84 342.3,85.31 342.8,85.45 343.3,85.12 343.8,84.77 344.3,85.95 344.8,85.56 345.3,85.18 345.8,85.30 346.3,85.47 346.8,85.20 347.3,85.98 347.8,85.10 348.3,85.56 348.8,85.78 349.3,85.65 349.8,84.79 350.3,86.02 350.8,84.68 351.3,84.62 351.8,85.68 352.3,82.47 352.8,85.49 353.3,84.83 353.8,85.62 354.3,85.88 354.8,85.07 355.3,84.96 355.8,84.62 356.3,85.23 356.8,82.18 357.3,85.69 357.8,85.78 358.3,85.98 358.8,84.78 359.3,85.77 359.8,85.81 360.3,85.23 360.8,85.64 361.3,85.45 361.8,85.93 362.3,85.78 362.8,85.83 363.3,86.02 363.8,86.01 364.3,85.91 364.8,85.98 365.3,85.95 365.8,86.01 366.3,85.81 366.8,85.88 367.3,85.87 367.8,85.76 368.3,85.98 368.8,85.92 369.3,85.68 369.8,85.88 370.3,85.90 370.8,86.03 371.3,85.53 371.8,85.82 372.3,85.97 372.8,85.96 373.3,85.85 373.8,85.35 374.3,85.90 374.8,85.33 375.3,85.92 375.8,85.89 376.3,85.94 376.8,85.71 377.3,85.79 377.8,85.86 378.3,85.85 378.8,85.71 379.3,85.71 379.8,85.89 380.3,85.92 380.8,85.69 381.3,85.92 381.8,85.63 382.3,85.58 382.8,85.78 383.3,85.94 383.8,85.97 384.3,85.77 384.8,85.87 385.3,85.99 385.8,85.88 386.3,85.91 386.8,85.99 387.3,85.80 387.8,85.92 388.3,85.77 388.8,85.86 389.3,85.96 389.8,85.94 390.3,85.80 390.8,86.03 391.3,85.90 391.8,85.91 392.3,86.01 392.8,85.67 393.3,85.92 393.8,85.68 394.3,86.01 394.8,85.94 395.3,85.89 395.8,85.96 396.3,85.79 396.8,85.90 397.3,85.83 397.8,85.96 398.3,86.00 398.8,85.97 399.3,86.03 399.8,85.94 400.3,86.00 400.8,85.89 401.3,85.81 401.8,85.64 402.3,85.72 402.8,85.78 403.3,85.86 403.8,85.99 404.3,85.66 404.8,85.87 405.3,85.69 405.8,85.72 406.3,85.99 406.8,85.75 407.3,85.85 407.8,85.98 408.3,85.80 408.8,85.80 409.3,86.02 409.8,85.97 410.3,85.99 410.8,85.80 411.3,85.95 411.8,85.87 412.3,85.76 412.8,85.54 413.3,85.54 413.8,85.77 414.3,85.95 414.8,85.99 415.3,85.51 415.8,85.99 416.3,85.99 416.8,85.85 417.3,86.00 417.8,86.02 418.3,85.69 418.8,85.94 419.3,81.64 419.8,85.82 420.3,85.71 420.8,85.28 421.3,85.72 421.8,85.77 422.3,85.20 422.8,85.63 423.3,85.26 423.8,85.68 424.3,85.55 424.8,85.79 425.3,85.66 425.8,85.12 426.3,85.78 426.8,84.68 427.3,85.33 427.8,85.63 428.3,85.60 428.8,85.64 429.3,85.78 429.8,85.59 430.3,86.03 430.8,85.70 431.3,85.45 431.8,85.42 432.3,85.43 432.8,86.02 433.3,85.11 433.8,85.32 434.3,85.26 434.8,85.68 435.3,85.96 435.8,85.61 436.3,85.67 436.8,85.13 437.3,85.74 437.8,84.77 438.3,84.99 438.8,85.17 439.3,82.84 439.8,85.39 440.3,85.67 440.8,85.88 441.3,85.47 441.8,85.75 442.3,85.39 442.8,85.01 443.3,84.63 443.8,85.20 444.3,85.73 444.8,85.46 445.3,84.40 445.8,85.72 446.3,85.93 446.8,85.90 447.3,85.81 447.8,85.57 448.3,85.55 448.8,84.82 449.3,81.86 449.8,85.19 450.3,85.47 450.8,85.85 451.3,85.83 451.8,84.53 451.8,86.30" fill="#000"/>
<path d="M302.0 86.50H361.8M419.3 86.50H451.9" stroke="#3030f0" stroke-width="0.75"/>
<path d="M361.8 86.7V75.2H419.3V86.7" fill="none" stroke="#6262ff" stroke-width="1.2"/>
<path d="M301.7 73.0V86.3M300.8 73.0H301.7M300.8 79.65H301.7" stroke="#666" stroke-width="0.5" fill="none"/>
<text x="300.2" y="74.7" text-anchor="end" style="font-family:'Liberation Sans',Arial,sans-serif;font-size:4.7px;fill:#1a1a1a">2000</text>
<text x="300.2" y="81.4" text-anchor="end" style="font-family:'Liberation Sans',Arial,sans-serif;font-size:4.7px;fill:#1a1a1a">1000</text>
<text x="300.2" y="88.7" text-anchor="end" style="font-family:'Liberation Sans',Arial,sans-serif;font-size:4.7px;fill:#1a1a1a">0</text>
<text x="302.0" y="94.2" text-anchor="middle" style="font-family:'Liberation Sans',Arial,sans-serif;font-size:4.7px;fill:#1a1a1a">12:00</text>
<text x="320.7" y="94.2" text-anchor="middle" style="font-family:'Liberation Sans',Arial,sans-serif;font-size:4.7px;fill:#1a1a1a">15:00</text>
<text x="339.5" y="94.2" text-anchor="middle" style="font-family:'Liberation Sans',Arial,sans-serif;font-size:4.7px;fill:#1a1a1a">18:00</text>
<text x="358.2" y="94.2" text-anchor="middle" style="font-family:'Liberation Sans',Arial,sans-serif;font-size:4.7px;fill:#1a1a1a">21:00</text>
<text x="376.9" y="94.2" text-anchor="middle" style="font-family:'Liberation Sans',Arial,sans-serif;font-size:4.7px;fill:#1a1a1a">00:00</text>
<text x="395.7" y="94.2" text-anchor="middle" style="font-family:'Liberation Sans',Arial,sans-serif;font-size:4.7px;fill:#1a1a1a">03:00</text>
<text x="414.4" y="94.2" text-anchor="middle" style="font-family:'Liberation Sans',Arial,sans-serif;font-size:4.7px;fill:#1a1a1a">06:00</text>
<text x="433.2" y="94.2" text-anchor="middle" style="font-family:'Liberation Sans',Arial,sans-serif;font-size:4.7px;fill:#1a1a1a">09:00</text>
<text x="451.9" y="94.2" text-anchor="middle" style="font-family:'Liberation Sans',Arial,sans-serif;font-size:4.7px;fill:#1a1a1a">12:00</text>
<text x="376.9" y="101.0" text-anchor="middle" style="font-family:'Liberation Sans',Arial,sans-serif;font-size:4.7px;fill:#1a1a1a;font-weight:bold;font-size:5.0px">Time</text>
<path d="M302.0 120.50H451.9" stroke="#c8c830" stroke-width="0.8"/>
<path d="M302.0 121.0V114.06H303.4V121.0ZM303.4 121.0V113.87H305.7V121.0ZM308.0 121.0V113.77H311.4V121.0ZM311.4 121.0V113.98H314.8V121.0ZM314.8 121.0V113.56H316.7V121.0ZM316.7 121.0V114.02H317.6V121.0ZM317.6 121.0V113.90H319.6V121.0ZM319.6 121.0V113.66H322.0V121.0ZM322.0 121.0V113.64H325.8V121.0ZM326.4 121.0V113.98H328.1V121.0ZM328.1 121.0V113.94H331.7V121.0ZM331.7 121.0V113.44H334.0V121.0ZM334.0 121.0V113.44H337.6V121.0ZM337.6 121.0V114.36H340.4V121.0ZM340.4 121.0V113.75H343.8V121.0ZM343.8 121.0V113.92H347.3V121.0ZM347.3 121.0V113.55H348.0V121.0ZM369.5 121.0V113.10H371.3V121.0ZM418.3 121.0V114.35H419.3V121.0ZM419.3 121.0V114.11H423.1V121.0ZM423.1 121.0V113.44H425.4V121.0ZM425.4 121.0V114.13H428.6V121.0ZM428.6 121.0V113.09H430.0V121.0ZM430.6 121.0V113.81H434.3V121.0ZM437.5 121.0V113.96H440.2V121.0ZM440.2 121.0V113.50H441.9V121.0ZM441.9 121.0V113.95H445.8V121.0ZM447.1 121.0V114.42H450.8V121.0ZM450.8 121.0V113.03H451.9V121.0ZM383.0 121.0V116.05H386.0V121.0ZM420.0 121.0V118.17H426.4V121.0Z" fill="#ffff00"/>
<polygon points="302.3,121.00 302.3,119.51 302.8,119.69 303.3,118.86 303.8,120.40 304.3,118.56 304.8,116.44 305.3,120.07 305.8,120.01 306.3,120.41 306.8,120.56 307.3,120.58 307.8,120.48 308.3,120.37 308.8,118.66 309.3,120.47 309.8,120.32 310.3,120.38 310.8,116.15 311.3,119.57 311.8,120.53 312.3,120.40 312.8,120.44 313.3,120.36 313.8,120.63 314.3,120.02 314.8,119.63 315.3,116.33 315.8,120.63 316.3,120.52 316.8,116.98 317.3,120.64 317.8,120.34 318.3,119.68 318.8,120.49 319.3,120.65 319.8,120.17 320.3,120.69 320.8,120.21 321.3,120.68 321.8,118.03 322.3,119.63 322.8,119.58 323.3,120.18 323.8,120.59 324.3,120.23 324.8,120.61 325.3,119.97 325.8,120.59 326.3,120.68 326.8,120.60 327.3,120.16 327.8,120.61 328.3,119.35 328.8,119.33 329.3,120.51 329.8,120.41 330.3,119.57 330.8,119.55 331.3,120.30 331.8,120.21 332.3,119.93 332.8,119.50 333.3,120.59 333.8,119.53 334.3,118.17 334.8,120.37 335.3,119.92 335.8,120.64 336.3,118.36 336.8,120.24 337.3,120.04 337.8,120.21 338.3,120.52 338.8,119.95 339.3,119.97 339.8,119.07 340.3,120.51 340.8,120.59 341.3,119.85 341.8,119.66 342.3,120.57 342.8,120.13 343.3,120.67 343.8,117.50 344.3,119.20 344.8,119.88 345.3,119.81 345.8,120.53 346.3,120.44 346.8,120.65 347.3,119.86 347.8,119.62 348.3,120.65 348.8,120.40 349.3,120.61 349.8,120.68 350.3,120.29 350.8,120.69 351.3,120.45 351.8,120.63 352.3,120.41 352.8,120.52 353.3,120.70 353.8,120.56 354.3,120.61 354.8,120.69 355.3,120.69 355.8,120.65 356.3,120.65 356.8,120.43 357.3,120.49 357.8,120.56 358.3,120.68 358.8,120.68 359.3,120.70 359.8,120.67 360.3,120.64 360.8,120.67 361.3,120.45 361.8,120.57 362.3,120.28 362.8,120.63 363.3,120.53 363.8,120.72 364.3,120.65 364.8,120.49 365.3,120.59 365.8,120.68 366.3,120.56 366.8,120.46 367.3,120.63 367.8,120.71 368.3,120.23 368.8,120.70 369.3,120.43 369.8,119.12 370.3,120.16 370.8,118.94 371.3,120.67 371.8,120.43 372.3,120.64 372.8,120.59 373.3,120.53 373.8,120.66 374.3,120.41 374.8,120.70 375.3,120.47 375.8,120.59 376.3,120.71 376.8,120.58 377.3,119.55 377.8,120.63 378.3,120.71 378.8,120.38 379.3,120.45 379.8,119.12 380.3,120.42 380.8,120.65 381.3,120.70 381.8,120.70 382.3,120.68 382.8,120.66 383.3,120.55 383.8,118.74 384.3,120.34 384.8,120.25 385.3,120.67 385.8,120.69 386.3,120.54 386.8,120.71 387.3,120.71 387.8,120.69 388.3,120.52 388.8,120.62 389.3,120.32 389.8,120.63 390.3,120.57 390.8,120.49 391.3,120.67 391.8,120.58 392.3,120.62 392.8,120.35 393.3,120.56 393.8,120.59 394.3,120.51 394.8,120.37 395.3,120.53 395.8,120.63 396.3,120.72 396.8,120.65 397.3,120.71 397.8,120.47 398.3,120.64 398.8,120.65 399.3,120.56 399.8,120.56 400.3,120.30 400.8,120.53 401.3,120.66 401.8,120.58 402.3,120.66 402.8,120.59 403.3,120.36 403.8,120.67 404.3,120.59 404.8,120.49 405.3,120.41 405.8,119.41 406.3,120.58 406.8,120.40 407.3,120.40 407.8,120.45 408.3,120.73 408.8,120.72 409.3,120.60 409.8,120.41 410.3,120.62 410.8,120.67 411.3,120.63 411.8,120.39 412.3,120.35 412.8,120.41 413.3,120.64 413.8,120.43 414.3,120.67 414.8,120.65 415.3,120.33 415.8,120.56 416.3,120.55 416.8,120.44 417.3,120.65 417.8,120.72 418.3,120.09 418.8,120.26 419.3,120.04 419.8,119.84 420.3,120.10 420.8,120.65 421.3,119.92 421.8,118.13 422.3,120.17 422.8,120.62 423.3,120.51 423.8,120.19 424.3,119.92 424.8,120.09 425.3,120.25 425.8,117.63 426.3,120.20 426.8,119.44 427.3,120.28 427.8,117.46 428.3,120.64 428.8,119.97 429.3,120.72 429.8,120.14 430.3,119.80 430.8,119.20 431.3,120.29 431.8,120.46 432.3,119.53 432.8,119.69 433.3,119.32 433.8,120.38 434.3,120.42 434.8,120.14 435.3,120.61 435.8,118.92 436.3,120.63 436.8,120.61 437.3,120.08 437.8,120.33 438.3,118.90 438.8,119.67 439.3,116.22 439.8,120.65 440.3,120.50 440.8,116.95 441.3,120.02 441.8,120.50 442.3,120.08 442.8,120.60 443.3,120.25 443.8,118.79 444.3,120.71 444.8,120.16 445.3,120.52 445.8,119.79 446.3,118.07 446.8,120.33 447.3,120.66 447.8,120.38 448.3,119.51 448.8,119.30 449.3,119.11 449.8,120.60 450.3,120.19 450.8,120.29 451.3,120.37 451.8,119.86 451.8,121.00" fill="#000"/>
<path d="M302.0 121.20H371.3M426.4 121.20H451.9" stroke="#3030f0" stroke-width="0.75"/>
<path d="M371.3 121.4V110.2H426.4V121.4" fill="none" stroke="#6262ff" stroke-width="1.2"/>
<path d="M301.7 107.4V121.0M300.8 107.4H301.7M300.8 114.20H301.7" stroke="#666" stroke-width="0.5" fill="none"/>
<text x="300.2" y="109.1" text-anchor="end" style="font-family:'Liberation Sans',Arial,sans-serif;font-size:4.7px;fill:#1a1a1a">2000</text>
<text x="300.2" y="115.9" text-anchor="end" style="font-family:'Liberation Sans',Arial,sans-serif;font-size:4.7px;fill:#1a1a1a">1000</text>
<text x="300.2" y="123.4" text-anchor="end" style="font-family:'Liberation Sans',Arial,sans-serif;font-size:4.7px;fill:#1a1a1a">0</text>
<text x="302.0" y="129.0" text-anchor="middle" style="font-family:'Liberation Sans',Arial,sans-serif;font-size:4.7px;fill:#1a1a1a">12:00</text>
<text x="320.7" y="129.0" text-anchor="middle" style="font-family:'Liberation Sans',Arial,sans-serif;font-size:4.7px;fill:#1a1a1a">15:00</text>
<text x="339.5" y="129.0" text-anchor="middle" style="font-family:'Liberation Sans',Arial,sans-serif;font-size:4.7px;fill:#1a1a1a">18:00</text>
<text x="358.2" y="129.0" text-anchor="middle" style="font-family:'Liberation Sans',Arial,sans-serif;font-size:4.7px;fill:#1a1a1a">21:00</text>
<text x="376.9" y="129.0" text-anchor="middle" style="font-family:'Liberation Sans',Arial,sans-serif;font-size:4.7px;fill:#1a1a1a">00:00</text>
<text x="395.7" y="129.0" text-anchor="middle" style="font-family:'Liberation Sans',Arial,sans-serif;font-size:4.7px;fill:#1a1a1a">03:00</text>
<text x="414.4" y="129.0" text-anchor="middle" style="font-family:'Liberation Sans',Arial,sans-serif;font-size:4.7px;fill:#1a1a1a">06:00</text>
<text x="433.2" y="129.0" text-anchor="middle" style="font-family:'Liberation Sans',Arial,sans-serif;font-size:4.7px;fill:#1a1a1a">09:00</text>
<text x="451.9" y="129.0" text-anchor="middle" style="font-family:'Liberation Sans',Arial,sans-serif;font-size:4.7px;fill:#1a1a1a">12:00</text>
<text x="376.9" y="135.8" text-anchor="middle" style="font-family:'Liberation Sans',Arial,sans-serif;font-size:4.7px;fill:#1a1a1a;font-weight:bold;font-size:5.0px">Time</text>
<path d="M302.0 155.50H451.9" stroke="#c8c830" stroke-width="0.8"/>
<path d="M302.0 156.0V148.57H303.4V156.0ZM303.4 156.0V148.35H304.4V156.0ZM304.4 156.0V147.85H306.2V156.0ZM306.6 156.0V148.66H308.4V156.0ZM308.4 156.0V149.21H312.4V156.0ZM313.1 156.0V148.91H316.8V156.0ZM316.8 156.0V148.26H318.2V156.0ZM318.2 156.0V148.56H321.2V156.0ZM321.2 156.0V148.28H322.1V156.0ZM322.1 156.0V148.66H325.4V156.0ZM327.0 156.0V148.94H329.0V156.0ZM340.0 156.0V148.32H342.1V156.0ZM342.1 156.0V148.63H345.1V156.0ZM346.8 156.0V148.91H349.2V156.0ZM349.2 156.0V148.94H350.0V156.0ZM354.0 156.0V148.41H355.0V156.0ZM355.0 156.0V147.89H356.5V156.0ZM356.5 156.0V149.14H356.5V156.0ZM372.0 156.0V147.65H375.2V156.0ZM376.3 156.0V148.57H377.3V156.0ZM377.3 156.0V148.30H378.5V156.0ZM378.8 156.0V148.16H380.3V156.0ZM430.0 156.0V148.75H432.2V156.0ZM432.2 156.0V148.47H435.6V156.0ZM435.6 156.0V148.58H437.3V156.0ZM438.0 156.0V148.47H440.2V156.0ZM440.5 156.0V148.70H442.7V156.0ZM443.0 156.0V148.09H445.2V156.0ZM445.2 156.0V148.87H446.8V156.0ZM448.0 156.0V148.57H450.7V156.0ZM450.7 156.0V150.99H451.9V156.0ZM451.9 156.0V148.32H451.9V156.0ZM375.0 156.0V151.63H380.3V156.0ZM431.0 156.0V150.18H433.5V156.0ZM329.0 156.0V152.72H340.0V156.0Z" fill="#ffff00"/>
<polygon points="302.3,156.00 302.3,154.85 302.8,155.11 303.3,154.67 303.8,155.26 304.3,154.47 304.8,155.06 305.3,154.83 305.8,152.36 306.3,151.03 306.8,155.72 307.3,153.92 307.8,155.09 308.3,155.31 308.8,154.99 309.3,155.58 309.8,155.63 310.3,155.09 310.8,154.48 311.3,154.64 311.8,155.39 312.3,155.07 312.8,155.41 313.3,155.54 313.8,152.03 314.3,151.13 314.8,154.97 315.3,154.46 315.8,154.92 316.3,155.33 316.8,155.62 317.3,154.35 317.8,155.26 318.3,154.16 318.8,155.27 319.3,154.67 319.8,155.41 320.3,155.26 320.8,154.84 321.3,154.62 321.8,155.54 322.3,155.70 322.8,152.49 323.3,152.18 323.8,153.67 324.3,154.50 324.8,155.45 325.3,155.46 325.8,155.48 326.3,155.41 326.8,154.84 327.3,155.14 327.8,153.53 328.3,155.19 328.8,154.85 329.3,155.46 329.8,155.62 330.3,155.68 330.8,155.36 331.3,155.40 331.8,155.62 332.3,155.40 332.8,155.62 333.3,155.42 333.8,155.50 334.3,155.51 334.8,155.50 335.3,155.61 335.8,155.61 336.3,155.72 336.8,155.61 337.3,155.51 337.8,155.51 338.3,155.70 338.8,155.71 339.3,155.63 339.8,155.33 340.3,155.24 340.8,155.01 341.3,154.62 341.8,155.56 342.3,152.22 342.8,155.71 343.3,154.37 343.8,155.22 344.3,155.00 344.8,155.07 345.3,154.83 345.8,155.70 346.3,155.33 346.8,154.63 347.3,155.66 347.8,155.14 348.3,155.56 348.8,155.46 349.3,155.43 349.8,154.17 350.3,155.61 350.8,155.63 351.3,155.59 351.8,155.36 352.3,155.54 352.8,155.61 353.3,155.55 353.8,155.47 354.3,155.04 354.8,155.68 355.3,155.70 355.8,155.71 356.3,153.97 356.8,155.68 357.3,155.55 357.8,155.63 358.3,155.52 358.8,155.19 359.3,155.59 359.8,155.60 360.3,155.63 360.8,155.22 361.3,155.56 361.8,155.60 362.3,155.58 362.8,155.60 363.3,155.29 363.8,155.70 364.3,155.67 364.8,155.65 365.3,155.56 365.8,155.39 366.3,155.65 366.8,155.56 367.3,155.67 367.8,155.60 368.3,155.47 368.8,155.37 369.3,155.64 369.8,155.55 370.3,155.22 370.8,155.62 371.3,155.56 371.8,155.58 372.3,155.51 372.8,154.49 373.3,155.25 373.8,155.47 374.3,151.39 374.8,155.59 375.3,155.59 375.8,155.10 376.3,155.64 376.8,154.43 377.3,155.70 377.8,155.05 378.3,155.57 378.8,155.72 379.3,155.25 379.8,154.69 380.3,155.56 380.8,155.57 381.3,155.33 381.8,155.63 382.3,155.67 382.8,155.63 383.3,155.72 383.8,155.70 384.3,155.41 384.8,155.46 385.3,155.66 385.8,155.30 386.3,155.69 386.8,155.70 387.3,155.60 387.8,155.53 388.3,155.71 388.8,155.67 389.3,155.47 389.8,155.60 390.3,155.39 390.8,155.72 391.3,155.60 391.8,155.61 392.3,155.43 392.8,155.70 393.3,155.47 393.8,155.63 394.3,155.56 394.8,155.72 395.3,153.35 395.8,155.70 396.3,155.26 396.8,155.52 397.3,155.64 397.8,155.66 398.3,155.48 398.8,155.63 399.3,155.70 399.8,155.66 400.3,155.62 400.8,155.48 401.3,155.52 401.8,155.68 402.3,155.61 402.8,155.63 403.3,155.58 403.8,155.68 404.3,155.37 404.8,155.41 405.3,155.57 405.8,155.68 406.3,155.33 406.8,155.25 407.3,154.30 407.8,155.46 408.3,155.54 408.8,155.64 409.3,155.56 409.8,155.33 410.3,155.71 410.8,155.58 411.3,155.71 411.8,155.64 412.3,155.55 412.8,155.70 413.3,155.59 413.8,155.51 414.3,155.62 414.8,155.69 415.3,155.40 415.8,155.66 416.3,155.39 416.8,155.57 417.3,155.62 417.8,155.58 418.3,155.46 418.8,155.63 419.3,155.56 419.8,155.52 420.3,155.60 420.8,155.68 421.3,155.67 421.8,155.63 422.3,155.52 422.8,155.36 423.3,155.46 423.8,155.54 424.3,155.63 424.8,155.53 425.3,155.70 425.8,154.60 426.3,155.69 426.8,155.62 427.3,155.62 427.8,155.28 428.3,153.61 428.8,155.53 429.3,155.70 429.8,155.53 430.3,155.08 430.8,154.43 431.3,155.49 431.8,153.28 432.3,154.22 432.8,154.82 433.3,155.40 433.8,155.46 434.3,154.43 434.8,155.03 435.3,155.19 435.8,155.31 436.3,155.07 436.8,155.59 437.3,154.98 437.8,153.92 438.3,154.74 438.8,155.57 439.3,155.71 439.8,154.31 440.3,155.57 440.8,151.16 441.3,154.75 441.8,154.82 442.3,154.81 442.8,155.02 443.3,155.42 443.8,155.54 444.3,155.46 444.8,155.36 445.3,155.22 445.8,154.83 446.3,155.23 446.8,155.71 447.3,154.51 447.8,154.97 448.3,155.09 448.8,155.33 449.3,154.71 449.8,155.66 450.3,155.21 450.8,155.08 451.3,153.28 451.8,154.92 451.8,156.00" fill="#000"/>
<path d="M302.0 156.20H380.3M433.5 156.20H451.9" stroke="#3030f0" stroke-width="0.75"/>
<path d="M380.3 156.4V144.9H433.5V156.4" fill="none" stroke="#6262ff" stroke-width="1.2"/>
<path d="M301.7 142.0V156.0M300.8 142.0H301.7M300.8 149.00H301.7" stroke="#666" stroke-width="0.5" fill="none"/>
<text x="300.2" y="143.7" text-anchor="end" style="font-family:'Liberation Sans',Arial,sans-serif;font-size:4.7px;fill:#1a1a1a">2000</text>
<text x="300.2" y="150.7" text-anchor="end" style="font-family:'Liberation Sans',Arial,sans-serif;font-size:4.7px;fill:#1a1a1a">1000</text>
<text x="300.2" y="158.4" text-anchor="end" style="font-family:'Liberation Sans',Arial,sans-serif;font-size:4.7px;fill:#1a1a1a">0</text>
<text x="302.0" y="163.6" text-anchor="middle" style="font-family:'Liberation Sans',Arial,sans-serif;font-size:4.7px;fill:#1a1a1a">12:00</text>
<text x="320.7" y="163.6" text-anchor="middle" style="font-family:'Liberation Sans',Arial,sans-serif;font-size:4.7px;fill:#1a1a1a">15:00</text>
<text x="339.5" y="163.6" text-anchor="middle" style="font-family:'Liberation Sans',Arial,sans-serif;font-size:4.7px;fill:#1a1a1a">18:00</text>
<text x="358.2" y="163.6" text-anchor="middle" style="font-family:'Liberation Sans',Arial,sans-serif;font-size:4.7px;fill:#1a1a1a">21:00</text>
<text x="376.9" y="163.6" text-anchor="middle" style="font-family:'Liberation Sans',Arial,sans-serif;font-size:4.7px;fill:#1a1a1a">00:00</text>
<text x="395.7" y="163.6" text-anchor="middle" style="font-family:'Liberation Sans',Arial,sans-serif;font-size:4.7px;fill:#1a1a1a">03:00</text>
<text x="414.4" y="163.6" text-anchor="middle" style="font-family:'Liberation Sans',Arial,sans-serif;font-size:4.7px;fill:#1a1a1a">06:00</text>
<text x="433.2" y="163.6" text-anchor="middle" style="font-family:'Liberation Sans',Arial,sans-serif;font-size:4.7px;fill:#1a1a1a">09:00</text>
<text x="451.9" y="163.6" text-anchor="middle" style="font-family:'Liberation Sans',Arial,sans-serif;font-size:4.7px;fill:#1a1a1a">12:00</text>
<text x="376.9" y="170.4" text-anchor="middle" style="font-family:'Liberation Sans',Arial,sans-serif;font-size:4.7px;fill:#1a1a1a;font-weight:bold;font-size:5.0px">Time</text>
<path d="M302.0 201.50H455.5" stroke="#c8c830" stroke-width="0.8"/>
<path d="M302.0 202.0V190.41H304.2V202.0ZM304.6 202.0V190.76H305.7V202.0ZM305.7 202.0V190.01H308.5V202.0ZM309.1 202.0V190.45H312.4V202.0ZM312.7 202.0V190.25H315.5V202.0ZM315.5 202.0V191.05H319.3V202.0ZM320.7 202.0V191.01H324.0V202.0ZM324.0 202.0V190.42H328.0V202.0ZM328.0 202.0V190.43H329.6V202.0ZM331.0 202.0V189.39H331.9V202.0ZM331.9 202.0V189.80H332.9V202.0ZM332.9 202.0V190.77H334.4V202.0ZM335.3 202.0V190.50H336.5V202.0ZM336.5 202.0V190.66H337.9V202.0ZM338.5 202.0V189.28H342.2V202.0ZM343.4 202.0V190.76H345.3V202.0ZM345.3 202.0V188.97H346.3V202.0ZM346.3 202.0V190.92H349.6V202.0ZM349.6 202.0V190.64H350.9V202.0ZM350.9 202.0V191.07H352.0V202.0ZM354.0 202.0V190.23H355.3V202.0ZM355.3 202.0V190.65H358.6V202.0ZM358.6 202.0V191.01H362.0V202.0ZM362.0 202.0V188.99H365.5V202.0ZM365.5 202.0V190.27H367.3V202.0ZM408.0 202.0V190.16H410.7V202.0ZM411.5 202.0V190.95H415.1V202.0ZM415.1 202.0V190.61H417.0V202.0ZM417.9 202.0V189.41H421.1V202.0ZM421.1 202.0V190.74H422.7V202.0ZM422.7 202.0V190.26H424.9V202.0ZM424.9 202.0V189.32H427.1V202.0ZM427.7 202.0V190.58H431.5V202.0ZM431.5 202.0V194.55H433.7V202.0ZM433.7 202.0V194.07H434.9V202.0ZM435.6 202.0V190.93H439.3V202.0ZM440.2 202.0V190.74H443.0V202.0ZM443.0 202.0V190.21H445.7V202.0ZM446.4 202.0V190.38H449.7V202.0ZM449.7 202.0V190.30H451.3V202.0ZM451.3 202.0V190.31H452.3V202.0ZM453.1 202.0V190.50H455.5V202.0Z" fill="#ffff00"/>
<polygon points="302.3,202.00 302.3,201.37 302.8,200.63 303.3,200.33 303.8,201.22 304.3,199.94 304.8,200.54 305.3,201.07 305.8,201.27 306.3,200.70 306.8,200.96 307.3,196.45 307.8,201.53 308.3,201.25 308.8,200.66 309.3,200.66 309.8,201.12 310.3,200.66 310.8,201.56 311.3,199.61 311.8,200.34 312.3,200.30 312.8,201.49 313.3,200.64 313.8,198.17 314.3,200.99 314.8,200.58 315.3,201.13 315.8,201.16 316.3,201.18 316.8,200.96 317.3,199.58 317.8,200.01 318.3,200.26 318.8,200.98 319.3,201.35 319.8,199.45 320.3,201.00 320.8,195.32 321.3,199.30 321.8,200.53 322.3,201.12 322.8,198.82 323.3,199.96 323.8,200.91 324.3,200.93 324.8,199.53 325.3,201.43 325.8,194.94 326.3,201.42 326.8,201.09 327.3,200.90 327.8,199.96 328.3,198.77 328.8,195.10 329.3,200.21 329.8,200.57 330.3,198.52 330.8,200.64 331.3,200.31 331.8,199.71 332.3,197.63 332.8,199.90 333.3,200.91 333.8,201.56 334.3,201.14 334.8,200.18 335.3,201.03 335.8,201.04 336.3,200.61 336.8,200.39 337.3,200.64 337.8,200.78 338.3,200.55 338.8,198.70 339.3,200.49 339.8,200.39 340.3,200.27 340.8,200.58 341.3,200.52 341.8,199.44 342.3,201.41 342.8,200.64 343.3,200.42 343.8,200.33 344.3,201.00 344.8,201.52 345.3,200.00 345.8,199.62 346.3,200.40 346.8,199.92 347.3,199.72 347.8,199.57 348.3,199.28 348.8,200.61 349.3,201.13 349.8,200.36 350.3,200.36 350.8,201.22 351.3,201.33 351.8,200.26 352.3,201.35 352.8,201.34 353.3,201.51 353.8,201.24 354.3,199.42 354.8,201.20 355.3,200.51 355.8,199.36 356.3,197.62 356.8,201.21 357.3,200.68 357.8,201.46 358.3,200.34 358.8,200.73 359.3,201.41 359.8,200.26 360.3,201.19 360.8,200.93 361.3,201.52 361.8,200.96 362.3,199.61 362.8,201.42 363.3,199.90 363.8,201.07 364.3,199.80 364.8,201.17 365.3,199.37 365.8,201.26 366.3,201.51 366.8,201.19 367.3,201.21 367.8,201.25 368.3,201.35 368.8,201.33 369.3,201.35 369.8,201.55 370.3,198.89 370.8,201.39 371.3,201.12 371.8,201.53 372.3,201.19 372.8,201.37 373.3,201.43 373.8,200.63 374.3,201.51 374.8,201.24 375.3,201.23 375.8,201.32 376.3,201.32 376.8,201.12 377.3,201.47 377.8,201.52 378.3,201.45 378.8,201.42 379.3,201.52 379.8,201.23 380.3,201.31 380.8,201.40 381.3,201.50 381.8,201.51 382.3,201.31 382.8,201.53 383.3,201.06 383.8,201.39 384.3,200.53 384.8,201.44 385.3,200.59 385.8,200.85 386.3,197.82 386.8,200.79 387.3,200.58 387.8,201.53 388.3,201.48 388.8,201.48 389.3,201.49 389.8,201.26 390.3,199.85 390.8,201.09 391.3,201.50 391.8,201.21 392.3,201.19 392.8,201.46 393.3,201.12 393.8,201.53 394.3,201.44 394.8,201.09 395.3,200.90 395.8,201.40 396.3,201.43 396.8,201.33 397.3,201.32 397.8,201.54 398.3,201.30 398.8,201.35 399.3,201.44 399.8,201.24 400.3,201.44 400.8,201.42 401.3,201.49 401.8,201.23 402.3,201.08 402.8,201.39 403.3,201.24 403.8,201.52 404.3,201.51 404.8,199.04 405.3,201.37 405.8,201.53 406.3,201.40 406.8,201.36 407.3,201.55 407.8,201.11 408.3,201.49 408.8,194.44 409.3,201.06 409.8,199.61 410.3,201.08 410.8,199.82 411.3,201.25 411.8,200.59 412.3,197.88 412.8,200.93 413.3,199.10 413.8,200.05 414.3,201.01 414.8,197.67 415.3,201.05 415.8,199.35 416.3,200.90 416.8,200.29 417.3,195.60 417.8,201.14 418.3,201.52 418.8,201.36 419.3,196.21 419.8,200.74 420.3,200.63 420.8,200.52 421.3,199.93 421.8,199.88 422.3,200.78 422.8,199.96 423.3,200.43 423.8,200.46 424.3,201.08 424.8,200.16 425.3,200.51 425.8,200.85 426.3,196.66 426.8,199.76 427.3,198.01 427.8,199.92 428.3,197.68 428.8,200.76 429.3,201.09 429.8,198.74 430.3,201.44 430.8,201.35 431.3,199.94 431.8,199.95 432.3,200.24 432.8,201.23 433.3,198.92 433.8,200.61 434.3,195.50 434.8,201.15 435.3,199.85 435.8,201.03 436.3,201.34 436.8,200.28 437.3,200.41 437.8,201.01 438.3,200.72 438.8,197.14 439.3,201.31 439.8,201.49 440.3,198.93 440.8,201.27 441.3,199.81 441.8,201.09 442.3,199.71 442.8,201.37 443.3,200.90 443.8,201.31 444.3,201.44 444.8,200.57 445.3,200.50 445.8,196.07 446.3,201.08 446.8,201.54 447.3,200.59 447.8,200.52 448.3,200.90 448.8,200.22 449.3,200.22 449.8,200.55 450.3,195.82 450.8,201.18 451.3,199.89 451.8,199.71 452.3,200.73 452.8,200.67 453.3,200.88 453.8,199.47 454.3,201.04 454.8,200.30 455.3,200.93 455.3,202.00" fill="#000"/>
<path d="M302.0 202.20H367.3M408.0 202.20H455.5" stroke="#3030f0" stroke-width="0.75"/>
<path d="M367.3 202.4V185.2H408.0V202.4" fill="none" stroke="#6262ff" stroke-width="1.2"/>
<path d="M301.7 180.2V202.0M300.8 180.2H301.7M300.8 191.10H301.7" stroke="#666" stroke-width="0.5" fill="none"/>
<text x="300.2" y="181.9" text-anchor="end" style="font-family:'Liberation Sans',Arial,sans-serif;font-size:4.7px;fill:#1a1a1a">2000</text>
<text x="300.2" y="192.8" text-anchor="end" style="font-family:'Liberation Sans',Arial,sans-serif;font-size:4.7px;fill:#1a1a1a">1000</text>
<text x="300.2" y="204.4" text-anchor="end" style="font-family:'Liberation Sans',Arial,sans-serif;font-size:4.7px;fill:#1a1a1a">0</text>
<text x="302.0" y="209.0" text-anchor="middle" style="font-family:'Liberation Sans',Arial,sans-serif;font-size:4.7px;fill:#1a1a1a">12:00</text>
<text x="321.2" y="209.0" text-anchor="middle" style="font-family:'Liberation Sans',Arial,sans-serif;font-size:4.7px;fill:#1a1a1a">15:00</text>
<text x="340.4" y="209.0" text-anchor="middle" style="font-family:'Liberation Sans',Arial,sans-serif;font-size:4.7px;fill:#1a1a1a">18:00</text>
<text x="359.6" y="209.0" text-anchor="middle" style="font-family:'Liberation Sans',Arial,sans-serif;font-size:4.7px;fill:#1a1a1a">21:00</text>
<text x="378.8" y="209.0" text-anchor="middle" style="font-family:'Liberation Sans',Arial,sans-serif;font-size:4.7px;fill:#1a1a1a">00:00</text>
<text x="397.9" y="209.0" text-anchor="middle" style="font-family:'Liberation Sans',Arial,sans-serif;font-size:4.7px;fill:#1a1a1a">03:00</text>
<text x="417.1" y="209.0" text-anchor="middle" style="font-family:'Liberation Sans',Arial,sans-serif;font-size:4.7px;fill:#1a1a1a">06:00</text>
<text x="436.3" y="209.0" text-anchor="middle" style="font-family:'Liberation Sans',Arial,sans-serif;font-size:4.7px;fill:#1a1a1a">09:00</text>
<text x="455.5" y="209.0" text-anchor="middle" style="font-family:'Liberation Sans',Arial,sans-serif;font-size:4.7px;fill:#1a1a1a">12:00</text>
<text x="378.8" y="215.8" text-anchor="middle" style="font-family:'Liberation Sans',Arial,sans-serif;font-size:4.7px;fill:#1a1a1a;font-weight:bold;font-size:5.0px">Time</text>
<path d="M302.0 241.50H455.5" stroke="#c8c830" stroke-width="0.8"/>
<path d="M302.0 242.0V230.83H304.5V242.0ZM304.5 242.0V230.72H308.0V242.0ZM308.0 242.0V231.13H311.1V242.0ZM311.5 242.0V231.13H312.5V242.0ZM312.5 242.0V231.33H314.9V242.0ZM316.1 242.0V229.16H318.8V242.0ZM320.4 242.0V230.43H321.5V242.0ZM322.0 242.0V230.76H323.0V242.0ZM323.0 242.0V231.32H325.4V242.0ZM325.4 242.0V231.36H328.8V242.0ZM330.7 242.0V230.76H333.7V242.0ZM336.4 242.0V230.73H338.2V242.0ZM338.2 242.0V232.81H341.1V242.0ZM341.1 242.0V230.66H344.6V242.0ZM345.7 242.0V231.28H346.7V242.0ZM346.7 242.0V230.82H350.3V242.0ZM350.3 242.0V231.34H353.3V242.0ZM353.3 242.0V230.53H354.4V242.0ZM354.4 242.0V230.52H355.8V242.0ZM355.8 242.0V230.70H358.8V242.0ZM359.4 242.0V231.20H362.6V242.0ZM363.3 242.0V230.77H365.4V242.0ZM365.4 242.0V233.56H365.7V242.0ZM414.2 242.0V230.76H417.7V242.0ZM418.3 242.0V231.24H420.2V242.0ZM420.2 242.0V231.18H422.8V242.0ZM422.8 242.0V230.99H426.0V242.0ZM426.9 242.0V232.61H429.8V242.0ZM430.9 242.0V230.83H433.7V242.0ZM435.2 242.0V230.55H436.4V242.0ZM437.0 242.0V230.46H440.1V242.0ZM440.5 242.0V231.31H443.0V242.0ZM443.0 242.0V231.13H445.9V242.0ZM445.9 242.0V230.81H448.6V242.0ZM450.3 242.0V230.80H451.4V242.0ZM452.0 242.0V230.42H453.6V242.0ZM453.6 242.0V230.39H455.5V242.0Z" fill="#ffff00"/>
<polygon points="302.3,242.00 302.3,241.18 302.8,239.34 303.3,241.00 303.8,239.97 304.3,240.67 304.8,240.32 305.3,240.89 305.8,241.02 306.3,240.48 306.8,241.55 307.3,239.84 307.8,240.65 308.3,240.80 308.8,239.67 309.3,240.04 309.8,241.30 310.3,240.81 310.8,241.51 311.3,241.51 311.8,240.63 312.3,241.25 312.8,241.42 313.3,241.06 313.8,240.29 314.3,241.28 314.8,240.96 315.3,235.85 315.8,240.97 316.3,238.49 316.8,239.97 317.3,240.35 317.8,241.56 318.3,240.81 318.8,239.94 319.3,239.31 319.8,241.57 320.3,240.19 320.8,240.52 321.3,241.47 321.8,240.71 322.3,236.20 322.8,238.34 323.3,239.12 323.8,241.47 324.3,238.70 324.8,235.23 325.3,235.51 325.8,241.21 326.3,241.53 326.8,241.03 327.3,241.46 327.8,240.56 328.3,240.06 328.8,238.58 329.3,239.23 329.8,239.38 330.3,239.58 330.8,240.78 331.3,241.51 331.8,240.22 332.3,239.94 332.8,239.92 333.3,241.06 333.8,235.06 334.3,240.52 334.8,240.88 335.3,240.90 335.8,240.63 336.3,239.93 336.8,237.98 337.3,241.44 337.8,239.95 338.3,239.75 338.8,241.02 339.3,240.70 339.8,241.08 340.3,235.69 340.8,239.79 341.3,241.56 341.8,240.99 342.3,240.96 342.8,241.25 343.3,239.94 343.8,239.73 344.3,241.22 344.8,241.46 345.3,240.38 345.8,239.24 346.3,241.06 346.8,237.70 347.3,239.00 347.8,241.26 348.3,241.29 348.8,241.14 349.3,239.12 349.8,240.35 350.3,240.84 350.8,241.48 351.3,241.04 351.8,240.78 352.3,239.22 352.8,240.04 353.3,240.79 353.8,239.55 354.3,240.24 354.8,239.28 355.3,240.82 355.8,240.40 356.3,241.03 356.8,240.38 357.3,241.56 357.8,241.17 358.3,241.00 358.8,240.26 359.3,240.97 359.8,238.66 360.3,240.12 360.8,239.81 361.3,241.21 361.8,239.59 362.3,241.15 362.8,241.56 363.3,240.24 363.8,241.38 364.3,241.09 364.8,234.58 365.3,240.25 365.8,241.53 366.3,241.34 366.8,240.25 367.3,241.35 367.8,241.29 368.3,241.12 368.8,241.23 369.3,241.12 369.8,240.83 370.3,241.54 370.8,241.43 371.3,241.46 371.8,241.47 372.3,241.25 372.8,241.57 373.3,241.50 373.8,241.56 374.3,241.25 374.8,241.25 375.3,241.01 375.8,240.89 376.3,239.01 376.8,241.38 377.3,241.35 377.8,241.27 378.3,241.32 378.8,241.29 379.3,240.92 379.8,241.37 380.3,241.27 380.8,241.56 381.3,241.53 381.8,241.51 382.3,241.20 382.8,241.14 383.3,240.93 383.8,241.41 384.3,241.20 384.8,241.35 385.3,241.51 385.8,241.33 386.3,240.78 386.8,240.62 387.3,240.71 387.8,241.46 388.3,241.24 388.8,241.40 389.3,241.39 389.8,241.49 390.3,241.53 390.8,241.51 391.3,241.45 391.8,241.53 392.3,241.56 392.8,241.11 393.3,241.53 393.8,241.29 394.3,241.24 394.8,241.50 395.3,241.50 395.8,241.19 396.3,241.32 396.8,241.25 397.3,241.54 397.8,241.56 398.3,241.28 398.8,241.54 399.3,241.16 399.8,240.77 400.3,241.01 400.8,241.40 401.3,241.12 401.8,241.06 402.3,241.51 402.8,241.30 403.3,241.32 403.8,241.47 404.3,241.17 404.8,241.53 405.3,240.32 405.8,241.29 406.3,241.40 406.8,241.37 407.3,241.40 407.8,241.34 408.3,241.54 408.8,241.44 409.3,240.71 409.8,241.44 410.3,241.34 410.8,241.04 411.3,238.62 411.8,241.33 412.3,238.22 412.8,241.47 413.3,241.28 413.8,241.54 414.3,240.35 414.8,237.67 415.3,240.66 415.8,240.98 416.3,240.64 416.8,240.73 417.3,235.15 417.8,241.10 418.3,241.16 418.8,241.01 419.3,239.07 419.8,241.47 420.3,241.53 420.8,234.37 421.3,239.75 421.8,241.52 422.3,235.74 422.8,240.77 423.3,234.80 423.8,239.81 424.3,240.33 424.8,240.68 425.3,241.51 425.8,240.09 426.3,240.37 426.8,239.46 427.3,240.43 427.8,241.01 428.3,239.88 428.8,240.93 429.3,241.26 429.8,240.79 430.3,240.19 430.8,241.25 431.3,240.41 431.8,241.34 432.3,240.90 432.8,239.62 433.3,240.66 433.8,239.82 434.3,238.27 434.8,236.01 435.3,240.76 435.8,241.35 436.3,240.99 436.8,240.87 437.3,241.31 437.8,241.45 438.3,241.43 438.8,241.21 439.3,240.98 439.8,241.25 440.3,241.46 440.8,240.76 441.3,240.31 441.8,238.81 442.3,240.96 442.8,240.78 443.3,240.94 443.8,239.54 444.3,240.60 444.8,239.26 445.3,241.02 445.8,241.34 446.3,240.64 446.8,235.14 447.3,235.49 447.8,239.68 448.3,240.81 448.8,241.28 449.3,240.16 449.8,241.39 450.3,239.99 450.8,238.04 451.3,240.98 451.8,240.48 452.3,240.76 452.8,239.71 453.3,240.27 453.8,241.14 454.3,240.63 454.8,240.73 455.3,239.15 455.3,242.00" fill="#000"/>
<path d="M302.0 242.20H365.7M414.2 242.20H455.5" stroke="#3030f0" stroke-width="0.75"/>
<path d="M365.7 242.4V225.6H414.2V242.4" fill="none" stroke="#6262ff" stroke-width="1.2"/>
<path d="M301.7 220.6V242.0M300.8 220.6H301.7M300.8 231.30H301.7" stroke="#666" stroke-width="0.5" fill="none"/>
<text x="300.2" y="222.3" text-anchor="end" style="font-family:'Liberation Sans',Arial,sans-serif;font-size:4.7px;fill:#1a1a1a">2000</text>
<text x="300.2" y="233.0" text-anchor="end" style="font-family:'Liberation Sans',Arial,sans-serif;font-size:4.7px;fill:#1a1a1a">1000</text>
<text x="300.2" y="244.4" text-anchor="end" style="font-family:'Liberation Sans',Arial,sans-serif;font-size:4.7px;fill:#1a1a1a">0</text>
<text x="302.0" y="249.0" text-anchor="middle" style="font-family:'Liberation Sans',Arial,sans-serif;font-size:4.7px;fill:#1a1a1a">12:00</text>
<text x="321.2" y="249.0" text-anchor="middle" style="font-family:'Liberation Sans',Arial,sans-serif;font-size:4.7px;fill:#1a1a1a">15:00</text>
<text x="340.4" y="249.0" text-anchor="middle" style="font-family:'Liberation Sans',Arial,sans-serif;font-size:4.7px;fill:#1a1a1a">18:00</text>
<text x="359.6" y="249.0" text-anchor="middle" style="font-family:'Liberation Sans',Arial,sans-serif;font-size:4.7px;fill:#1a1a1a">21:00</text>
<text x="378.8" y="249.0" text-anchor="middle" style="font-family:'Liberation Sans',Arial,sans-serif;font-size:4.7px;fill:#1a1a1a">00:00</text>
<text x="397.9" y="249.0" text-anchor="middle" style="font-family:'Liberation Sans',Arial,sans-serif;font-size:4.7px;fill:#1a1a1a">03:00</text>
<text x="417.1" y="249.0" text-anchor="middle" style="font-family:'Liberation Sans',Arial,sans-serif;font-size:4.7px;fill:#1a1a1a">06:00</text>
<text x="436.3" y="249.0" text-anchor="middle" style="font-family:'Liberation Sans',Arial,sans-serif;font-size:4.7px;fill:#1a1a1a">09:00</text>
<text x="455.5" y="249.0" text-anchor="middle" style="font-family:'Liberation Sans',Arial,sans-serif;font-size:4.7px;fill:#1a1a1a">12:00</text>
<text x="378.8" y="255.8" text-anchor="middle" style="font-family:'Liberation Sans',Arial,sans-serif;font-size:4.7px;fill:#1a1a1a;font-weight:bold;font-size:5.0px">Time</text>
<path d="M302.0 281.50H455.6" stroke="#c8c830" stroke-width="0.8"/>
<path d="M302.0 282.0V271.94H304.1V282.0ZM305.2 282.0V271.11H308.6V282.0ZM308.6 282.0V270.47H312.2V282.0ZM312.2 282.0V270.87H315.3V282.0ZM315.3 282.0V271.22H318.1V282.0ZM318.1 282.0V271.36H321.3V282.0ZM321.3 282.0V270.40H322.5V282.0ZM322.5 282.0V271.13H326.1V282.0ZM327.0 282.0V270.92H330.8V282.0ZM330.8 282.0V270.42H333.7V282.0ZM333.7 282.0V270.49H335.8V282.0ZM337.0 282.0V269.73H338.5V282.0ZM338.5 282.0V271.27H342.1V282.0ZM342.5 282.0V269.78H344.1V282.0ZM344.1 282.0V271.34H347.8V282.0ZM349.1 282.0V270.54H350.6V282.0ZM350.6 282.0V271.07H353.5V282.0ZM355.5 282.0V270.58H356.4V282.0ZM356.4 282.0V273.26H359.6V282.0ZM359.6 282.0V269.76H363.2V282.0ZM363.2 282.0V269.88H367.2V282.0ZM367.2 282.0V270.44H369.7V282.0ZM370.1 282.0V270.49H370.9V282.0ZM371.7 282.0V271.20H373.0V282.0ZM373.0 282.0V271.16H373.8V282.0ZM373.8 282.0V269.90H375.0V282.0ZM426.6 282.0V271.24H430.6V282.0ZM430.6 282.0V274.39H431.4V282.0ZM431.4 282.0V270.78H434.3V282.0ZM434.3 282.0V271.28H437.9V282.0ZM440.1 282.0V270.89H443.6V282.0ZM443.6 282.0V274.74H446.2V282.0ZM446.2 282.0V270.95H448.7V282.0ZM448.7 282.0V271.13H450.0V282.0ZM450.0 282.0V271.23H453.6V282.0ZM454.5 282.0V270.52H455.6V282.0Z" fill="#ffff00"/>
<polygon points="302.3,282.00 302.3,278.56 302.8,281.32 303.3,280.58 303.8,281.26 304.3,278.63 304.8,280.40 305.3,280.89 305.8,281.00 306.3,281.22 306.8,281.25 307.3,279.61 307.8,280.78 308.3,280.67 308.8,280.77 309.3,279.82 309.8,281.02 310.3,280.26 310.8,279.47 311.3,279.64 311.8,281.16 312.3,280.49 312.8,280.68 313.3,280.28 313.8,280.10 314.3,280.67 314.8,280.93 315.3,281.55 315.8,280.97 316.3,279.85 316.8,280.99 317.3,281.03 317.8,279.97 318.3,280.27 318.8,278.68 319.3,280.31 319.8,276.34 320.3,280.66 320.8,280.98 321.3,280.27 321.8,279.68 322.3,274.42 322.8,279.36 323.3,280.02 323.8,281.39 324.3,280.44 324.8,281.56 325.3,281.53 325.8,278.67 326.3,281.31 326.8,279.98 327.3,281.22 327.8,281.56 328.3,280.77 328.8,280.20 329.3,279.89 329.8,280.53 330.3,281.32 330.8,281.18 331.3,281.39 331.8,280.68 332.3,281.28 332.8,281.45 333.3,280.08 333.8,280.12 334.3,279.99 334.8,279.43 335.3,280.74 335.8,281.39 336.3,280.66 336.8,280.13 337.3,280.88 337.8,279.16 338.3,280.92 338.8,281.40 339.3,279.84 339.8,280.59 340.3,281.54 340.8,281.51 341.3,281.38 341.8,280.84 342.3,280.64 342.8,280.32 343.3,281.14 343.8,280.80 344.3,280.14 344.8,280.78 345.3,280.31 345.8,277.33 346.3,279.93 346.8,280.90 347.3,279.82 347.8,280.56 348.3,281.06 348.8,281.15 349.3,280.70 349.8,280.51 350.3,281.53 350.8,280.60 351.3,279.19 351.8,281.53 352.3,281.45 352.8,275.80 353.3,281.46 353.8,279.59 354.3,280.08 354.8,280.41 355.3,280.95 355.8,280.36 356.3,281.04 356.8,280.47 357.3,279.37 357.8,279.98 358.3,278.70 358.8,281.05 359.3,278.36 359.8,280.72 360.3,278.74 360.8,276.71 361.3,280.24 361.8,280.06 362.3,281.53 362.8,280.52 363.3,280.63 363.8,280.99 364.3,280.35 364.8,280.92 365.3,280.82 365.8,279.38 366.3,281.14 366.8,281.29 367.3,280.34 367.8,281.35 368.3,281.16 368.8,280.87 369.3,281.22 369.8,281.49 370.3,279.98 370.8,280.44 371.3,279.60 371.8,280.12 372.3,280.31 372.8,279.08 373.3,280.15 373.8,281.18 374.3,279.77 374.8,281.20 375.3,280.97 375.8,281.22 376.3,281.31 376.8,281.23 377.3,281.56 377.8,280.96 378.3,281.52 378.8,281.33 379.3,281.37 379.8,281.38 380.3,281.20 380.8,280.76 381.3,281.43 381.8,281.53 382.3,281.57 382.8,281.43 383.3,281.34 383.8,281.35 384.3,281.36 384.8,279.50 385.3,280.87 385.8,281.35 386.3,281.16 386.8,281.51 387.3,281.55 387.8,281.22 388.3,278.69 388.8,281.49 389.3,281.22 389.8,281.35 390.3,281.14 390.8,281.17 391.3,281.37 391.8,281.08 392.3,281.52 392.8,281.02 393.3,281.46 393.8,281.46 394.3,281.51 394.8,281.13 395.3,281.49 395.8,281.27 396.3,281.07 396.8,281.14 397.3,281.12 397.8,281.56 398.3,281.51 398.8,280.95 399.3,281.50 399.8,281.43 400.3,281.34 400.8,280.94 401.3,281.37 401.8,281.27 402.3,281.52 402.8,281.21 403.3,281.09 403.8,281.14 404.3,281.34 404.8,278.78 405.3,281.54 405.8,280.97 406.3,281.33 406.8,281.40 407.3,281.57 407.8,281.44 408.3,281.34 408.8,281.56 409.3,281.35 409.8,281.34 410.3,281.25 410.8,280.87 411.3,281.54 411.8,281.48 412.3,281.17 412.8,281.53 413.3,281.36 413.8,280.94 414.3,281.57 414.8,280.99 415.3,281.32 415.8,281.50 416.3,281.51 416.8,281.38 417.3,281.38 417.8,281.49 418.3,281.51 418.8,281.57 419.3,281.48 419.8,281.43 420.3,281.31 420.8,281.45 421.3,280.96 421.8,281.40 422.3,281.37 422.8,281.43 423.3,281.43 423.8,280.78 424.3,281.49 424.8,281.51 425.3,281.22 425.8,281.04 426.3,281.37 426.8,280.90 427.3,279.51 427.8,275.85 428.3,280.92 428.8,280.45 429.3,280.63 429.8,280.80 430.3,281.11 430.8,280.48 431.3,281.37 431.8,280.58 432.3,280.50 432.8,281.49 433.3,280.72 433.8,281.18 434.3,279.64 434.8,281.45 435.3,279.46 435.8,280.79 436.3,281.12 436.8,278.68 437.3,281.51 437.8,280.75 438.3,281.14 438.8,281.27 439.3,280.54 439.8,281.53 440.3,281.12 440.8,281.13 441.3,280.42 441.8,280.63 442.3,279.52 442.8,280.47 443.3,280.73 443.8,280.87 444.3,281.22 444.8,281.04 445.3,281.36 445.8,281.46 446.3,280.28 446.8,281.11 447.3,279.51 447.8,280.76 448.3,277.97 448.8,281.09 449.3,279.83 449.8,280.40 450.3,276.08 450.8,280.77 451.3,281.46 451.8,281.47 452.3,279.67 452.8,280.46 453.3,276.18 453.8,281.55 454.3,279.77 454.8,280.91 455.3,278.97 455.3,282.00" fill="#000"/>
<path d="M302.0 282.20H375.0M426.6 282.20H455.6" stroke="#3030f0" stroke-width="0.75"/>
<path d="M375.0 282.4V265.8H426.6V282.4" fill="none" stroke="#6262ff" stroke-width="1.2"/>
<path d="M301.7 260.6V282.0M300.8 260.6H301.7M300.8 271.30H301.7" stroke="#666" stroke-width="0.5" fill="none"/>
<text x="300.2" y="262.3" text-anchor="end" style="font-family:'Liberation Sans',Arial,sans-serif;font-size:4.7px;fill:#1a1a1a">2000</text>
<text x="300.2" y="273.0" text-anchor="end" style="font-family:'Liberation Sans',Arial,sans-serif;font-size:4.7px;fill:#1a1a1a">1000</text>
<text x="300.2" y="284.4" text-anchor="end" style="font-family:'Liberation Sans',Arial,sans-serif;font-size:4.7px;fill:#1a1a1a">0</text>
<text x="302.0" y="289.0" text-anchor="middle" style="font-family:'Liberation Sans',Arial,sans-serif;font-size:4.7px;fill:#1a1a1a">12:00</text>
<text x="323.9" y="289.0" text-anchor="middle" style="font-family:'Liberation Sans',Arial,sans-serif;font-size:4.7px;fill:#1a1a1a">15:00</text>
<text x="345.9" y="289.0" text-anchor="middle" style="font-family:'Liberation Sans',Arial,sans-serif;font-size:4.7px;fill:#1a1a1a">18:00</text>
<text x="367.8" y="289.0" text-anchor="middle" style="font-family:'Liberation Sans',Arial,sans-serif;font-size:4.7px;fill:#1a1a1a">21:00</text>
<text x="389.8" y="289.0" text-anchor="middle" style="font-family:'Liberation Sans',Arial,sans-serif;font-size:4.7px;fill:#1a1a1a">00:00</text>
<text x="411.7" y="289.0" text-anchor="middle" style="font-family:'Liberation Sans',Arial,sans-serif;font-size:4.7px;fill:#1a1a1a">03:00</text>
<text x="433.7" y="289.0" text-anchor="middle" style="font-family:'Liberation Sans',Arial,sans-serif;font-size:4.7px;fill:#1a1a1a">06:00</text>
<text x="455.6" y="289.0" text-anchor="middle" style="font-family:'Liberation Sans',Arial,sans-serif;font-size:4.7px;fill:#1a1a1a">09:00</text>
<text x="378.8" y="295.8" text-anchor="middle" style="font-family:'Liberation Sans',Arial,sans-serif;font-size:4.7px;fill:#1a1a1a;font-weight:bold;font-size:5.0px">Time</text>
<ellipse cx="315.3" cy="45.6" rx="17.8" ry="14.6" fill="none" stroke="#ee1111" stroke-width="1.4"/>
<text x="443" y="22.4" text-anchor="middle" style="font-family:'Liberation Serif','Times New Roman',serif;font-size:11.1px;fill:#151515;stroke:#151515;stroke-width:0.22px">Sleep time interval (blue)</text>
<text x="508" y="123" text-anchor="middle" style="font-family:'Liberation Serif','Times New Roman',serif;font-size:11.1px;fill:#151515;stroke:#151515;stroke-width:0.22px">Motion detection</text>
<text x="507.5" y="136.6" text-anchor="middle" style="font-family:'Liberation Serif','Times New Roman',serif;font-size:11.1px;fill:#151515;stroke:#151515;stroke-width:0.22px">(black)</text>
<text x="497.7" y="191.3" text-anchor="middle" style="font-family:'Liberation Serif','Times New Roman',serif;font-size:11.1px;fill:#151515;stroke:#151515;stroke-width:0.22px">Light detection</text>
<text x="498" y="205.5" text-anchor="middle" style="font-family:'Liberation Serif','Times New Roman',serif;font-size:11.1px;fill:#151515;stroke:#151515;stroke-width:0.22px">(yellow)</text>
<line x1="421.8" y1="27.3" x2="394.84" y2="37.28" stroke="#ee1111" stroke-width="2.6"/>
<polygon points="386.4,40.4 393.35,33.24 396.33,41.31" fill="#ee1111"/>
<line x1="483.4" y1="137.4" x2="451.96" y2="149.88" stroke="#ee1111" stroke-width="2.6"/>
<polygon points="443.6,153.2 450.38,145.88 453.55,153.88" fill="#ee1111"/>
<line x1="459.7" y1="190.8" x2="435.99" y2="192.03" stroke="#ee1111" stroke-width="2.6"/>
<polygon points="427,192.5 435.76,187.74 436.21,196.33" fill="#ee1111"/></svg>
</body></html>
